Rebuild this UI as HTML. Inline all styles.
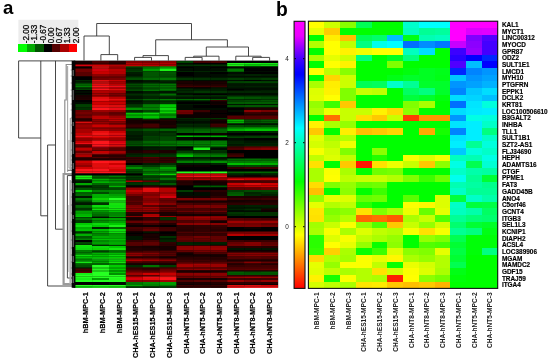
<!DOCTYPE html>
<html><head><meta charset="utf-8"><title>Figure</title>
<style>html,body{margin:0;padding:0;background:#fff}body{width:550px;height:360px;position:relative;overflow:hidden;font-family:"Liberation Sans",sans-serif}</style>
</head><body>
<svg width="550" height="360" viewBox="0 0 550 360" style="position:absolute;left:0;top:0">
<rect width="550" height="360" fill="#fff"/>
<defs><filter id="bl" x="-2%" y="-2%" width="104%" height="104%"><feGaussianBlur stdDeviation="0.35 0.6"/></filter></defs>
<g filter="url(#bl)">
<rect x="73.4" y="60.6" width="204.8" height="227.2" fill="#000"/>
<rect x="75.20" y="61.00" width="16.94" height="2.05" fill="#190000"/>
<rect x="75.20" y="63.00" width="16.94" height="1.55" fill="#130000"/>
<rect x="75.20" y="64.50" width="16.94" height="2.05" fill="#d70608"/>
<rect x="75.20" y="66.50" width="16.94" height="1.05" fill="#150000"/>
<rect x="75.20" y="67.50" width="16.94" height="1.05" fill="#0a0000"/>
<rect x="75.20" y="68.50" width="16.94" height="2.55" fill="#720000"/>
<rect x="75.20" y="71.00" width="16.94" height="1.05" fill="#720000"/>
<rect x="75.20" y="72.00" width="16.94" height="2.05" fill="#590000"/>
<rect x="75.20" y="74.00" width="16.94" height="2.55" fill="#580000"/>
<rect x="75.20" y="76.50" width="16.94" height="1.05" fill="#000100"/>
<rect x="75.20" y="77.50" width="16.94" height="2.55" fill="#000400"/>
<rect x="75.20" y="80.00" width="16.94" height="1.55" fill="#002b00"/>
<rect x="75.20" y="81.50" width="16.94" height="1.05" fill="#001200"/>
<rect x="75.20" y="82.50" width="16.94" height="1.05" fill="#003a00"/>
<rect x="75.20" y="83.50" width="16.94" height="2.05" fill="#006300"/>
<rect x="75.20" y="85.50" width="16.94" height="2.05" fill="#007d00"/>
<rect x="75.20" y="87.50" width="16.94" height="1.05" fill="#003500"/>
<rect x="75.20" y="88.50" width="16.94" height="1.55" fill="#004000"/>
<rect x="75.20" y="90.00" width="16.94" height="1.05" fill="#000000"/>
<rect x="75.20" y="91.00" width="16.94" height="2.55" fill="#000900"/>
<rect x="75.20" y="93.50" width="16.94" height="2.05" fill="#000800"/>
<rect x="75.20" y="95.50" width="16.94" height="1.05" fill="#290000"/>
<rect x="75.20" y="96.50" width="16.94" height="2.55" fill="#1a0000"/>
<rect x="75.20" y="99.00" width="16.94" height="1.05" fill="#230000"/>
<rect x="75.20" y="100.00" width="16.94" height="1.55" fill="#000200"/>
<rect x="75.20" y="101.50" width="16.94" height="2.55" fill="#000b00"/>
<rect x="75.20" y="104.00" width="16.94" height="1.05" fill="#003e00"/>
<rect x="75.20" y="105.00" width="16.94" height="2.55" fill="#004000"/>
<rect x="75.20" y="107.50" width="16.94" height="2.55" fill="#003000"/>
<rect x="75.20" y="110.00" width="16.94" height="2.05" fill="#660000"/>
<rect x="75.20" y="112.00" width="16.94" height="1.05" fill="#740000"/>
<rect x="75.20" y="113.00" width="16.94" height="1.55" fill="#740000"/>
<rect x="75.20" y="114.50" width="16.94" height="1.05" fill="#870000"/>
<rect x="75.20" y="115.50" width="16.94" height="2.55" fill="#710000"/>
<rect x="75.20" y="118.00" width="16.94" height="1.55" fill="#320000"/>
<rect x="75.20" y="119.50" width="16.94" height="2.05" fill="#290000"/>
<rect x="75.20" y="121.50" width="16.94" height="2.05" fill="#d80709"/>
<rect x="75.20" y="123.50" width="16.94" height="1.55" fill="#890000"/>
<rect x="75.20" y="125.00" width="16.94" height="2.55" fill="#990000"/>
<rect x="75.20" y="127.50" width="16.94" height="1.05" fill="#c80000"/>
<rect x="75.20" y="128.50" width="16.94" height="2.55" fill="#a90000"/>
<rect x="75.20" y="131.00" width="16.94" height="2.05" fill="#a70000"/>
<rect x="75.20" y="133.00" width="16.94" height="2.55" fill="#c80000"/>
<rect x="75.20" y="135.50" width="16.94" height="1.55" fill="#ef1115"/>
<rect x="75.20" y="137.00" width="16.94" height="1.05" fill="#b60000"/>
<rect x="75.20" y="138.00" width="16.94" height="2.55" fill="#900000"/>
<rect x="75.20" y="140.50" width="16.94" height="2.55" fill="#c40000"/>
<rect x="75.20" y="143.00" width="16.94" height="1.55" fill="#eb1013"/>
<rect x="75.20" y="144.50" width="16.94" height="2.05" fill="#590000"/>
<rect x="75.20" y="146.50" width="16.94" height="1.05" fill="#6b0000"/>
<rect x="75.20" y="147.50" width="16.94" height="2.55" fill="#bb0000"/>
<rect x="75.20" y="150.00" width="16.94" height="1.05" fill="#9b0000"/>
<rect x="75.20" y="151.00" width="16.94" height="2.55" fill="#620000"/>
<rect x="75.20" y="153.50" width="16.94" height="1.05" fill="#e70e11"/>
<rect x="75.20" y="154.50" width="16.94" height="2.55" fill="#ad0000"/>
<rect x="75.20" y="157.00" width="16.94" height="1.55" fill="#3e0000"/>
<rect x="75.20" y="158.50" width="16.94" height="2.05" fill="#210000"/>
<rect x="75.20" y="160.50" width="16.94" height="2.55" fill="#ca0101"/>
<rect x="75.20" y="163.00" width="16.94" height="2.05" fill="#ab0000"/>
<rect x="75.20" y="165.00" width="16.94" height="2.05" fill="#900000"/>
<rect x="75.20" y="167.00" width="16.94" height="2.05" fill="#ce0203"/>
<rect x="75.20" y="169.00" width="16.94" height="2.55" fill="#fc171c"/>
<rect x="75.20" y="171.50" width="16.94" height="2.05" fill="#ff181e"/>
<rect x="75.20" y="173.50" width="16.94" height="2.05" fill="#000400"/>
<rect x="75.20" y="175.50" width="16.94" height="2.05" fill="#1aed16"/>
<rect x="75.20" y="177.50" width="16.94" height="1.55" fill="#16e713"/>
<rect x="75.20" y="179.00" width="16.94" height="1.55" fill="#006300"/>
<rect x="75.20" y="180.50" width="16.94" height="1.55" fill="#001500"/>
<rect x="75.20" y="182.00" width="16.94" height="1.05" fill="#001200"/>
<rect x="75.20" y="183.00" width="16.94" height="2.55" fill="#00a800"/>
<rect x="75.20" y="185.50" width="16.94" height="2.05" fill="#001400"/>
<rect x="75.20" y="187.50" width="16.94" height="2.55" fill="#005300"/>
<rect x="75.20" y="190.00" width="16.94" height="2.05" fill="#04ce03"/>
<rect x="75.20" y="192.00" width="16.94" height="2.05" fill="#005d00"/>
<rect x="75.20" y="194.00" width="16.94" height="2.05" fill="#006700"/>
<rect x="75.20" y="196.00" width="16.94" height="2.05" fill="#001600"/>
<rect x="75.20" y="198.00" width="16.94" height="2.55" fill="#007c00"/>
<rect x="75.20" y="200.50" width="16.94" height="1.05" fill="#007700"/>
<rect x="75.20" y="201.50" width="16.94" height="1.05" fill="#004d00"/>
<rect x="75.20" y="202.50" width="16.94" height="2.55" fill="#001900"/>
<rect x="75.20" y="205.00" width="16.94" height="2.05" fill="#006b00"/>
<rect x="75.20" y="207.00" width="16.94" height="1.55" fill="#005f00"/>
<rect x="75.20" y="208.50" width="16.94" height="2.05" fill="#003500"/>
<rect x="75.20" y="210.50" width="16.94" height="1.55" fill="#00a200"/>
<rect x="75.20" y="212.00" width="16.94" height="2.05" fill="#009b00"/>
<rect x="75.20" y="214.00" width="16.94" height="2.05" fill="#00b500"/>
<rect x="75.20" y="216.00" width="16.94" height="1.05" fill="#00c300"/>
<rect x="75.20" y="217.00" width="16.94" height="1.05" fill="#004500"/>
<rect x="75.20" y="218.00" width="16.94" height="2.55" fill="#006b00"/>
<rect x="75.20" y="220.50" width="16.94" height="2.55" fill="#003800"/>
<rect x="75.20" y="223.00" width="16.94" height="2.05" fill="#03cd03"/>
<rect x="75.20" y="225.00" width="16.94" height="2.05" fill="#11e00e"/>
<rect x="75.20" y="227.00" width="16.94" height="2.05" fill="#00b000"/>
<rect x="75.20" y="229.00" width="16.94" height="2.55" fill="#00c200"/>
<rect x="75.20" y="231.50" width="16.94" height="2.05" fill="#002d00"/>
<rect x="75.20" y="233.50" width="16.94" height="2.55" fill="#00af00"/>
<rect x="75.20" y="236.00" width="16.94" height="2.05" fill="#005600"/>
<rect x="75.20" y="238.00" width="16.94" height="1.05" fill="#006800"/>
<rect x="75.20" y="239.00" width="16.94" height="1.05" fill="#007f00"/>
<rect x="75.20" y="240.00" width="16.94" height="2.05" fill="#000200"/>
<rect x="75.20" y="242.00" width="16.94" height="2.05" fill="#004400"/>
<rect x="75.20" y="244.00" width="16.94" height="1.05" fill="#003300"/>
<rect x="75.20" y="245.00" width="16.94" height="1.05" fill="#13e411"/>
<rect x="75.20" y="246.00" width="16.94" height="2.05" fill="#11e00e"/>
<rect x="75.20" y="248.00" width="16.94" height="2.55" fill="#0ad608"/>
<rect x="75.20" y="250.50" width="16.94" height="2.05" fill="#007b00"/>
<rect x="75.20" y="252.50" width="16.94" height="2.05" fill="#007f00"/>
<rect x="75.20" y="254.50" width="16.94" height="2.05" fill="#0bd90a"/>
<rect x="75.20" y="256.50" width="16.94" height="2.05" fill="#00be00"/>
<rect x="75.20" y="258.50" width="16.94" height="1.05" fill="#00c600"/>
<rect x="75.20" y="259.50" width="16.94" height="2.05" fill="#008500"/>
<rect x="75.20" y="261.50" width="16.94" height="2.05" fill="#15e612"/>
<rect x="75.20" y="263.50" width="16.94" height="1.55" fill="#005d00"/>
<rect x="75.20" y="265.00" width="16.94" height="2.55" fill="#005300"/>
<rect x="75.20" y="267.50" width="16.94" height="1.05" fill="#002c00"/>
<rect x="75.20" y="268.50" width="16.94" height="2.05" fill="#440000"/>
<rect x="75.20" y="270.50" width="16.94" height="1.05" fill="#400000"/>
<rect x="75.20" y="271.50" width="16.94" height="1.55" fill="#5b0000"/>
<rect x="75.20" y="273.00" width="16.94" height="2.05" fill="#19ec16"/>
<rect x="75.20" y="275.00" width="16.94" height="1.55" fill="#26ff21"/>
<rect x="75.20" y="276.50" width="16.94" height="1.55" fill="#22f91d"/>
<rect x="75.20" y="278.00" width="16.94" height="2.05" fill="#19ed16"/>
<rect x="75.20" y="280.00" width="16.94" height="2.05" fill="#26ff21"/>
<rect x="75.20" y="282.00" width="16.94" height="2.05" fill="#000500"/>
<rect x="75.20" y="284.00" width="16.94" height="1.05" fill="#070000"/>
<rect x="75.20" y="285.00" width="16.94" height="1.55" fill="#26ff21"/>
<rect x="75.20" y="286.50" width="16.94" height="1.35" fill="#0ddb0b"/>
<rect x="92.09" y="61.00" width="16.94" height="2.05" fill="#450000"/>
<rect x="92.09" y="63.00" width="16.94" height="1.55" fill="#380000"/>
<rect x="92.09" y="64.50" width="16.94" height="2.05" fill="#d20405"/>
<rect x="92.09" y="66.50" width="16.94" height="1.05" fill="#fa161b"/>
<rect x="92.09" y="67.50" width="16.94" height="1.05" fill="#ee1115"/>
<rect x="92.09" y="68.50" width="16.94" height="2.55" fill="#d50607"/>
<rect x="92.09" y="71.00" width="16.94" height="1.05" fill="#bf0000"/>
<rect x="92.09" y="72.00" width="16.94" height="2.05" fill="#c80000"/>
<rect x="92.09" y="74.00" width="16.94" height="2.55" fill="#8e0000"/>
<rect x="92.09" y="76.50" width="16.94" height="1.05" fill="#920000"/>
<rect x="92.09" y="77.50" width="16.94" height="2.55" fill="#700000"/>
<rect x="92.09" y="80.00" width="16.94" height="1.55" fill="#dc090b"/>
<rect x="92.09" y="81.50" width="16.94" height="1.05" fill="#e10b0d"/>
<rect x="92.09" y="82.50" width="16.94" height="1.05" fill="#e90e12"/>
<rect x="92.09" y="83.50" width="16.94" height="2.05" fill="#e20c0e"/>
<rect x="92.09" y="85.50" width="16.94" height="2.05" fill="#ff181e"/>
<rect x="92.09" y="87.50" width="16.94" height="1.05" fill="#e40d0f"/>
<rect x="92.09" y="88.50" width="16.94" height="1.55" fill="#fc171c"/>
<rect x="92.09" y="90.00" width="16.94" height="1.05" fill="#a30000"/>
<rect x="92.09" y="91.00" width="16.94" height="2.55" fill="#b00000"/>
<rect x="92.09" y="93.50" width="16.94" height="2.05" fill="#a50000"/>
<rect x="92.09" y="95.50" width="16.94" height="1.05" fill="#a10000"/>
<rect x="92.09" y="96.50" width="16.94" height="2.55" fill="#dd090b"/>
<rect x="92.09" y="99.00" width="16.94" height="1.05" fill="#ee1115"/>
<rect x="92.09" y="100.00" width="16.94" height="1.55" fill="#e70e11"/>
<rect x="92.09" y="101.50" width="16.94" height="2.55" fill="#cd0202"/>
<rect x="92.09" y="104.00" width="16.94" height="1.05" fill="#bf0000"/>
<rect x="92.09" y="105.00" width="16.94" height="2.55" fill="#e40d0f"/>
<rect x="92.09" y="107.50" width="16.94" height="2.55" fill="#ff181e"/>
<rect x="92.09" y="110.00" width="16.94" height="2.05" fill="#9d0000"/>
<rect x="92.09" y="112.00" width="16.94" height="1.05" fill="#780000"/>
<rect x="92.09" y="113.00" width="16.94" height="1.55" fill="#740000"/>
<rect x="92.09" y="114.50" width="16.94" height="1.05" fill="#a90000"/>
<rect x="92.09" y="115.50" width="16.94" height="2.55" fill="#ba0000"/>
<rect x="92.09" y="118.00" width="16.94" height="1.55" fill="#be0000"/>
<rect x="92.09" y="119.50" width="16.94" height="2.05" fill="#8c0000"/>
<rect x="92.09" y="121.50" width="16.94" height="2.05" fill="#970000"/>
<rect x="92.09" y="123.50" width="16.94" height="1.55" fill="#a70000"/>
<rect x="92.09" y="125.00" width="16.94" height="2.55" fill="#cc0102"/>
<rect x="92.09" y="127.50" width="16.94" height="1.05" fill="#b00000"/>
<rect x="92.09" y="128.50" width="16.94" height="2.55" fill="#970000"/>
<rect x="92.09" y="131.00" width="16.94" height="2.05" fill="#e70e11"/>
<rect x="92.09" y="133.00" width="16.94" height="2.55" fill="#f01216"/>
<rect x="92.09" y="135.50" width="16.94" height="1.55" fill="#e50d10"/>
<rect x="92.09" y="137.00" width="16.94" height="1.05" fill="#d00304"/>
<rect x="92.09" y="138.00" width="16.94" height="2.55" fill="#a40000"/>
<rect x="92.09" y="140.50" width="16.94" height="2.55" fill="#fa161b"/>
<rect x="92.09" y="143.00" width="16.94" height="1.55" fill="#ff181e"/>
<rect x="92.09" y="144.50" width="16.94" height="2.05" fill="#f7151a"/>
<rect x="92.09" y="146.50" width="16.94" height="1.05" fill="#fe181e"/>
<rect x="92.09" y="147.50" width="16.94" height="2.55" fill="#770000"/>
<rect x="92.09" y="150.00" width="16.94" height="1.05" fill="#5c0000"/>
<rect x="92.09" y="151.00" width="16.94" height="2.55" fill="#c50000"/>
<rect x="92.09" y="153.50" width="16.94" height="1.05" fill="#e90f12"/>
<rect x="92.09" y="154.50" width="16.94" height="2.55" fill="#2b0000"/>
<rect x="92.09" y="157.00" width="16.94" height="1.55" fill="#540000"/>
<rect x="92.09" y="158.50" width="16.94" height="2.05" fill="#1e0000"/>
<rect x="92.09" y="160.50" width="16.94" height="2.55" fill="#ff181e"/>
<rect x="92.09" y="163.00" width="16.94" height="2.05" fill="#df0a0d"/>
<rect x="92.09" y="165.00" width="16.94" height="2.05" fill="#e10b0d"/>
<rect x="92.09" y="167.00" width="16.94" height="2.05" fill="#d70708"/>
<rect x="92.09" y="169.00" width="16.94" height="2.55" fill="#fc171c"/>
<rect x="92.09" y="171.50" width="16.94" height="2.05" fill="#ff181e"/>
<rect x="92.09" y="173.50" width="16.94" height="2.05" fill="#040000"/>
<rect x="92.09" y="175.50" width="16.94" height="2.05" fill="#006300"/>
<rect x="92.09" y="177.50" width="16.94" height="1.55" fill="#006500"/>
<rect x="92.09" y="179.00" width="16.94" height="1.55" fill="#00ad00"/>
<rect x="92.09" y="180.50" width="16.94" height="1.55" fill="#009e00"/>
<rect x="92.09" y="182.00" width="16.94" height="1.05" fill="#00b100"/>
<rect x="92.09" y="183.00" width="16.94" height="2.55" fill="#006500"/>
<rect x="92.09" y="185.50" width="16.94" height="2.05" fill="#003b00"/>
<rect x="92.09" y="187.50" width="16.94" height="2.55" fill="#004200"/>
<rect x="92.09" y="190.00" width="16.94" height="2.05" fill="#007e00"/>
<rect x="92.09" y="192.00" width="16.94" height="2.05" fill="#004c00"/>
<rect x="92.09" y="194.00" width="16.94" height="2.05" fill="#00b200"/>
<rect x="92.09" y="196.00" width="16.94" height="2.05" fill="#00ad00"/>
<rect x="92.09" y="198.00" width="16.94" height="2.55" fill="#07d206"/>
<rect x="92.09" y="200.50" width="16.94" height="1.05" fill="#14e511"/>
<rect x="92.09" y="201.50" width="16.94" height="1.05" fill="#12e20f"/>
<rect x="92.09" y="202.50" width="16.94" height="2.55" fill="#003100"/>
<rect x="92.09" y="205.00" width="16.94" height="2.05" fill="#0ddb0b"/>
<rect x="92.09" y="207.00" width="16.94" height="1.55" fill="#00b700"/>
<rect x="92.09" y="208.50" width="16.94" height="2.05" fill="#0fde0d"/>
<rect x="92.09" y="210.50" width="16.94" height="1.55" fill="#009800"/>
<rect x="92.09" y="212.00" width="16.94" height="2.05" fill="#007800"/>
<rect x="92.09" y="214.00" width="16.94" height="2.05" fill="#006900"/>
<rect x="92.09" y="216.00" width="16.94" height="1.05" fill="#004800"/>
<rect x="92.09" y="217.00" width="16.94" height="1.05" fill="#001100"/>
<rect x="92.09" y="218.00" width="16.94" height="2.55" fill="#009500"/>
<rect x="92.09" y="220.50" width="16.94" height="2.55" fill="#008b00"/>
<rect x="92.09" y="223.00" width="16.94" height="2.05" fill="#0bd809"/>
<rect x="92.09" y="225.00" width="16.94" height="2.05" fill="#01ca01"/>
<rect x="92.09" y="227.00" width="16.94" height="2.05" fill="#002500"/>
<rect x="92.09" y="229.00" width="16.94" height="2.55" fill="#00bf00"/>
<rect x="92.09" y="231.50" width="16.94" height="2.05" fill="#00a500"/>
<rect x="92.09" y="233.50" width="16.94" height="2.55" fill="#008300"/>
<rect x="92.09" y="236.00" width="16.94" height="2.05" fill="#00ac00"/>
<rect x="92.09" y="238.00" width="16.94" height="1.05" fill="#008f00"/>
<rect x="92.09" y="239.00" width="16.94" height="1.05" fill="#00c000"/>
<rect x="92.09" y="240.00" width="16.94" height="2.05" fill="#008700"/>
<rect x="92.09" y="242.00" width="16.94" height="2.05" fill="#009e00"/>
<rect x="92.09" y="244.00" width="16.94" height="1.05" fill="#006f00"/>
<rect x="92.09" y="245.00" width="16.94" height="1.05" fill="#002a00"/>
<rect x="92.09" y="246.00" width="16.94" height="2.05" fill="#09d608"/>
<rect x="92.09" y="248.00" width="16.94" height="2.55" fill="#07d206"/>
<rect x="92.09" y="250.50" width="16.94" height="2.05" fill="#004100"/>
<rect x="92.09" y="252.50" width="16.94" height="2.05" fill="#00b200"/>
<rect x="92.09" y="254.50" width="16.94" height="2.05" fill="#00be00"/>
<rect x="92.09" y="256.50" width="16.94" height="2.05" fill="#00c200"/>
<rect x="92.09" y="258.50" width="16.94" height="1.05" fill="#23fa1e"/>
<rect x="92.09" y="259.50" width="16.94" height="2.05" fill="#009d00"/>
<rect x="92.09" y="261.50" width="16.94" height="2.05" fill="#00a300"/>
<rect x="92.09" y="263.50" width="16.94" height="1.55" fill="#006400"/>
<rect x="92.09" y="265.00" width="16.94" height="2.55" fill="#26ff21"/>
<rect x="92.09" y="267.50" width="16.94" height="1.05" fill="#26ff21"/>
<rect x="92.09" y="268.50" width="16.94" height="2.05" fill="#21f81c"/>
<rect x="92.09" y="270.50" width="16.94" height="1.05" fill="#26ff21"/>
<rect x="92.09" y="271.50" width="16.94" height="1.55" fill="#26ff21"/>
<rect x="92.09" y="273.00" width="16.94" height="2.05" fill="#26ff21"/>
<rect x="92.09" y="275.00" width="16.94" height="1.55" fill="#26ff21"/>
<rect x="92.09" y="276.50" width="16.94" height="1.55" fill="#26ff21"/>
<rect x="92.09" y="278.00" width="16.94" height="2.05" fill="#00a200"/>
<rect x="92.09" y="280.00" width="16.94" height="2.05" fill="#26ff21"/>
<rect x="92.09" y="282.00" width="16.94" height="2.05" fill="#060000"/>
<rect x="92.09" y="284.00" width="16.94" height="1.05" fill="#000000"/>
<rect x="92.09" y="285.00" width="16.94" height="1.55" fill="#26ff21"/>
<rect x="92.09" y="286.50" width="16.94" height="1.35" fill="#18ea14"/>
<rect x="108.98" y="61.00" width="16.94" height="2.05" fill="#2c0000"/>
<rect x="108.98" y="63.00" width="16.94" height="1.55" fill="#250000"/>
<rect x="108.98" y="64.50" width="16.94" height="2.05" fill="#b20000"/>
<rect x="108.98" y="66.50" width="16.94" height="1.05" fill="#ce0203"/>
<rect x="108.98" y="67.50" width="16.94" height="1.05" fill="#a70000"/>
<rect x="108.98" y="68.50" width="16.94" height="2.55" fill="#b90000"/>
<rect x="108.98" y="71.00" width="16.94" height="1.05" fill="#ad0000"/>
<rect x="108.98" y="72.00" width="16.94" height="2.05" fill="#b30000"/>
<rect x="108.98" y="74.00" width="16.94" height="2.55" fill="#830000"/>
<rect x="108.98" y="76.50" width="16.94" height="1.05" fill="#890000"/>
<rect x="108.98" y="77.50" width="16.94" height="2.55" fill="#770000"/>
<rect x="108.98" y="80.00" width="16.94" height="1.55" fill="#c50000"/>
<rect x="108.98" y="81.50" width="16.94" height="1.05" fill="#b80000"/>
<rect x="108.98" y="82.50" width="16.94" height="1.05" fill="#db080a"/>
<rect x="108.98" y="83.50" width="16.94" height="2.05" fill="#bd0000"/>
<rect x="108.98" y="85.50" width="16.94" height="2.05" fill="#ed1114"/>
<rect x="108.98" y="87.50" width="16.94" height="1.05" fill="#d00304"/>
<rect x="108.98" y="88.50" width="16.94" height="1.55" fill="#d90809"/>
<rect x="108.98" y="90.00" width="16.94" height="1.05" fill="#aa0000"/>
<rect x="108.98" y="91.00" width="16.94" height="2.55" fill="#a10000"/>
<rect x="108.98" y="93.50" width="16.94" height="2.05" fill="#7a0000"/>
<rect x="108.98" y="95.50" width="16.94" height="1.05" fill="#880000"/>
<rect x="108.98" y="96.50" width="16.94" height="2.55" fill="#b80000"/>
<rect x="108.98" y="99.00" width="16.94" height="1.05" fill="#e00b0d"/>
<rect x="108.98" y="100.00" width="16.94" height="1.55" fill="#c80000"/>
<rect x="108.98" y="101.50" width="16.94" height="2.55" fill="#c60000"/>
<rect x="108.98" y="104.00" width="16.94" height="1.05" fill="#a20000"/>
<rect x="108.98" y="105.00" width="16.94" height="2.55" fill="#da080a"/>
<rect x="108.98" y="107.50" width="16.94" height="2.55" fill="#ea0f12"/>
<rect x="108.98" y="110.00" width="16.94" height="2.05" fill="#940000"/>
<rect x="108.98" y="112.00" width="16.94" height="1.05" fill="#5e0000"/>
<rect x="108.98" y="113.00" width="16.94" height="1.55" fill="#5a0000"/>
<rect x="108.98" y="114.50" width="16.94" height="1.05" fill="#930000"/>
<rect x="108.98" y="115.50" width="16.94" height="2.55" fill="#9a0000"/>
<rect x="108.98" y="118.00" width="16.94" height="1.55" fill="#b70000"/>
<rect x="108.98" y="119.50" width="16.94" height="2.05" fill="#bc0000"/>
<rect x="108.98" y="121.50" width="16.94" height="2.05" fill="#850000"/>
<rect x="108.98" y="123.50" width="16.94" height="1.55" fill="#810000"/>
<rect x="108.98" y="125.00" width="16.94" height="2.55" fill="#bf0000"/>
<rect x="108.98" y="127.50" width="16.94" height="1.05" fill="#b30000"/>
<rect x="108.98" y="128.50" width="16.94" height="2.55" fill="#890000"/>
<rect x="108.98" y="131.00" width="16.94" height="2.05" fill="#c80000"/>
<rect x="108.98" y="133.00" width="16.94" height="2.55" fill="#db080a"/>
<rect x="108.98" y="135.50" width="16.94" height="1.55" fill="#db080a"/>
<rect x="108.98" y="137.00" width="16.94" height="1.05" fill="#b00000"/>
<rect x="108.98" y="138.00" width="16.94" height="2.55" fill="#9c0000"/>
<rect x="108.98" y="140.50" width="16.94" height="2.55" fill="#d60607"/>
<rect x="108.98" y="143.00" width="16.94" height="1.55" fill="#e30c0f"/>
<rect x="108.98" y="144.50" width="16.94" height="2.05" fill="#d80709"/>
<rect x="108.98" y="146.50" width="16.94" height="1.05" fill="#e50d10"/>
<rect x="108.98" y="147.50" width="16.94" height="2.55" fill="#550000"/>
<rect x="108.98" y="150.00" width="16.94" height="1.05" fill="#560000"/>
<rect x="108.98" y="151.00" width="16.94" height="2.55" fill="#a10000"/>
<rect x="108.98" y="153.50" width="16.94" height="1.05" fill="#b00000"/>
<rect x="108.98" y="154.50" width="16.94" height="2.55" fill="#290000"/>
<rect x="108.98" y="157.00" width="16.94" height="1.55" fill="#3d0000"/>
<rect x="108.98" y="158.50" width="16.94" height="2.05" fill="#210000"/>
<rect x="108.98" y="160.50" width="16.94" height="2.55" fill="#f41418"/>
<rect x="108.98" y="163.00" width="16.94" height="2.05" fill="#cc0202"/>
<rect x="108.98" y="165.00" width="16.94" height="2.05" fill="#ed1014"/>
<rect x="108.98" y="167.00" width="16.94" height="2.05" fill="#dc090b"/>
<rect x="108.98" y="169.00" width="16.94" height="2.55" fill="#d40506"/>
<rect x="108.98" y="171.50" width="16.94" height="2.05" fill="#ff181e"/>
<rect x="108.98" y="173.50" width="16.94" height="2.05" fill="#000000"/>
<rect x="108.98" y="175.50" width="16.94" height="2.05" fill="#007d00"/>
<rect x="108.98" y="177.50" width="16.94" height="1.55" fill="#005100"/>
<rect x="108.98" y="179.00" width="16.94" height="1.55" fill="#008c00"/>
<rect x="108.98" y="180.50" width="16.94" height="1.55" fill="#008600"/>
<rect x="108.98" y="182.00" width="16.94" height="1.05" fill="#009d00"/>
<rect x="108.98" y="183.00" width="16.94" height="2.55" fill="#006f00"/>
<rect x="108.98" y="185.50" width="16.94" height="2.05" fill="#00b300"/>
<rect x="108.98" y="187.50" width="16.94" height="2.55" fill="#004700"/>
<rect x="108.98" y="190.00" width="16.94" height="2.05" fill="#008600"/>
<rect x="108.98" y="192.00" width="16.94" height="2.05" fill="#007b00"/>
<rect x="108.98" y="194.00" width="16.94" height="2.05" fill="#009e00"/>
<rect x="108.98" y="196.00" width="16.94" height="2.05" fill="#00b000"/>
<rect x="108.98" y="198.00" width="16.94" height="2.55" fill="#26fe20"/>
<rect x="108.98" y="200.50" width="16.94" height="1.05" fill="#15e612"/>
<rect x="108.98" y="201.50" width="16.94" height="1.05" fill="#26ff21"/>
<rect x="108.98" y="202.50" width="16.94" height="2.55" fill="#12e210"/>
<rect x="108.98" y="205.00" width="16.94" height="2.05" fill="#11e10f"/>
<rect x="108.98" y="207.00" width="16.94" height="1.55" fill="#14e411"/>
<rect x="108.98" y="208.50" width="16.94" height="2.05" fill="#12e10f"/>
<rect x="108.98" y="210.50" width="16.94" height="1.55" fill="#00c000"/>
<rect x="108.98" y="212.00" width="16.94" height="2.05" fill="#008400"/>
<rect x="108.98" y="214.00" width="16.94" height="2.05" fill="#008600"/>
<rect x="108.98" y="216.00" width="16.94" height="1.05" fill="#009500"/>
<rect x="108.98" y="217.00" width="16.94" height="1.05" fill="#003200"/>
<rect x="108.98" y="218.00" width="16.94" height="2.55" fill="#00a200"/>
<rect x="108.98" y="220.50" width="16.94" height="2.55" fill="#00a300"/>
<rect x="108.98" y="223.00" width="16.94" height="2.05" fill="#01ca01"/>
<rect x="108.98" y="225.00" width="16.94" height="2.05" fill="#1cf118"/>
<rect x="108.98" y="227.00" width="16.94" height="2.05" fill="#006500"/>
<rect x="108.98" y="229.00" width="16.94" height="2.55" fill="#11e10f"/>
<rect x="108.98" y="231.50" width="16.94" height="2.05" fill="#0cd90a"/>
<rect x="108.98" y="233.50" width="16.94" height="2.55" fill="#009c00"/>
<rect x="108.98" y="236.00" width="16.94" height="2.05" fill="#00a500"/>
<rect x="108.98" y="238.00" width="16.94" height="1.05" fill="#009300"/>
<rect x="108.98" y="239.00" width="16.94" height="1.05" fill="#00be00"/>
<rect x="108.98" y="240.00" width="16.94" height="2.05" fill="#009c00"/>
<rect x="108.98" y="242.00" width="16.94" height="2.05" fill="#00ab00"/>
<rect x="108.98" y="244.00" width="16.94" height="1.05" fill="#009b00"/>
<rect x="108.98" y="245.00" width="16.94" height="1.05" fill="#003900"/>
<rect x="108.98" y="246.00" width="16.94" height="2.05" fill="#00c900"/>
<rect x="108.98" y="248.00" width="16.94" height="2.55" fill="#14e511"/>
<rect x="108.98" y="250.50" width="16.94" height="2.05" fill="#006d00"/>
<rect x="108.98" y="252.50" width="16.94" height="2.05" fill="#00bc00"/>
<rect x="108.98" y="254.50" width="16.94" height="2.05" fill="#0ad608"/>
<rect x="108.98" y="256.50" width="16.94" height="2.05" fill="#06d105"/>
<rect x="108.98" y="258.50" width="16.94" height="1.05" fill="#23fb1e"/>
<rect x="108.98" y="259.50" width="16.94" height="2.05" fill="#04ce03"/>
<rect x="108.98" y="261.50" width="16.94" height="2.05" fill="#12e20f"/>
<rect x="108.98" y="263.50" width="16.94" height="1.55" fill="#007d00"/>
<rect x="108.98" y="265.00" width="16.94" height="2.55" fill="#03cd03"/>
<rect x="108.98" y="267.50" width="16.94" height="1.05" fill="#0dda0b"/>
<rect x="108.98" y="268.50" width="16.94" height="2.05" fill="#02cb01"/>
<rect x="108.98" y="270.50" width="16.94" height="1.05" fill="#00ab00"/>
<rect x="108.98" y="271.50" width="16.94" height="1.55" fill="#00c400"/>
<rect x="108.98" y="273.00" width="16.94" height="2.05" fill="#008f00"/>
<rect x="108.98" y="275.00" width="16.94" height="1.55" fill="#26ff21"/>
<rect x="108.98" y="276.50" width="16.94" height="1.55" fill="#26ff21"/>
<rect x="108.98" y="278.00" width="16.94" height="2.05" fill="#21f81c"/>
<rect x="108.98" y="280.00" width="16.94" height="2.05" fill="#26ff21"/>
<rect x="108.98" y="282.00" width="16.94" height="2.05" fill="#000800"/>
<rect x="108.98" y="284.00" width="16.94" height="1.05" fill="#000800"/>
<rect x="108.98" y="285.00" width="16.94" height="1.55" fill="#26ff21"/>
<rect x="108.98" y="286.50" width="16.94" height="1.35" fill="#10de0d"/>
<rect x="125.88" y="61.00" width="16.94" height="2.05" fill="#800000"/>
<rect x="125.88" y="63.00" width="16.94" height="1.55" fill="#b20000"/>
<rect x="125.88" y="64.50" width="16.94" height="2.05" fill="#bf0000"/>
<rect x="125.88" y="66.50" width="16.94" height="1.05" fill="#007400"/>
<rect x="125.88" y="67.50" width="16.94" height="1.05" fill="#003300"/>
<rect x="125.88" y="68.50" width="16.94" height="2.55" fill="#003100"/>
<rect x="125.88" y="71.00" width="16.94" height="1.05" fill="#003c00"/>
<rect x="125.88" y="72.00" width="16.94" height="2.05" fill="#001f00"/>
<rect x="125.88" y="74.00" width="16.94" height="2.55" fill="#001600"/>
<rect x="125.88" y="76.50" width="16.94" height="1.05" fill="#004500"/>
<rect x="125.88" y="77.50" width="16.94" height="2.55" fill="#004e00"/>
<rect x="125.88" y="80.00" width="16.94" height="1.55" fill="#000f00"/>
<rect x="125.88" y="81.50" width="16.94" height="1.05" fill="#001700"/>
<rect x="125.88" y="82.50" width="16.94" height="1.05" fill="#002200"/>
<rect x="125.88" y="83.50" width="16.94" height="2.05" fill="#004d00"/>
<rect x="125.88" y="85.50" width="16.94" height="2.05" fill="#004900"/>
<rect x="125.88" y="87.50" width="16.94" height="1.05" fill="#003f00"/>
<rect x="125.88" y="88.50" width="16.94" height="1.55" fill="#003d00"/>
<rect x="125.88" y="90.00" width="16.94" height="1.05" fill="#004600"/>
<rect x="125.88" y="91.00" width="16.94" height="2.55" fill="#000b00"/>
<rect x="125.88" y="93.50" width="16.94" height="2.05" fill="#002f00"/>
<rect x="125.88" y="95.50" width="16.94" height="1.05" fill="#002900"/>
<rect x="125.88" y="96.50" width="16.94" height="2.55" fill="#001800"/>
<rect x="125.88" y="99.00" width="16.94" height="1.05" fill="#004300"/>
<rect x="125.88" y="100.00" width="16.94" height="1.55" fill="#001500"/>
<rect x="125.88" y="101.50" width="16.94" height="2.55" fill="#001800"/>
<rect x="125.88" y="104.00" width="16.94" height="1.05" fill="#003100"/>
<rect x="125.88" y="105.00" width="16.94" height="2.55" fill="#003900"/>
<rect x="125.88" y="107.50" width="16.94" height="2.55" fill="#009200"/>
<rect x="125.88" y="110.00" width="16.94" height="2.05" fill="#002b00"/>
<rect x="125.88" y="112.00" width="16.94" height="1.05" fill="#005900"/>
<rect x="125.88" y="113.00" width="16.94" height="1.55" fill="#00c600"/>
<rect x="125.88" y="114.50" width="16.94" height="1.05" fill="#01ca01"/>
<rect x="125.88" y="115.50" width="16.94" height="2.55" fill="#00ac00"/>
<rect x="125.88" y="118.00" width="16.94" height="1.55" fill="#002700"/>
<rect x="125.88" y="119.50" width="16.94" height="2.05" fill="#170000"/>
<rect x="125.88" y="121.50" width="16.94" height="2.05" fill="#180000"/>
<rect x="125.88" y="123.50" width="16.94" height="1.55" fill="#2a0000"/>
<rect x="125.88" y="125.00" width="16.94" height="2.55" fill="#350000"/>
<rect x="125.88" y="127.50" width="16.94" height="1.05" fill="#270000"/>
<rect x="125.88" y="128.50" width="16.94" height="2.55" fill="#003e00"/>
<rect x="125.88" y="131.00" width="16.94" height="2.05" fill="#002000"/>
<rect x="125.88" y="133.00" width="16.94" height="2.55" fill="#002200"/>
<rect x="125.88" y="135.50" width="16.94" height="1.55" fill="#001700"/>
<rect x="125.88" y="137.00" width="16.94" height="1.05" fill="#001a00"/>
<rect x="125.88" y="138.00" width="16.94" height="2.55" fill="#001200"/>
<rect x="125.88" y="140.50" width="16.94" height="2.55" fill="#004400"/>
<rect x="125.88" y="143.00" width="16.94" height="1.55" fill="#004900"/>
<rect x="125.88" y="144.50" width="16.94" height="2.05" fill="#005300"/>
<rect x="125.88" y="146.50" width="16.94" height="1.05" fill="#000f00"/>
<rect x="125.88" y="147.50" width="16.94" height="2.55" fill="#001000"/>
<rect x="125.88" y="150.00" width="16.94" height="1.05" fill="#150000"/>
<rect x="125.88" y="151.00" width="16.94" height="2.55" fill="#1d0000"/>
<rect x="125.88" y="153.50" width="16.94" height="1.05" fill="#002b00"/>
<rect x="125.88" y="154.50" width="16.94" height="2.55" fill="#002600"/>
<rect x="125.88" y="157.00" width="16.94" height="1.55" fill="#340000"/>
<rect x="125.88" y="158.50" width="16.94" height="2.05" fill="#340000"/>
<rect x="125.88" y="160.50" width="16.94" height="2.55" fill="#320000"/>
<rect x="125.88" y="163.00" width="16.94" height="2.05" fill="#000000"/>
<rect x="125.88" y="165.00" width="16.94" height="2.05" fill="#005100"/>
<rect x="125.88" y="167.00" width="16.94" height="2.05" fill="#008e00"/>
<rect x="125.88" y="169.00" width="16.94" height="2.55" fill="#004a00"/>
<rect x="125.88" y="171.50" width="16.94" height="2.05" fill="#004300"/>
<rect x="125.88" y="173.50" width="16.94" height="2.05" fill="#050000"/>
<rect x="125.88" y="175.50" width="16.94" height="2.05" fill="#003f00"/>
<rect x="125.88" y="177.50" width="16.94" height="1.55" fill="#003500"/>
<rect x="125.88" y="179.00" width="16.94" height="1.55" fill="#002f00"/>
<rect x="125.88" y="180.50" width="16.94" height="1.55" fill="#a30000"/>
<rect x="125.88" y="182.00" width="16.94" height="1.05" fill="#002900"/>
<rect x="125.88" y="183.00" width="16.94" height="2.55" fill="#003000"/>
<rect x="125.88" y="185.50" width="16.94" height="2.05" fill="#080000"/>
<rect x="125.88" y="187.50" width="16.94" height="2.55" fill="#960000"/>
<rect x="125.88" y="190.00" width="16.94" height="2.05" fill="#c40000"/>
<rect x="125.88" y="192.00" width="16.94" height="2.05" fill="#a00000"/>
<rect x="125.88" y="194.00" width="16.94" height="2.05" fill="#730000"/>
<rect x="125.88" y="196.00" width="16.94" height="2.05" fill="#470000"/>
<rect x="125.88" y="198.00" width="16.94" height="2.55" fill="#480000"/>
<rect x="125.88" y="200.50" width="16.94" height="1.05" fill="#780000"/>
<rect x="125.88" y="201.50" width="16.94" height="1.05" fill="#780000"/>
<rect x="125.88" y="202.50" width="16.94" height="2.55" fill="#4d0000"/>
<rect x="125.88" y="205.00" width="16.94" height="2.05" fill="#7d0000"/>
<rect x="125.88" y="207.00" width="16.94" height="1.55" fill="#8d0000"/>
<rect x="125.88" y="208.50" width="16.94" height="2.05" fill="#890000"/>
<rect x="125.88" y="210.50" width="16.94" height="1.55" fill="#850000"/>
<rect x="125.88" y="212.00" width="16.94" height="2.05" fill="#2c0000"/>
<rect x="125.88" y="214.00" width="16.94" height="2.05" fill="#230000"/>
<rect x="125.88" y="216.00" width="16.94" height="1.05" fill="#850000"/>
<rect x="125.88" y="217.00" width="16.94" height="1.05" fill="#1d0000"/>
<rect x="125.88" y="218.00" width="16.94" height="2.55" fill="#180000"/>
<rect x="125.88" y="220.50" width="16.94" height="2.55" fill="#660000"/>
<rect x="125.88" y="223.00" width="16.94" height="2.05" fill="#210000"/>
<rect x="125.88" y="225.00" width="16.94" height="2.05" fill="#0a0000"/>
<rect x="125.88" y="227.00" width="16.94" height="2.05" fill="#470000"/>
<rect x="125.88" y="229.00" width="16.94" height="2.55" fill="#3e0000"/>
<rect x="125.88" y="231.50" width="16.94" height="2.05" fill="#080000"/>
<rect x="125.88" y="233.50" width="16.94" height="2.55" fill="#070000"/>
<rect x="125.88" y="236.00" width="16.94" height="2.05" fill="#001600"/>
<rect x="125.88" y="238.00" width="16.94" height="1.05" fill="#001500"/>
<rect x="125.88" y="239.00" width="16.94" height="1.05" fill="#001500"/>
<rect x="125.88" y="240.00" width="16.94" height="2.05" fill="#310000"/>
<rect x="125.88" y="242.00" width="16.94" height="2.05" fill="#550000"/>
<rect x="125.88" y="244.00" width="16.94" height="1.05" fill="#520000"/>
<rect x="125.88" y="245.00" width="16.94" height="1.05" fill="#510000"/>
<rect x="125.88" y="246.00" width="16.94" height="2.05" fill="#1c0000"/>
<rect x="125.88" y="248.00" width="16.94" height="2.55" fill="#210000"/>
<rect x="125.88" y="250.50" width="16.94" height="2.05" fill="#3c0000"/>
<rect x="125.88" y="252.50" width="16.94" height="2.05" fill="#8e0000"/>
<rect x="125.88" y="254.50" width="16.94" height="2.05" fill="#8d0000"/>
<rect x="125.88" y="256.50" width="16.94" height="2.05" fill="#280000"/>
<rect x="125.88" y="258.50" width="16.94" height="1.05" fill="#a10000"/>
<rect x="125.88" y="259.50" width="16.94" height="2.05" fill="#b10000"/>
<rect x="125.88" y="261.50" width="16.94" height="2.05" fill="#460000"/>
<rect x="125.88" y="263.50" width="16.94" height="1.55" fill="#130000"/>
<rect x="125.88" y="265.00" width="16.94" height="2.55" fill="#002a00"/>
<rect x="125.88" y="267.50" width="16.94" height="1.05" fill="#4b0000"/>
<rect x="125.88" y="268.50" width="16.94" height="2.05" fill="#3c0000"/>
<rect x="125.88" y="270.50" width="16.94" height="1.05" fill="#810000"/>
<rect x="125.88" y="271.50" width="16.94" height="1.55" fill="#7e0000"/>
<rect x="125.88" y="273.00" width="16.94" height="2.05" fill="#9f0000"/>
<rect x="125.88" y="275.00" width="16.94" height="1.55" fill="#560000"/>
<rect x="125.88" y="276.50" width="16.94" height="1.55" fill="#c90000"/>
<rect x="125.88" y="278.00" width="16.94" height="2.05" fill="#d70608"/>
<rect x="125.88" y="280.00" width="16.94" height="2.05" fill="#860000"/>
<rect x="125.88" y="282.00" width="16.94" height="2.05" fill="#007400"/>
<rect x="125.88" y="284.00" width="16.94" height="1.05" fill="#007700"/>
<rect x="125.88" y="285.00" width="16.94" height="1.55" fill="#00a500"/>
<rect x="125.88" y="286.50" width="16.94" height="1.35" fill="#003900"/>
<rect x="142.77" y="61.00" width="16.94" height="2.05" fill="#7a0000"/>
<rect x="142.77" y="63.00" width="16.94" height="1.55" fill="#a50000"/>
<rect x="142.77" y="64.50" width="16.94" height="2.05" fill="#b90000"/>
<rect x="142.77" y="66.50" width="16.94" height="1.05" fill="#008900"/>
<rect x="142.77" y="67.50" width="16.94" height="1.05" fill="#009600"/>
<rect x="142.77" y="68.50" width="16.94" height="2.55" fill="#009d00"/>
<rect x="142.77" y="71.00" width="16.94" height="1.05" fill="#004a00"/>
<rect x="142.77" y="72.00" width="16.94" height="2.05" fill="#005500"/>
<rect x="142.77" y="74.00" width="16.94" height="2.55" fill="#005400"/>
<rect x="142.77" y="76.50" width="16.94" height="1.05" fill="#007300"/>
<rect x="142.77" y="77.50" width="16.94" height="2.55" fill="#006700"/>
<rect x="142.77" y="80.00" width="16.94" height="1.55" fill="#001e00"/>
<rect x="142.77" y="81.50" width="16.94" height="1.05" fill="#002200"/>
<rect x="142.77" y="82.50" width="16.94" height="1.05" fill="#003000"/>
<rect x="142.77" y="83.50" width="16.94" height="2.05" fill="#006900"/>
<rect x="142.77" y="85.50" width="16.94" height="2.05" fill="#006900"/>
<rect x="142.77" y="87.50" width="16.94" height="1.05" fill="#006600"/>
<rect x="142.77" y="88.50" width="16.94" height="1.55" fill="#005600"/>
<rect x="142.77" y="90.00" width="16.94" height="1.05" fill="#006e00"/>
<rect x="142.77" y="91.00" width="16.94" height="2.55" fill="#001f00"/>
<rect x="142.77" y="93.50" width="16.94" height="2.05" fill="#003e00"/>
<rect x="142.77" y="95.50" width="16.94" height="1.05" fill="#004800"/>
<rect x="142.77" y="96.50" width="16.94" height="2.55" fill="#002600"/>
<rect x="142.77" y="99.00" width="16.94" height="1.05" fill="#006300"/>
<rect x="142.77" y="100.00" width="16.94" height="1.55" fill="#003000"/>
<rect x="142.77" y="101.50" width="16.94" height="2.55" fill="#002c00"/>
<rect x="142.77" y="104.00" width="16.94" height="1.05" fill="#006d00"/>
<rect x="142.77" y="105.00" width="16.94" height="2.55" fill="#007b00"/>
<rect x="142.77" y="107.50" width="16.94" height="2.55" fill="#008100"/>
<rect x="142.77" y="110.00" width="16.94" height="2.05" fill="#004400"/>
<rect x="142.77" y="112.00" width="16.94" height="1.05" fill="#008400"/>
<rect x="142.77" y="113.00" width="16.94" height="1.55" fill="#08d407"/>
<rect x="142.77" y="114.50" width="16.94" height="1.05" fill="#01ca01"/>
<rect x="142.77" y="115.50" width="16.94" height="2.55" fill="#00c400"/>
<rect x="142.77" y="118.00" width="16.94" height="1.55" fill="#008000"/>
<rect x="142.77" y="119.50" width="16.94" height="2.05" fill="#1a0000"/>
<rect x="142.77" y="121.50" width="16.94" height="2.05" fill="#0e0000"/>
<rect x="142.77" y="123.50" width="16.94" height="1.55" fill="#440000"/>
<rect x="142.77" y="125.00" width="16.94" height="2.55" fill="#440000"/>
<rect x="142.77" y="127.50" width="16.94" height="1.05" fill="#3d0000"/>
<rect x="142.77" y="128.50" width="16.94" height="2.55" fill="#005300"/>
<rect x="142.77" y="131.00" width="16.94" height="2.05" fill="#003000"/>
<rect x="142.77" y="133.00" width="16.94" height="2.55" fill="#002e00"/>
<rect x="142.77" y="135.50" width="16.94" height="1.55" fill="#004200"/>
<rect x="142.77" y="137.00" width="16.94" height="1.05" fill="#003e00"/>
<rect x="142.77" y="138.00" width="16.94" height="2.55" fill="#003c00"/>
<rect x="142.77" y="140.50" width="16.94" height="2.55" fill="#006500"/>
<rect x="142.77" y="143.00" width="16.94" height="1.55" fill="#005400"/>
<rect x="142.77" y="144.50" width="16.94" height="2.05" fill="#006900"/>
<rect x="142.77" y="146.50" width="16.94" height="1.05" fill="#001f00"/>
<rect x="142.77" y="147.50" width="16.94" height="2.55" fill="#001f00"/>
<rect x="142.77" y="150.00" width="16.94" height="1.05" fill="#270000"/>
<rect x="142.77" y="151.00" width="16.94" height="2.55" fill="#2e0000"/>
<rect x="142.77" y="153.50" width="16.94" height="1.05" fill="#003100"/>
<rect x="142.77" y="154.50" width="16.94" height="2.55" fill="#003100"/>
<rect x="142.77" y="157.00" width="16.94" height="1.55" fill="#530000"/>
<rect x="142.77" y="158.50" width="16.94" height="2.05" fill="#410000"/>
<rect x="142.77" y="160.50" width="16.94" height="2.55" fill="#400000"/>
<rect x="142.77" y="163.00" width="16.94" height="2.05" fill="#001e00"/>
<rect x="142.77" y="165.00" width="16.94" height="2.05" fill="#003800"/>
<rect x="142.77" y="167.00" width="16.94" height="2.05" fill="#006b00"/>
<rect x="142.77" y="169.00" width="16.94" height="2.55" fill="#007e00"/>
<rect x="142.77" y="171.50" width="16.94" height="2.05" fill="#006800"/>
<rect x="142.77" y="173.50" width="16.94" height="2.05" fill="#00a400"/>
<rect x="142.77" y="175.50" width="16.94" height="2.05" fill="#003a00"/>
<rect x="142.77" y="177.50" width="16.94" height="1.55" fill="#005000"/>
<rect x="142.77" y="179.00" width="16.94" height="1.55" fill="#004400"/>
<rect x="142.77" y="180.50" width="16.94" height="1.55" fill="#610000"/>
<rect x="142.77" y="182.00" width="16.94" height="1.05" fill="#003100"/>
<rect x="142.77" y="183.00" width="16.94" height="2.55" fill="#003d00"/>
<rect x="142.77" y="185.50" width="16.94" height="2.05" fill="#300000"/>
<rect x="142.77" y="187.50" width="16.94" height="2.55" fill="#e20b0e"/>
<rect x="142.77" y="190.00" width="16.94" height="2.05" fill="#e10b0e"/>
<rect x="142.77" y="192.00" width="16.94" height="2.05" fill="#890000"/>
<rect x="142.77" y="194.00" width="16.94" height="2.05" fill="#7c0000"/>
<rect x="142.77" y="196.00" width="16.94" height="2.05" fill="#970000"/>
<rect x="142.77" y="198.00" width="16.94" height="2.55" fill="#7f0000"/>
<rect x="142.77" y="200.50" width="16.94" height="1.05" fill="#aa0000"/>
<rect x="142.77" y="201.50" width="16.94" height="1.05" fill="#aa0000"/>
<rect x="142.77" y="202.50" width="16.94" height="2.55" fill="#ae0000"/>
<rect x="142.77" y="205.00" width="16.94" height="2.05" fill="#560000"/>
<rect x="142.77" y="207.00" width="16.94" height="1.55" fill="#9f0000"/>
<rect x="142.77" y="208.50" width="16.94" height="2.05" fill="#960000"/>
<rect x="142.77" y="210.50" width="16.94" height="1.55" fill="#880000"/>
<rect x="142.77" y="212.00" width="16.94" height="2.05" fill="#310000"/>
<rect x="142.77" y="214.00" width="16.94" height="2.05" fill="#a90000"/>
<rect x="142.77" y="216.00" width="16.94" height="1.05" fill="#ba0000"/>
<rect x="142.77" y="217.00" width="16.94" height="1.05" fill="#2e0000"/>
<rect x="142.77" y="218.00" width="16.94" height="2.55" fill="#330000"/>
<rect x="142.77" y="220.50" width="16.94" height="2.55" fill="#710000"/>
<rect x="142.77" y="223.00" width="16.94" height="2.05" fill="#3d0000"/>
<rect x="142.77" y="225.00" width="16.94" height="2.05" fill="#100000"/>
<rect x="142.77" y="227.00" width="16.94" height="2.05" fill="#540000"/>
<rect x="142.77" y="229.00" width="16.94" height="2.55" fill="#680000"/>
<rect x="142.77" y="231.50" width="16.94" height="2.05" fill="#001800"/>
<rect x="142.77" y="233.50" width="16.94" height="2.55" fill="#1d0000"/>
<rect x="142.77" y="236.00" width="16.94" height="2.05" fill="#180000"/>
<rect x="142.77" y="238.00" width="16.94" height="1.05" fill="#200000"/>
<rect x="142.77" y="239.00" width="16.94" height="1.05" fill="#1d0000"/>
<rect x="142.77" y="240.00" width="16.94" height="2.05" fill="#430000"/>
<rect x="142.77" y="242.00" width="16.94" height="2.05" fill="#5f0000"/>
<rect x="142.77" y="244.00" width="16.94" height="1.05" fill="#5f0000"/>
<rect x="142.77" y="245.00" width="16.94" height="1.05" fill="#490000"/>
<rect x="142.77" y="246.00" width="16.94" height="2.05" fill="#130000"/>
<rect x="142.77" y="248.00" width="16.94" height="2.55" fill="#1c0000"/>
<rect x="142.77" y="250.50" width="16.94" height="2.05" fill="#4b0000"/>
<rect x="142.77" y="252.50" width="16.94" height="2.05" fill="#820000"/>
<rect x="142.77" y="254.50" width="16.94" height="2.05" fill="#6a0000"/>
<rect x="142.77" y="256.50" width="16.94" height="2.05" fill="#2f0000"/>
<rect x="142.77" y="258.50" width="16.94" height="1.05" fill="#940000"/>
<rect x="142.77" y="259.50" width="16.94" height="2.05" fill="#9f0000"/>
<rect x="142.77" y="261.50" width="16.94" height="2.05" fill="#3c0000"/>
<rect x="142.77" y="263.50" width="16.94" height="1.55" fill="#1d0000"/>
<rect x="142.77" y="265.00" width="16.94" height="2.55" fill="#006f00"/>
<rect x="142.77" y="267.50" width="16.94" height="1.05" fill="#440000"/>
<rect x="142.77" y="268.50" width="16.94" height="2.05" fill="#310000"/>
<rect x="142.77" y="270.50" width="16.94" height="1.05" fill="#750000"/>
<rect x="142.77" y="271.50" width="16.94" height="1.55" fill="#710000"/>
<rect x="142.77" y="273.00" width="16.94" height="2.05" fill="#ce0203"/>
<rect x="142.77" y="275.00" width="16.94" height="1.55" fill="#540000"/>
<rect x="142.77" y="276.50" width="16.94" height="1.55" fill="#ec1013"/>
<rect x="142.77" y="278.00" width="16.94" height="2.05" fill="#e60d10"/>
<rect x="142.77" y="280.00" width="16.94" height="2.05" fill="#860000"/>
<rect x="142.77" y="282.00" width="16.94" height="2.05" fill="#008b00"/>
<rect x="142.77" y="284.00" width="16.94" height="1.05" fill="#008000"/>
<rect x="142.77" y="285.00" width="16.94" height="1.55" fill="#007d00"/>
<rect x="142.77" y="286.50" width="16.94" height="1.35" fill="#002a00"/>
<rect x="159.66" y="61.00" width="16.94" height="2.05" fill="#8d0000"/>
<rect x="159.66" y="63.00" width="16.94" height="1.55" fill="#b00000"/>
<rect x="159.66" y="64.50" width="16.94" height="2.05" fill="#a60000"/>
<rect x="159.66" y="66.50" width="16.94" height="1.05" fill="#00c300"/>
<rect x="159.66" y="67.50" width="16.94" height="1.05" fill="#00bf00"/>
<rect x="159.66" y="68.50" width="16.94" height="2.55" fill="#1cf118"/>
<rect x="159.66" y="71.00" width="16.94" height="1.05" fill="#004800"/>
<rect x="159.66" y="72.00" width="16.94" height="2.05" fill="#005700"/>
<rect x="159.66" y="74.00" width="16.94" height="2.55" fill="#005000"/>
<rect x="159.66" y="76.50" width="16.94" height="1.05" fill="#006500"/>
<rect x="159.66" y="77.50" width="16.94" height="2.55" fill="#007a00"/>
<rect x="159.66" y="80.00" width="16.94" height="1.55" fill="#003300"/>
<rect x="159.66" y="81.50" width="16.94" height="1.05" fill="#002800"/>
<rect x="159.66" y="82.50" width="16.94" height="1.05" fill="#002200"/>
<rect x="159.66" y="83.50" width="16.94" height="2.05" fill="#007500"/>
<rect x="159.66" y="85.50" width="16.94" height="2.05" fill="#007200"/>
<rect x="159.66" y="87.50" width="16.94" height="1.05" fill="#007900"/>
<rect x="159.66" y="88.50" width="16.94" height="1.55" fill="#007400"/>
<rect x="159.66" y="90.00" width="16.94" height="1.05" fill="#006200"/>
<rect x="159.66" y="91.00" width="16.94" height="2.55" fill="#001700"/>
<rect x="159.66" y="93.50" width="16.94" height="2.05" fill="#006d00"/>
<rect x="159.66" y="95.50" width="16.94" height="1.05" fill="#006000"/>
<rect x="159.66" y="96.50" width="16.94" height="2.55" fill="#002400"/>
<rect x="159.66" y="99.00" width="16.94" height="1.05" fill="#007a00"/>
<rect x="159.66" y="100.00" width="16.94" height="1.55" fill="#004100"/>
<rect x="159.66" y="101.50" width="16.94" height="2.55" fill="#003400"/>
<rect x="159.66" y="104.00" width="16.94" height="1.05" fill="#00ac00"/>
<rect x="159.66" y="105.00" width="16.94" height="2.55" fill="#02cc02"/>
<rect x="159.66" y="107.50" width="16.94" height="2.55" fill="#0bd809"/>
<rect x="159.66" y="110.00" width="16.94" height="2.05" fill="#00ae00"/>
<rect x="159.66" y="112.00" width="16.94" height="1.05" fill="#07d206"/>
<rect x="159.66" y="113.00" width="16.94" height="1.55" fill="#009a00"/>
<rect x="159.66" y="114.50" width="16.94" height="1.05" fill="#009d00"/>
<rect x="159.66" y="115.50" width="16.94" height="2.55" fill="#009700"/>
<rect x="159.66" y="118.00" width="16.94" height="1.55" fill="#002a00"/>
<rect x="159.66" y="119.50" width="16.94" height="2.05" fill="#210000"/>
<rect x="159.66" y="121.50" width="16.94" height="2.05" fill="#170000"/>
<rect x="159.66" y="123.50" width="16.94" height="1.55" fill="#190000"/>
<rect x="159.66" y="125.00" width="16.94" height="2.55" fill="#210000"/>
<rect x="159.66" y="127.50" width="16.94" height="1.05" fill="#140000"/>
<rect x="159.66" y="128.50" width="16.94" height="2.55" fill="#006400"/>
<rect x="159.66" y="131.00" width="16.94" height="2.05" fill="#002900"/>
<rect x="159.66" y="133.00" width="16.94" height="2.55" fill="#003900"/>
<rect x="159.66" y="135.50" width="16.94" height="1.55" fill="#004200"/>
<rect x="159.66" y="137.00" width="16.94" height="1.05" fill="#004900"/>
<rect x="159.66" y="138.00" width="16.94" height="2.55" fill="#004800"/>
<rect x="159.66" y="140.50" width="16.94" height="2.55" fill="#007000"/>
<rect x="159.66" y="143.00" width="16.94" height="1.55" fill="#006600"/>
<rect x="159.66" y="144.50" width="16.94" height="2.05" fill="#007600"/>
<rect x="159.66" y="146.50" width="16.94" height="1.05" fill="#002300"/>
<rect x="159.66" y="147.50" width="16.94" height="2.55" fill="#002400"/>
<rect x="159.66" y="150.00" width="16.94" height="1.05" fill="#1e0000"/>
<rect x="159.66" y="151.00" width="16.94" height="2.55" fill="#1b0000"/>
<rect x="159.66" y="153.50" width="16.94" height="1.05" fill="#003a00"/>
<rect x="159.66" y="154.50" width="16.94" height="2.55" fill="#003500"/>
<rect x="159.66" y="157.00" width="16.94" height="1.55" fill="#350000"/>
<rect x="159.66" y="158.50" width="16.94" height="2.05" fill="#350000"/>
<rect x="159.66" y="160.50" width="16.94" height="2.55" fill="#340000"/>
<rect x="159.66" y="163.00" width="16.94" height="2.05" fill="#002d00"/>
<rect x="159.66" y="165.00" width="16.94" height="2.05" fill="#005900"/>
<rect x="159.66" y="167.00" width="16.94" height="2.05" fill="#009f00"/>
<rect x="159.66" y="169.00" width="16.94" height="2.55" fill="#008300"/>
<rect x="159.66" y="171.50" width="16.94" height="2.05" fill="#006b00"/>
<rect x="159.66" y="173.50" width="16.94" height="2.05" fill="#07d306"/>
<rect x="159.66" y="175.50" width="16.94" height="2.05" fill="#004000"/>
<rect x="159.66" y="177.50" width="16.94" height="1.55" fill="#007300"/>
<rect x="159.66" y="179.00" width="16.94" height="1.55" fill="#007100"/>
<rect x="159.66" y="180.50" width="16.94" height="1.55" fill="#002f00"/>
<rect x="159.66" y="182.00" width="16.94" height="1.05" fill="#002c00"/>
<rect x="159.66" y="183.00" width="16.94" height="2.55" fill="#005900"/>
<rect x="159.66" y="185.50" width="16.94" height="2.05" fill="#220000"/>
<rect x="159.66" y="187.50" width="16.94" height="2.55" fill="#b30000"/>
<rect x="159.66" y="190.00" width="16.94" height="2.05" fill="#b30000"/>
<rect x="159.66" y="192.00" width="16.94" height="2.05" fill="#920000"/>
<rect x="159.66" y="194.00" width="16.94" height="2.05" fill="#b40000"/>
<rect x="159.66" y="196.00" width="16.94" height="2.05" fill="#d60608"/>
<rect x="159.66" y="198.00" width="16.94" height="2.55" fill="#630000"/>
<rect x="159.66" y="200.50" width="16.94" height="1.05" fill="#7c0000"/>
<rect x="159.66" y="201.50" width="16.94" height="1.05" fill="#810000"/>
<rect x="159.66" y="202.50" width="16.94" height="2.55" fill="#850000"/>
<rect x="159.66" y="205.00" width="16.94" height="2.05" fill="#3d0000"/>
<rect x="159.66" y="207.00" width="16.94" height="1.55" fill="#700000"/>
<rect x="159.66" y="208.50" width="16.94" height="2.05" fill="#5b0000"/>
<rect x="159.66" y="210.50" width="16.94" height="1.55" fill="#480000"/>
<rect x="159.66" y="212.00" width="16.94" height="2.05" fill="#1a0000"/>
<rect x="159.66" y="214.00" width="16.94" height="2.05" fill="#1f0000"/>
<rect x="159.66" y="216.00" width="16.94" height="1.05" fill="#940000"/>
<rect x="159.66" y="217.00" width="16.94" height="1.05" fill="#002e00"/>
<rect x="159.66" y="218.00" width="16.94" height="2.55" fill="#003300"/>
<rect x="159.66" y="220.50" width="16.94" height="2.55" fill="#4b0000"/>
<rect x="159.66" y="223.00" width="16.94" height="2.05" fill="#230000"/>
<rect x="159.66" y="225.00" width="16.94" height="2.05" fill="#050000"/>
<rect x="159.66" y="227.00" width="16.94" height="2.05" fill="#3e0000"/>
<rect x="159.66" y="229.00" width="16.94" height="2.55" fill="#420000"/>
<rect x="159.66" y="231.50" width="16.94" height="2.05" fill="#040000"/>
<rect x="159.66" y="233.50" width="16.94" height="2.55" fill="#0a0000"/>
<rect x="159.66" y="236.00" width="16.94" height="2.05" fill="#003200"/>
<rect x="159.66" y="238.00" width="16.94" height="1.05" fill="#001400"/>
<rect x="159.66" y="239.00" width="16.94" height="1.05" fill="#001b00"/>
<rect x="159.66" y="240.00" width="16.94" height="2.05" fill="#002600"/>
<rect x="159.66" y="242.00" width="16.94" height="2.05" fill="#310000"/>
<rect x="159.66" y="244.00" width="16.94" height="1.05" fill="#2b0000"/>
<rect x="159.66" y="245.00" width="16.94" height="1.05" fill="#2f0000"/>
<rect x="159.66" y="246.00" width="16.94" height="2.05" fill="#120000"/>
<rect x="159.66" y="248.00" width="16.94" height="2.55" fill="#140000"/>
<rect x="159.66" y="250.50" width="16.94" height="2.05" fill="#4b0000"/>
<rect x="159.66" y="252.50" width="16.94" height="2.05" fill="#590000"/>
<rect x="159.66" y="254.50" width="16.94" height="2.05" fill="#580000"/>
<rect x="159.66" y="256.50" width="16.94" height="2.05" fill="#140000"/>
<rect x="159.66" y="258.50" width="16.94" height="1.05" fill="#730000"/>
<rect x="159.66" y="259.50" width="16.94" height="2.05" fill="#8c0000"/>
<rect x="159.66" y="261.50" width="16.94" height="2.05" fill="#380000"/>
<rect x="159.66" y="263.50" width="16.94" height="1.55" fill="#180000"/>
<rect x="159.66" y="265.00" width="16.94" height="2.55" fill="#003c00"/>
<rect x="159.66" y="267.50" width="16.94" height="1.05" fill="#5d0000"/>
<rect x="159.66" y="268.50" width="16.94" height="2.05" fill="#620000"/>
<rect x="159.66" y="270.50" width="16.94" height="1.05" fill="#a40000"/>
<rect x="159.66" y="271.50" width="16.94" height="1.55" fill="#970000"/>
<rect x="159.66" y="273.00" width="16.94" height="2.05" fill="#c70000"/>
<rect x="159.66" y="275.00" width="16.94" height="1.55" fill="#a90000"/>
<rect x="159.66" y="276.50" width="16.94" height="1.55" fill="#f61519"/>
<rect x="159.66" y="278.00" width="16.94" height="2.05" fill="#fd181d"/>
<rect x="159.66" y="280.00" width="16.94" height="2.05" fill="#a10000"/>
<rect x="159.66" y="282.00" width="16.94" height="2.05" fill="#009b00"/>
<rect x="159.66" y="284.00" width="16.94" height="1.05" fill="#009a00"/>
<rect x="159.66" y="285.00" width="16.94" height="1.55" fill="#007400"/>
<rect x="159.66" y="286.50" width="16.94" height="1.35" fill="#003800"/>
<rect x="176.55" y="61.00" width="16.94" height="2.05" fill="#004300"/>
<rect x="176.55" y="63.00" width="16.94" height="1.55" fill="#000800"/>
<rect x="176.55" y="64.50" width="16.94" height="2.05" fill="#003000"/>
<rect x="176.55" y="66.50" width="16.94" height="1.05" fill="#000800"/>
<rect x="176.55" y="67.50" width="16.94" height="1.05" fill="#000900"/>
<rect x="176.55" y="68.50" width="16.94" height="2.55" fill="#000a00"/>
<rect x="176.55" y="71.00" width="16.94" height="1.05" fill="#002800"/>
<rect x="176.55" y="72.00" width="16.94" height="2.05" fill="#000000"/>
<rect x="176.55" y="74.00" width="16.94" height="2.55" fill="#000100"/>
<rect x="176.55" y="76.50" width="16.94" height="1.05" fill="#001200"/>
<rect x="176.55" y="77.50" width="16.94" height="2.55" fill="#003600"/>
<rect x="176.55" y="80.00" width="16.94" height="1.55" fill="#000c00"/>
<rect x="176.55" y="81.50" width="16.94" height="1.05" fill="#340000"/>
<rect x="176.55" y="82.50" width="16.94" height="1.05" fill="#1b0000"/>
<rect x="176.55" y="83.50" width="16.94" height="2.05" fill="#250000"/>
<rect x="176.55" y="85.50" width="16.94" height="2.05" fill="#3f0000"/>
<rect x="176.55" y="87.50" width="16.94" height="1.05" fill="#000800"/>
<rect x="176.55" y="88.50" width="16.94" height="1.55" fill="#002800"/>
<rect x="176.55" y="90.00" width="16.94" height="1.05" fill="#001d00"/>
<rect x="176.55" y="91.00" width="16.94" height="2.55" fill="#002b00"/>
<rect x="176.55" y="93.50" width="16.94" height="2.05" fill="#000a00"/>
<rect x="176.55" y="95.50" width="16.94" height="1.05" fill="#005f00"/>
<rect x="176.55" y="96.50" width="16.94" height="2.55" fill="#001600"/>
<rect x="176.55" y="99.00" width="16.94" height="1.05" fill="#006800"/>
<rect x="176.55" y="100.00" width="16.94" height="1.55" fill="#002800"/>
<rect x="176.55" y="101.50" width="16.94" height="2.55" fill="#000400"/>
<rect x="176.55" y="104.00" width="16.94" height="1.05" fill="#001700"/>
<rect x="176.55" y="105.00" width="16.94" height="2.55" fill="#000700"/>
<rect x="176.55" y="107.50" width="16.94" height="2.55" fill="#000c00"/>
<rect x="176.55" y="110.00" width="16.94" height="2.05" fill="#730000"/>
<rect x="176.55" y="112.00" width="16.94" height="1.05" fill="#660000"/>
<rect x="176.55" y="113.00" width="16.94" height="1.55" fill="#6d0000"/>
<rect x="176.55" y="114.50" width="16.94" height="1.05" fill="#0e0000"/>
<rect x="176.55" y="115.50" width="16.94" height="2.55" fill="#0a0000"/>
<rect x="176.55" y="118.00" width="16.94" height="1.55" fill="#002700"/>
<rect x="176.55" y="119.50" width="16.94" height="2.05" fill="#001f00"/>
<rect x="176.55" y="121.50" width="16.94" height="2.05" fill="#000800"/>
<rect x="176.55" y="123.50" width="16.94" height="1.55" fill="#002b00"/>
<rect x="176.55" y="125.00" width="16.94" height="2.55" fill="#002000"/>
<rect x="176.55" y="127.50" width="16.94" height="1.05" fill="#005f00"/>
<rect x="176.55" y="128.50" width="16.94" height="2.55" fill="#005c00"/>
<rect x="176.55" y="131.00" width="16.94" height="2.05" fill="#006100"/>
<rect x="176.55" y="133.00" width="16.94" height="2.55" fill="#010000"/>
<rect x="176.55" y="135.50" width="16.94" height="1.55" fill="#00bb00"/>
<rect x="176.55" y="137.00" width="16.94" height="1.05" fill="#000800"/>
<rect x="176.55" y="138.00" width="16.94" height="2.55" fill="#000e00"/>
<rect x="176.55" y="140.50" width="16.94" height="2.55" fill="#007500"/>
<rect x="176.55" y="143.00" width="16.94" height="1.55" fill="#007b00"/>
<rect x="176.55" y="144.50" width="16.94" height="2.05" fill="#007f00"/>
<rect x="176.55" y="146.50" width="16.94" height="1.05" fill="#000a00"/>
<rect x="176.55" y="147.50" width="16.94" height="2.55" fill="#000700"/>
<rect x="176.55" y="150.00" width="16.94" height="1.05" fill="#002300"/>
<rect x="176.55" y="151.00" width="16.94" height="2.55" fill="#004000"/>
<rect x="176.55" y="153.50" width="16.94" height="1.05" fill="#00c300"/>
<rect x="176.55" y="154.50" width="16.94" height="2.55" fill="#00c000"/>
<rect x="176.55" y="157.00" width="16.94" height="1.55" fill="#001b00"/>
<rect x="176.55" y="158.50" width="16.94" height="2.05" fill="#003300"/>
<rect x="176.55" y="160.50" width="16.94" height="2.55" fill="#007e00"/>
<rect x="176.55" y="163.00" width="16.94" height="2.05" fill="#001400"/>
<rect x="176.55" y="165.00" width="16.94" height="2.05" fill="#070000"/>
<rect x="176.55" y="167.00" width="16.94" height="2.05" fill="#030000"/>
<rect x="176.55" y="169.00" width="16.94" height="2.55" fill="#000500"/>
<rect x="176.55" y="171.50" width="16.94" height="2.05" fill="#24fc1f"/>
<rect x="176.55" y="173.50" width="16.94" height="2.05" fill="#c60000"/>
<rect x="176.55" y="175.50" width="16.94" height="2.05" fill="#e90f12"/>
<rect x="176.55" y="177.50" width="16.94" height="1.55" fill="#8e0000"/>
<rect x="176.55" y="179.00" width="16.94" height="1.55" fill="#9b0000"/>
<rect x="176.55" y="180.50" width="16.94" height="1.55" fill="#250000"/>
<rect x="176.55" y="182.00" width="16.94" height="1.05" fill="#220000"/>
<rect x="176.55" y="183.00" width="16.94" height="2.55" fill="#270000"/>
<rect x="176.55" y="185.50" width="16.94" height="2.05" fill="#000500"/>
<rect x="176.55" y="187.50" width="16.94" height="2.55" fill="#000000"/>
<rect x="176.55" y="190.00" width="16.94" height="2.05" fill="#003e00"/>
<rect x="176.55" y="192.00" width="16.94" height="2.05" fill="#000700"/>
<rect x="176.55" y="194.00" width="16.94" height="2.05" fill="#000b00"/>
<rect x="176.55" y="196.00" width="16.94" height="2.05" fill="#170000"/>
<rect x="176.55" y="198.00" width="16.94" height="2.55" fill="#7f0000"/>
<rect x="176.55" y="200.50" width="16.94" height="1.05" fill="#370000"/>
<rect x="176.55" y="201.50" width="16.94" height="1.05" fill="#0e0000"/>
<rect x="176.55" y="202.50" width="16.94" height="2.55" fill="#4b0000"/>
<rect x="176.55" y="205.00" width="16.94" height="2.05" fill="#720000"/>
<rect x="176.55" y="207.00" width="16.94" height="1.55" fill="#790000"/>
<rect x="176.55" y="208.50" width="16.94" height="2.05" fill="#460000"/>
<rect x="176.55" y="210.50" width="16.94" height="1.55" fill="#6a0000"/>
<rect x="176.55" y="212.00" width="16.94" height="2.05" fill="#300000"/>
<rect x="176.55" y="214.00" width="16.94" height="2.05" fill="#120000"/>
<rect x="176.55" y="216.00" width="16.94" height="1.05" fill="#750000"/>
<rect x="176.55" y="217.00" width="16.94" height="1.05" fill="#8f0000"/>
<rect x="176.55" y="218.00" width="16.94" height="2.55" fill="#820000"/>
<rect x="176.55" y="220.50" width="16.94" height="2.55" fill="#4f0000"/>
<rect x="176.55" y="223.00" width="16.94" height="2.05" fill="#8b0000"/>
<rect x="176.55" y="225.00" width="16.94" height="2.05" fill="#2f0000"/>
<rect x="176.55" y="227.00" width="16.94" height="2.05" fill="#2b0000"/>
<rect x="176.55" y="229.00" width="16.94" height="2.55" fill="#280000"/>
<rect x="176.55" y="231.50" width="16.94" height="2.05" fill="#4e0000"/>
<rect x="176.55" y="233.50" width="16.94" height="2.55" fill="#380000"/>
<rect x="176.55" y="236.00" width="16.94" height="2.05" fill="#5c0000"/>
<rect x="176.55" y="238.00" width="16.94" height="1.05" fill="#660000"/>
<rect x="176.55" y="239.00" width="16.94" height="1.05" fill="#650000"/>
<rect x="176.55" y="240.00" width="16.94" height="2.05" fill="#520000"/>
<rect x="176.55" y="242.00" width="16.94" height="2.05" fill="#002200"/>
<rect x="176.55" y="244.00" width="16.94" height="1.05" fill="#002500"/>
<rect x="176.55" y="245.00" width="16.94" height="1.05" fill="#2e0000"/>
<rect x="176.55" y="246.00" width="16.94" height="2.05" fill="#8c0000"/>
<rect x="176.55" y="248.00" width="16.94" height="2.55" fill="#900000"/>
<rect x="176.55" y="250.50" width="16.94" height="2.05" fill="#650000"/>
<rect x="176.55" y="252.50" width="16.94" height="2.05" fill="#140000"/>
<rect x="176.55" y="254.50" width="16.94" height="2.05" fill="#150000"/>
<rect x="176.55" y="256.50" width="16.94" height="2.05" fill="#2c0000"/>
<rect x="176.55" y="258.50" width="16.94" height="1.05" fill="#440000"/>
<rect x="176.55" y="259.50" width="16.94" height="2.05" fill="#410000"/>
<rect x="176.55" y="261.50" width="16.94" height="2.05" fill="#550000"/>
<rect x="176.55" y="263.50" width="16.94" height="1.55" fill="#9f0000"/>
<rect x="176.55" y="265.00" width="16.94" height="2.55" fill="#a50000"/>
<rect x="176.55" y="267.50" width="16.94" height="1.05" fill="#710000"/>
<rect x="176.55" y="268.50" width="16.94" height="2.05" fill="#850000"/>
<rect x="176.55" y="270.50" width="16.94" height="1.05" fill="#080000"/>
<rect x="176.55" y="271.50" width="16.94" height="1.55" fill="#310000"/>
<rect x="176.55" y="273.00" width="16.94" height="2.05" fill="#8b0000"/>
<rect x="176.55" y="275.00" width="16.94" height="1.55" fill="#7d0000"/>
<rect x="176.55" y="276.50" width="16.94" height="1.55" fill="#6b0000"/>
<rect x="176.55" y="278.00" width="16.94" height="2.05" fill="#1d0000"/>
<rect x="176.55" y="280.00" width="16.94" height="2.05" fill="#4f0000"/>
<rect x="176.55" y="282.00" width="16.94" height="2.05" fill="#1f0000"/>
<rect x="176.55" y="284.00" width="16.94" height="1.05" fill="#100000"/>
<rect x="176.55" y="285.00" width="16.94" height="1.55" fill="#3b0000"/>
<rect x="176.55" y="286.50" width="16.94" height="1.35" fill="#300000"/>
<rect x="193.44" y="61.00" width="16.94" height="2.05" fill="#430000"/>
<rect x="193.44" y="63.00" width="16.94" height="1.55" fill="#020000"/>
<rect x="193.44" y="64.50" width="16.94" height="2.05" fill="#003800"/>
<rect x="193.44" y="66.50" width="16.94" height="1.05" fill="#000400"/>
<rect x="193.44" y="67.50" width="16.94" height="1.05" fill="#000e00"/>
<rect x="193.44" y="68.50" width="16.94" height="2.55" fill="#000800"/>
<rect x="193.44" y="71.00" width="16.94" height="1.05" fill="#002500"/>
<rect x="193.44" y="72.00" width="16.94" height="2.05" fill="#000800"/>
<rect x="193.44" y="74.00" width="16.94" height="2.55" fill="#000800"/>
<rect x="193.44" y="76.50" width="16.94" height="1.05" fill="#000e00"/>
<rect x="193.44" y="77.50" width="16.94" height="2.55" fill="#003200"/>
<rect x="193.44" y="80.00" width="16.94" height="1.55" fill="#000700"/>
<rect x="193.44" y="81.50" width="16.94" height="1.05" fill="#2d0000"/>
<rect x="193.44" y="82.50" width="16.94" height="1.05" fill="#1a0000"/>
<rect x="193.44" y="83.50" width="16.94" height="2.05" fill="#1c0000"/>
<rect x="193.44" y="85.50" width="16.94" height="2.05" fill="#400000"/>
<rect x="193.44" y="87.50" width="16.94" height="1.05" fill="#000500"/>
<rect x="193.44" y="88.50" width="16.94" height="1.55" fill="#001d00"/>
<rect x="193.44" y="90.00" width="16.94" height="1.05" fill="#002200"/>
<rect x="193.44" y="91.00" width="16.94" height="2.55" fill="#003800"/>
<rect x="193.44" y="93.50" width="16.94" height="2.05" fill="#000500"/>
<rect x="193.44" y="95.50" width="16.94" height="1.05" fill="#005100"/>
<rect x="193.44" y="96.50" width="16.94" height="2.55" fill="#001700"/>
<rect x="193.44" y="99.00" width="16.94" height="1.05" fill="#007000"/>
<rect x="193.44" y="100.00" width="16.94" height="1.55" fill="#002d00"/>
<rect x="193.44" y="101.50" width="16.94" height="2.55" fill="#000500"/>
<rect x="193.44" y="104.00" width="16.94" height="1.05" fill="#001200"/>
<rect x="193.44" y="105.00" width="16.94" height="2.55" fill="#000300"/>
<rect x="193.44" y="107.50" width="16.94" height="2.55" fill="#000900"/>
<rect x="193.44" y="110.00" width="16.94" height="2.05" fill="#3a0000"/>
<rect x="193.44" y="112.00" width="16.94" height="1.05" fill="#140000"/>
<rect x="193.44" y="113.00" width="16.94" height="1.55" fill="#0d0000"/>
<rect x="193.44" y="114.50" width="16.94" height="1.05" fill="#0b0000"/>
<rect x="193.44" y="115.50" width="16.94" height="2.55" fill="#110000"/>
<rect x="193.44" y="118.00" width="16.94" height="1.55" fill="#002d00"/>
<rect x="193.44" y="119.50" width="16.94" height="2.05" fill="#001f00"/>
<rect x="193.44" y="121.50" width="16.94" height="2.05" fill="#000900"/>
<rect x="193.44" y="123.50" width="16.94" height="1.55" fill="#002600"/>
<rect x="193.44" y="125.00" width="16.94" height="2.55" fill="#002000"/>
<rect x="193.44" y="127.50" width="16.94" height="1.05" fill="#005a00"/>
<rect x="193.44" y="128.50" width="16.94" height="2.55" fill="#005f00"/>
<rect x="193.44" y="131.00" width="16.94" height="2.05" fill="#006c00"/>
<rect x="193.44" y="133.00" width="16.94" height="2.55" fill="#000200"/>
<rect x="193.44" y="135.50" width="16.94" height="1.55" fill="#00a700"/>
<rect x="193.44" y="137.00" width="16.94" height="1.05" fill="#000d00"/>
<rect x="193.44" y="138.00" width="16.94" height="2.55" fill="#000100"/>
<rect x="193.44" y="140.50" width="16.94" height="2.55" fill="#007500"/>
<rect x="193.44" y="143.00" width="16.94" height="1.55" fill="#007c00"/>
<rect x="193.44" y="144.50" width="16.94" height="2.05" fill="#007900"/>
<rect x="193.44" y="146.50" width="16.94" height="1.05" fill="#006d00"/>
<rect x="193.44" y="147.50" width="16.94" height="2.55" fill="#1cf118"/>
<rect x="193.44" y="150.00" width="16.94" height="1.05" fill="#002900"/>
<rect x="193.44" y="151.00" width="16.94" height="2.55" fill="#003300"/>
<rect x="193.44" y="153.50" width="16.94" height="1.05" fill="#009000"/>
<rect x="193.44" y="154.50" width="16.94" height="2.55" fill="#008000"/>
<rect x="193.44" y="157.00" width="16.94" height="1.55" fill="#001d00"/>
<rect x="193.44" y="158.50" width="16.94" height="2.05" fill="#003700"/>
<rect x="193.44" y="160.50" width="16.94" height="2.55" fill="#007a00"/>
<rect x="193.44" y="163.00" width="16.94" height="2.05" fill="#001800"/>
<rect x="193.44" y="165.00" width="16.94" height="2.05" fill="#070000"/>
<rect x="193.44" y="167.00" width="16.94" height="2.05" fill="#060000"/>
<rect x="193.44" y="169.00" width="16.94" height="2.55" fill="#010000"/>
<rect x="193.44" y="171.50" width="16.94" height="2.05" fill="#22f81d"/>
<rect x="193.44" y="173.50" width="16.94" height="2.05" fill="#cd0202"/>
<rect x="193.44" y="175.50" width="16.94" height="2.05" fill="#f11216"/>
<rect x="193.44" y="177.50" width="16.94" height="1.55" fill="#840000"/>
<rect x="193.44" y="179.00" width="16.94" height="1.55" fill="#a90000"/>
<rect x="193.44" y="180.50" width="16.94" height="1.55" fill="#0a0000"/>
<rect x="193.44" y="182.00" width="16.94" height="1.05" fill="#080000"/>
<rect x="193.44" y="183.00" width="16.94" height="2.55" fill="#160000"/>
<rect x="193.44" y="185.50" width="16.94" height="2.05" fill="#005b00"/>
<rect x="193.44" y="187.50" width="16.94" height="2.55" fill="#010000"/>
<rect x="193.44" y="190.00" width="16.94" height="2.05" fill="#290000"/>
<rect x="193.44" y="192.00" width="16.94" height="2.05" fill="#000a00"/>
<rect x="193.44" y="194.00" width="16.94" height="2.05" fill="#000a00"/>
<rect x="193.44" y="196.00" width="16.94" height="2.05" fill="#170000"/>
<rect x="193.44" y="198.00" width="16.94" height="2.55" fill="#710000"/>
<rect x="193.44" y="200.50" width="16.94" height="1.05" fill="#380000"/>
<rect x="193.44" y="201.50" width="16.94" height="1.05" fill="#170000"/>
<rect x="193.44" y="202.50" width="16.94" height="2.55" fill="#430000"/>
<rect x="193.44" y="205.00" width="16.94" height="2.05" fill="#810000"/>
<rect x="193.44" y="207.00" width="16.94" height="1.55" fill="#7a0000"/>
<rect x="193.44" y="208.50" width="16.94" height="2.05" fill="#4d0000"/>
<rect x="193.44" y="210.50" width="16.94" height="1.55" fill="#6d0000"/>
<rect x="193.44" y="212.00" width="16.94" height="2.05" fill="#3e0000"/>
<rect x="193.44" y="214.00" width="16.94" height="2.05" fill="#130000"/>
<rect x="193.44" y="216.00" width="16.94" height="1.05" fill="#7f0000"/>
<rect x="193.44" y="217.00" width="16.94" height="1.05" fill="#a30000"/>
<rect x="193.44" y="218.00" width="16.94" height="2.55" fill="#8c0000"/>
<rect x="193.44" y="220.50" width="16.94" height="2.55" fill="#5a0000"/>
<rect x="193.44" y="223.00" width="16.94" height="2.05" fill="#8f0000"/>
<rect x="193.44" y="225.00" width="16.94" height="2.05" fill="#320000"/>
<rect x="193.44" y="227.00" width="16.94" height="2.05" fill="#2f0000"/>
<rect x="193.44" y="229.00" width="16.94" height="2.55" fill="#330000"/>
<rect x="193.44" y="231.50" width="16.94" height="2.05" fill="#4b0000"/>
<rect x="193.44" y="233.50" width="16.94" height="2.55" fill="#340000"/>
<rect x="193.44" y="236.00" width="16.94" height="2.05" fill="#720000"/>
<rect x="193.44" y="238.00" width="16.94" height="1.05" fill="#580000"/>
<rect x="193.44" y="239.00" width="16.94" height="1.05" fill="#650000"/>
<rect x="193.44" y="240.00" width="16.94" height="2.05" fill="#540000"/>
<rect x="193.44" y="242.00" width="16.94" height="2.05" fill="#001d00"/>
<rect x="193.44" y="244.00" width="16.94" height="1.05" fill="#002200"/>
<rect x="193.44" y="245.00" width="16.94" height="1.05" fill="#2f0000"/>
<rect x="193.44" y="246.00" width="16.94" height="2.05" fill="#940000"/>
<rect x="193.44" y="248.00" width="16.94" height="2.55" fill="#900000"/>
<rect x="193.44" y="250.50" width="16.94" height="2.05" fill="#770000"/>
<rect x="193.44" y="252.50" width="16.94" height="2.05" fill="#460000"/>
<rect x="193.44" y="254.50" width="16.94" height="2.05" fill="#150000"/>
<rect x="193.44" y="256.50" width="16.94" height="2.05" fill="#2f0000"/>
<rect x="193.44" y="258.50" width="16.94" height="1.05" fill="#380000"/>
<rect x="193.44" y="259.50" width="16.94" height="2.05" fill="#3f0000"/>
<rect x="193.44" y="261.50" width="16.94" height="2.05" fill="#4b0000"/>
<rect x="193.44" y="263.50" width="16.94" height="1.55" fill="#a50000"/>
<rect x="193.44" y="265.00" width="16.94" height="2.55" fill="#930000"/>
<rect x="193.44" y="267.50" width="16.94" height="1.05" fill="#6a0000"/>
<rect x="193.44" y="268.50" width="16.94" height="2.05" fill="#8d0000"/>
<rect x="193.44" y="270.50" width="16.94" height="1.05" fill="#070000"/>
<rect x="193.44" y="271.50" width="16.94" height="1.55" fill="#2e0000"/>
<rect x="193.44" y="273.00" width="16.94" height="2.05" fill="#8e0000"/>
<rect x="193.44" y="275.00" width="16.94" height="1.55" fill="#7f0000"/>
<rect x="193.44" y="276.50" width="16.94" height="1.55" fill="#6e0000"/>
<rect x="193.44" y="278.00" width="16.94" height="2.05" fill="#1f0000"/>
<rect x="193.44" y="280.00" width="16.94" height="2.05" fill="#5c0000"/>
<rect x="193.44" y="282.00" width="16.94" height="2.05" fill="#1c0000"/>
<rect x="193.44" y="284.00" width="16.94" height="1.05" fill="#150000"/>
<rect x="193.44" y="285.00" width="16.94" height="1.55" fill="#340000"/>
<rect x="193.44" y="286.50" width="16.94" height="1.35" fill="#360000"/>
<rect x="210.33" y="61.00" width="16.94" height="2.05" fill="#470000"/>
<rect x="210.33" y="63.00" width="16.94" height="1.55" fill="#000600"/>
<rect x="210.33" y="64.50" width="16.94" height="2.05" fill="#003500"/>
<rect x="210.33" y="66.50" width="16.94" height="1.05" fill="#000100"/>
<rect x="210.33" y="67.50" width="16.94" height="1.05" fill="#000600"/>
<rect x="210.33" y="68.50" width="16.94" height="2.55" fill="#000d00"/>
<rect x="210.33" y="71.00" width="16.94" height="1.05" fill="#002400"/>
<rect x="210.33" y="72.00" width="16.94" height="2.05" fill="#000000"/>
<rect x="210.33" y="74.00" width="16.94" height="2.55" fill="#000b00"/>
<rect x="210.33" y="76.50" width="16.94" height="1.05" fill="#000b00"/>
<rect x="210.33" y="77.50" width="16.94" height="2.55" fill="#002d00"/>
<rect x="210.33" y="80.00" width="16.94" height="1.55" fill="#000b00"/>
<rect x="210.33" y="81.50" width="16.94" height="1.05" fill="#2e0000"/>
<rect x="210.33" y="82.50" width="16.94" height="1.05" fill="#1e0000"/>
<rect x="210.33" y="83.50" width="16.94" height="2.05" fill="#200000"/>
<rect x="210.33" y="85.50" width="16.94" height="2.05" fill="#3b0000"/>
<rect x="210.33" y="87.50" width="16.94" height="1.05" fill="#000f00"/>
<rect x="210.33" y="88.50" width="16.94" height="1.55" fill="#001d00"/>
<rect x="210.33" y="90.00" width="16.94" height="1.05" fill="#001c00"/>
<rect x="210.33" y="91.00" width="16.94" height="2.55" fill="#003200"/>
<rect x="210.33" y="93.50" width="16.94" height="2.05" fill="#000000"/>
<rect x="210.33" y="95.50" width="16.94" height="1.05" fill="#005c00"/>
<rect x="210.33" y="96.50" width="16.94" height="2.55" fill="#001200"/>
<rect x="210.33" y="99.00" width="16.94" height="1.05" fill="#005d00"/>
<rect x="210.33" y="100.00" width="16.94" height="1.55" fill="#350000"/>
<rect x="210.33" y="101.50" width="16.94" height="2.55" fill="#0c0000"/>
<rect x="210.33" y="104.00" width="16.94" height="1.05" fill="#120000"/>
<rect x="210.33" y="105.00" width="16.94" height="2.55" fill="#000300"/>
<rect x="210.33" y="107.50" width="16.94" height="2.55" fill="#000b00"/>
<rect x="210.33" y="110.00" width="16.94" height="2.05" fill="#0d0000"/>
<rect x="210.33" y="112.00" width="16.94" height="1.05" fill="#070000"/>
<rect x="210.33" y="113.00" width="16.94" height="1.55" fill="#020000"/>
<rect x="210.33" y="114.50" width="16.94" height="1.05" fill="#0e0000"/>
<rect x="210.33" y="115.50" width="16.94" height="2.55" fill="#0e0000"/>
<rect x="210.33" y="118.00" width="16.94" height="1.55" fill="#003600"/>
<rect x="210.33" y="119.50" width="16.94" height="2.05" fill="#180000"/>
<rect x="210.33" y="121.50" width="16.94" height="2.05" fill="#0f0000"/>
<rect x="210.33" y="123.50" width="16.94" height="1.55" fill="#400000"/>
<rect x="210.33" y="125.00" width="16.94" height="2.55" fill="#3b0000"/>
<rect x="210.33" y="127.50" width="16.94" height="1.05" fill="#005200"/>
<rect x="210.33" y="128.50" width="16.94" height="2.55" fill="#006300"/>
<rect x="210.33" y="131.00" width="16.94" height="2.05" fill="#005b00"/>
<rect x="210.33" y="133.00" width="16.94" height="2.55" fill="#070000"/>
<rect x="210.33" y="135.50" width="16.94" height="1.55" fill="#00b100"/>
<rect x="210.33" y="137.00" width="16.94" height="1.05" fill="#001300"/>
<rect x="210.33" y="138.00" width="16.94" height="2.55" fill="#000600"/>
<rect x="210.33" y="140.50" width="16.94" height="2.55" fill="#007600"/>
<rect x="210.33" y="143.00" width="16.94" height="1.55" fill="#007c00"/>
<rect x="210.33" y="144.50" width="16.94" height="2.05" fill="#009300"/>
<rect x="210.33" y="146.50" width="16.94" height="1.05" fill="#006800"/>
<rect x="210.33" y="147.50" width="16.94" height="2.55" fill="#001100"/>
<rect x="210.33" y="150.00" width="16.94" height="1.05" fill="#003000"/>
<rect x="210.33" y="151.00" width="16.94" height="2.55" fill="#002d00"/>
<rect x="210.33" y="153.50" width="16.94" height="1.05" fill="#008600"/>
<rect x="210.33" y="154.50" width="16.94" height="2.55" fill="#007b00"/>
<rect x="210.33" y="157.00" width="16.94" height="1.55" fill="#001800"/>
<rect x="210.33" y="158.50" width="16.94" height="2.05" fill="#002600"/>
<rect x="210.33" y="160.50" width="16.94" height="2.55" fill="#008e00"/>
<rect x="210.33" y="163.00" width="16.94" height="2.05" fill="#002000"/>
<rect x="210.33" y="165.00" width="16.94" height="2.05" fill="#000100"/>
<rect x="210.33" y="167.00" width="16.94" height="2.05" fill="#060000"/>
<rect x="210.33" y="169.00" width="16.94" height="2.55" fill="#020000"/>
<rect x="210.33" y="171.50" width="16.94" height="2.05" fill="#26ff21"/>
<rect x="210.33" y="173.50" width="16.94" height="2.05" fill="#c10000"/>
<rect x="210.33" y="175.50" width="16.94" height="2.05" fill="#ee1115"/>
<rect x="210.33" y="177.50" width="16.94" height="1.55" fill="#8f0000"/>
<rect x="210.33" y="179.00" width="16.94" height="1.55" fill="#9c0000"/>
<rect x="210.33" y="180.50" width="16.94" height="1.55" fill="#210000"/>
<rect x="210.33" y="182.00" width="16.94" height="1.05" fill="#170000"/>
<rect x="210.33" y="183.00" width="16.94" height="2.55" fill="#170000"/>
<rect x="210.33" y="185.50" width="16.94" height="2.05" fill="#005c00"/>
<rect x="210.33" y="187.50" width="16.94" height="2.55" fill="#060000"/>
<rect x="210.33" y="190.00" width="16.94" height="2.05" fill="#2b0000"/>
<rect x="210.33" y="192.00" width="16.94" height="2.05" fill="#1d0000"/>
<rect x="210.33" y="194.00" width="16.94" height="2.05" fill="#1c0000"/>
<rect x="210.33" y="196.00" width="16.94" height="2.05" fill="#2d0000"/>
<rect x="210.33" y="198.00" width="16.94" height="2.55" fill="#760000"/>
<rect x="210.33" y="200.50" width="16.94" height="1.05" fill="#390000"/>
<rect x="210.33" y="201.50" width="16.94" height="1.05" fill="#0e0000"/>
<rect x="210.33" y="202.50" width="16.94" height="2.55" fill="#4b0000"/>
<rect x="210.33" y="205.00" width="16.94" height="2.05" fill="#770000"/>
<rect x="210.33" y="207.00" width="16.94" height="1.55" fill="#7e0000"/>
<rect x="210.33" y="208.50" width="16.94" height="2.05" fill="#420000"/>
<rect x="210.33" y="210.50" width="16.94" height="1.55" fill="#6a0000"/>
<rect x="210.33" y="212.00" width="16.94" height="2.05" fill="#320000"/>
<rect x="210.33" y="214.00" width="16.94" height="2.05" fill="#150000"/>
<rect x="210.33" y="216.00" width="16.94" height="1.05" fill="#840000"/>
<rect x="210.33" y="217.00" width="16.94" height="1.05" fill="#960000"/>
<rect x="210.33" y="218.00" width="16.94" height="2.55" fill="#840000"/>
<rect x="210.33" y="220.50" width="16.94" height="2.55" fill="#190000"/>
<rect x="210.33" y="223.00" width="16.94" height="2.05" fill="#880000"/>
<rect x="210.33" y="225.00" width="16.94" height="2.05" fill="#380000"/>
<rect x="210.33" y="227.00" width="16.94" height="2.05" fill="#2e0000"/>
<rect x="210.33" y="229.00" width="16.94" height="2.55" fill="#280000"/>
<rect x="210.33" y="231.50" width="16.94" height="2.05" fill="#520000"/>
<rect x="210.33" y="233.50" width="16.94" height="2.55" fill="#350000"/>
<rect x="210.33" y="236.00" width="16.94" height="2.05" fill="#600000"/>
<rect x="210.33" y="238.00" width="16.94" height="1.05" fill="#620000"/>
<rect x="210.33" y="239.00" width="16.94" height="1.05" fill="#5c0000"/>
<rect x="210.33" y="240.00" width="16.94" height="2.05" fill="#5f0000"/>
<rect x="210.33" y="242.00" width="16.94" height="2.05" fill="#002400"/>
<rect x="210.33" y="244.00" width="16.94" height="1.05" fill="#001e00"/>
<rect x="210.33" y="245.00" width="16.94" height="1.05" fill="#2f0000"/>
<rect x="210.33" y="246.00" width="16.94" height="2.05" fill="#920000"/>
<rect x="210.33" y="248.00" width="16.94" height="2.55" fill="#990000"/>
<rect x="210.33" y="250.50" width="16.94" height="2.05" fill="#730000"/>
<rect x="210.33" y="252.50" width="16.94" height="2.05" fill="#4d0000"/>
<rect x="210.33" y="254.50" width="16.94" height="2.05" fill="#120000"/>
<rect x="210.33" y="256.50" width="16.94" height="2.05" fill="#2b0000"/>
<rect x="210.33" y="258.50" width="16.94" height="1.05" fill="#3b0000"/>
<rect x="210.33" y="259.50" width="16.94" height="2.05" fill="#380000"/>
<rect x="210.33" y="261.50" width="16.94" height="2.05" fill="#580000"/>
<rect x="210.33" y="263.50" width="16.94" height="1.55" fill="#990000"/>
<rect x="210.33" y="265.00" width="16.94" height="2.55" fill="#9a0000"/>
<rect x="210.33" y="267.50" width="16.94" height="1.05" fill="#640000"/>
<rect x="210.33" y="268.50" width="16.94" height="2.05" fill="#860000"/>
<rect x="210.33" y="270.50" width="16.94" height="1.05" fill="#0e0000"/>
<rect x="210.33" y="271.50" width="16.94" height="1.55" fill="#370000"/>
<rect x="210.33" y="273.00" width="16.94" height="2.05" fill="#890000"/>
<rect x="210.33" y="275.00" width="16.94" height="1.55" fill="#850000"/>
<rect x="210.33" y="276.50" width="16.94" height="1.55" fill="#730000"/>
<rect x="210.33" y="278.00" width="16.94" height="2.05" fill="#170000"/>
<rect x="210.33" y="280.00" width="16.94" height="2.05" fill="#520000"/>
<rect x="210.33" y="282.00" width="16.94" height="2.05" fill="#200000"/>
<rect x="210.33" y="284.00" width="16.94" height="1.05" fill="#140000"/>
<rect x="210.33" y="285.00" width="16.94" height="1.55" fill="#360000"/>
<rect x="210.33" y="286.50" width="16.94" height="1.35" fill="#280000"/>
<rect x="227.22" y="61.00" width="16.94" height="2.05" fill="#000000"/>
<rect x="227.22" y="63.00" width="16.94" height="1.55" fill="#22f91d"/>
<rect x="227.22" y="64.50" width="16.94" height="2.05" fill="#1bef17"/>
<rect x="227.22" y="66.50" width="16.94" height="1.05" fill="#000000"/>
<rect x="227.22" y="67.50" width="16.94" height="1.05" fill="#000f00"/>
<rect x="227.22" y="68.50" width="16.94" height="2.55" fill="#007800"/>
<rect x="227.22" y="71.00" width="16.94" height="1.05" fill="#005d00"/>
<rect x="227.22" y="72.00" width="16.94" height="2.05" fill="#000800"/>
<rect x="227.22" y="74.00" width="16.94" height="2.55" fill="#001c00"/>
<rect x="227.22" y="76.50" width="16.94" height="1.05" fill="#000400"/>
<rect x="227.22" y="77.50" width="16.94" height="2.55" fill="#003d00"/>
<rect x="227.22" y="80.00" width="16.94" height="1.55" fill="#000c00"/>
<rect x="227.22" y="81.50" width="16.94" height="1.05" fill="#007900"/>
<rect x="227.22" y="82.50" width="16.94" height="1.05" fill="#004300"/>
<rect x="227.22" y="83.50" width="16.94" height="2.05" fill="#001800"/>
<rect x="227.22" y="85.50" width="16.94" height="2.05" fill="#001f00"/>
<rect x="227.22" y="87.50" width="16.94" height="1.05" fill="#001600"/>
<rect x="227.22" y="88.50" width="16.94" height="1.55" fill="#000400"/>
<rect x="227.22" y="90.00" width="16.94" height="1.05" fill="#001100"/>
<rect x="227.22" y="91.00" width="16.94" height="2.55" fill="#002500"/>
<rect x="227.22" y="93.50" width="16.94" height="2.05" fill="#000e00"/>
<rect x="227.22" y="95.50" width="16.94" height="1.05" fill="#003d00"/>
<rect x="227.22" y="96.50" width="16.94" height="2.55" fill="#005b00"/>
<rect x="227.22" y="99.00" width="16.94" height="1.05" fill="#002d00"/>
<rect x="227.22" y="100.00" width="16.94" height="1.55" fill="#004300"/>
<rect x="227.22" y="101.50" width="16.94" height="2.55" fill="#005a00"/>
<rect x="227.22" y="104.00" width="16.94" height="1.05" fill="#001600"/>
<rect x="227.22" y="105.00" width="16.94" height="2.55" fill="#005100"/>
<rect x="227.22" y="107.50" width="16.94" height="2.55" fill="#000100"/>
<rect x="227.22" y="110.00" width="16.94" height="2.05" fill="#000700"/>
<rect x="227.22" y="112.00" width="16.94" height="1.05" fill="#020000"/>
<rect x="227.22" y="113.00" width="16.94" height="1.55" fill="#000300"/>
<rect x="227.22" y="114.50" width="16.94" height="1.05" fill="#000400"/>
<rect x="227.22" y="115.50" width="16.94" height="2.55" fill="#540000"/>
<rect x="227.22" y="118.00" width="16.94" height="1.55" fill="#560000"/>
<rect x="227.22" y="119.50" width="16.94" height="2.05" fill="#00ba00"/>
<rect x="227.22" y="121.50" width="16.94" height="2.05" fill="#00ad00"/>
<rect x="227.22" y="123.50" width="16.94" height="1.55" fill="#001800"/>
<rect x="227.22" y="125.00" width="16.94" height="2.55" fill="#004a00"/>
<rect x="227.22" y="127.50" width="16.94" height="1.05" fill="#00c100"/>
<rect x="227.22" y="128.50" width="16.94" height="2.55" fill="#00b200"/>
<rect x="227.22" y="131.00" width="16.94" height="2.05" fill="#002800"/>
<rect x="227.22" y="133.00" width="16.94" height="2.55" fill="#000100"/>
<rect x="227.22" y="135.50" width="16.94" height="1.55" fill="#003100"/>
<rect x="227.22" y="137.00" width="16.94" height="1.05" fill="#004200"/>
<rect x="227.22" y="138.00" width="16.94" height="2.55" fill="#000800"/>
<rect x="227.22" y="140.50" width="16.94" height="2.55" fill="#002200"/>
<rect x="227.22" y="143.00" width="16.94" height="1.55" fill="#002700"/>
<rect x="227.22" y="144.50" width="16.94" height="2.05" fill="#001e00"/>
<rect x="227.22" y="146.50" width="16.94" height="1.05" fill="#4a0000"/>
<rect x="227.22" y="147.50" width="16.94" height="2.55" fill="#480000"/>
<rect x="227.22" y="150.00" width="16.94" height="1.05" fill="#040000"/>
<rect x="227.22" y="151.00" width="16.94" height="2.55" fill="#040000"/>
<rect x="227.22" y="153.50" width="16.94" height="1.05" fill="#490000"/>
<rect x="227.22" y="154.50" width="16.94" height="2.55" fill="#3f0000"/>
<rect x="227.22" y="157.00" width="16.94" height="1.55" fill="#020000"/>
<rect x="227.22" y="158.50" width="16.94" height="2.05" fill="#006700"/>
<rect x="227.22" y="160.50" width="16.94" height="2.55" fill="#007a00"/>
<rect x="227.22" y="163.00" width="16.94" height="2.05" fill="#00bf00"/>
<rect x="227.22" y="165.00" width="16.94" height="2.05" fill="#004300"/>
<rect x="227.22" y="167.00" width="16.94" height="2.05" fill="#2f0000"/>
<rect x="227.22" y="169.00" width="16.94" height="2.55" fill="#000000"/>
<rect x="227.22" y="171.50" width="16.94" height="2.05" fill="#006600"/>
<rect x="227.22" y="173.50" width="16.94" height="2.05" fill="#002300"/>
<rect x="227.22" y="175.50" width="16.94" height="2.05" fill="#170000"/>
<rect x="227.22" y="177.50" width="16.94" height="1.55" fill="#b10000"/>
<rect x="227.22" y="179.00" width="16.94" height="1.55" fill="#e10b0d"/>
<rect x="227.22" y="180.50" width="16.94" height="1.55" fill="#430000"/>
<rect x="227.22" y="182.00" width="16.94" height="1.05" fill="#520000"/>
<rect x="227.22" y="183.00" width="16.94" height="2.55" fill="#ca0001"/>
<rect x="227.22" y="185.50" width="16.94" height="2.05" fill="#af0000"/>
<rect x="227.22" y="187.50" width="16.94" height="2.55" fill="#620000"/>
<rect x="227.22" y="190.00" width="16.94" height="2.05" fill="#003e00"/>
<rect x="227.22" y="192.00" width="16.94" height="2.05" fill="#005600"/>
<rect x="227.22" y="194.00" width="16.94" height="2.05" fill="#005f00"/>
<rect x="227.22" y="196.00" width="16.94" height="2.05" fill="#1d0000"/>
<rect x="227.22" y="198.00" width="16.94" height="2.55" fill="#380000"/>
<rect x="227.22" y="200.50" width="16.94" height="1.05" fill="#150000"/>
<rect x="227.22" y="201.50" width="16.94" height="1.05" fill="#290000"/>
<rect x="227.22" y="202.50" width="16.94" height="2.55" fill="#2e0000"/>
<rect x="227.22" y="205.00" width="16.94" height="2.05" fill="#001f00"/>
<rect x="227.22" y="207.00" width="16.94" height="1.55" fill="#001500"/>
<rect x="227.22" y="208.50" width="16.94" height="2.05" fill="#002400"/>
<rect x="227.22" y="210.50" width="16.94" height="1.55" fill="#000c00"/>
<rect x="227.22" y="212.00" width="16.94" height="2.05" fill="#003600"/>
<rect x="227.22" y="214.00" width="16.94" height="2.05" fill="#002c00"/>
<rect x="227.22" y="216.00" width="16.94" height="1.05" fill="#000500"/>
<rect x="227.22" y="217.00" width="16.94" height="1.05" fill="#000600"/>
<rect x="227.22" y="218.00" width="16.94" height="2.55" fill="#510000"/>
<rect x="227.22" y="220.50" width="16.94" height="2.55" fill="#a00000"/>
<rect x="227.22" y="223.00" width="16.94" height="2.05" fill="#6e0000"/>
<rect x="227.22" y="225.00" width="16.94" height="2.05" fill="#740000"/>
<rect x="227.22" y="227.00" width="16.94" height="2.05" fill="#000000"/>
<rect x="227.22" y="229.00" width="16.94" height="2.55" fill="#030000"/>
<rect x="227.22" y="231.50" width="16.94" height="2.05" fill="#700000"/>
<rect x="227.22" y="233.50" width="16.94" height="2.55" fill="#b70000"/>
<rect x="227.22" y="236.00" width="16.94" height="2.05" fill="#000500"/>
<rect x="227.22" y="238.00" width="16.94" height="1.05" fill="#000500"/>
<rect x="227.22" y="239.00" width="16.94" height="1.05" fill="#030000"/>
<rect x="227.22" y="240.00" width="16.94" height="2.05" fill="#3e0000"/>
<rect x="227.22" y="242.00" width="16.94" height="2.05" fill="#650000"/>
<rect x="227.22" y="244.00" width="16.94" height="1.05" fill="#730000"/>
<rect x="227.22" y="245.00" width="16.94" height="1.05" fill="#700000"/>
<rect x="227.22" y="246.00" width="16.94" height="2.05" fill="#2b0000"/>
<rect x="227.22" y="248.00" width="16.94" height="2.55" fill="#001500"/>
<rect x="227.22" y="250.50" width="16.94" height="2.05" fill="#1e0000"/>
<rect x="227.22" y="252.50" width="16.94" height="2.05" fill="#830000"/>
<rect x="227.22" y="254.50" width="16.94" height="2.05" fill="#7f0000"/>
<rect x="227.22" y="256.50" width="16.94" height="2.05" fill="#4d0000"/>
<rect x="227.22" y="258.50" width="16.94" height="1.05" fill="#750000"/>
<rect x="227.22" y="259.50" width="16.94" height="2.05" fill="#1b0000"/>
<rect x="227.22" y="261.50" width="16.94" height="2.05" fill="#530000"/>
<rect x="227.22" y="263.50" width="16.94" height="1.55" fill="#230000"/>
<rect x="227.22" y="265.00" width="16.94" height="2.55" fill="#340000"/>
<rect x="227.22" y="267.50" width="16.94" height="1.05" fill="#790000"/>
<rect x="227.22" y="268.50" width="16.94" height="2.05" fill="#580000"/>
<rect x="227.22" y="270.50" width="16.94" height="1.05" fill="#1a0000"/>
<rect x="227.22" y="271.50" width="16.94" height="1.55" fill="#005d00"/>
<rect x="227.22" y="273.00" width="16.94" height="2.05" fill="#005400"/>
<rect x="227.22" y="275.00" width="16.94" height="1.55" fill="#360000"/>
<rect x="227.22" y="276.50" width="16.94" height="1.55" fill="#960000"/>
<rect x="227.22" y="278.00" width="16.94" height="2.05" fill="#400000"/>
<rect x="227.22" y="280.00" width="16.94" height="2.05" fill="#950000"/>
<rect x="227.22" y="282.00" width="16.94" height="2.05" fill="#2e0000"/>
<rect x="227.22" y="284.00" width="16.94" height="1.05" fill="#150000"/>
<rect x="227.22" y="285.00" width="16.94" height="1.55" fill="#de0a0c"/>
<rect x="227.22" y="286.50" width="16.94" height="1.35" fill="#f01216"/>
<rect x="244.12" y="61.00" width="16.94" height="2.05" fill="#040000"/>
<rect x="244.12" y="63.00" width="16.94" height="1.55" fill="#1ff41a"/>
<rect x="244.12" y="64.50" width="16.94" height="2.05" fill="#02cb02"/>
<rect x="244.12" y="66.50" width="16.94" height="1.05" fill="#000800"/>
<rect x="244.12" y="67.50" width="16.94" height="1.05" fill="#000d00"/>
<rect x="244.12" y="68.50" width="16.94" height="2.55" fill="#010000"/>
<rect x="244.12" y="71.00" width="16.94" height="1.05" fill="#000d00"/>
<rect x="244.12" y="72.00" width="16.94" height="2.05" fill="#000600"/>
<rect x="244.12" y="74.00" width="16.94" height="2.55" fill="#002400"/>
<rect x="244.12" y="76.50" width="16.94" height="1.05" fill="#000500"/>
<rect x="244.12" y="77.50" width="16.94" height="2.55" fill="#003200"/>
<rect x="244.12" y="80.00" width="16.94" height="1.55" fill="#000200"/>
<rect x="244.12" y="81.50" width="16.94" height="1.05" fill="#008500"/>
<rect x="244.12" y="82.50" width="16.94" height="1.05" fill="#004500"/>
<rect x="244.12" y="83.50" width="16.94" height="2.05" fill="#001400"/>
<rect x="244.12" y="85.50" width="16.94" height="2.05" fill="#002100"/>
<rect x="244.12" y="87.50" width="16.94" height="1.05" fill="#001b00"/>
<rect x="244.12" y="88.50" width="16.94" height="1.55" fill="#000b00"/>
<rect x="244.12" y="90.00" width="16.94" height="1.05" fill="#001500"/>
<rect x="244.12" y="91.00" width="16.94" height="2.55" fill="#002700"/>
<rect x="244.12" y="93.50" width="16.94" height="2.05" fill="#000a00"/>
<rect x="244.12" y="95.50" width="16.94" height="1.05" fill="#004000"/>
<rect x="244.12" y="96.50" width="16.94" height="2.55" fill="#005300"/>
<rect x="244.12" y="99.00" width="16.94" height="1.05" fill="#002900"/>
<rect x="244.12" y="100.00" width="16.94" height="1.55" fill="#004c00"/>
<rect x="244.12" y="101.50" width="16.94" height="2.55" fill="#005d00"/>
<rect x="244.12" y="104.00" width="16.94" height="1.05" fill="#001400"/>
<rect x="244.12" y="105.00" width="16.94" height="2.55" fill="#005800"/>
<rect x="244.12" y="107.50" width="16.94" height="2.55" fill="#1b0000"/>
<rect x="244.12" y="110.00" width="16.94" height="2.05" fill="#8c0000"/>
<rect x="244.12" y="112.00" width="16.94" height="1.05" fill="#3c0000"/>
<rect x="244.12" y="113.00" width="16.94" height="1.55" fill="#350000"/>
<rect x="244.12" y="114.50" width="16.94" height="1.05" fill="#2c0000"/>
<rect x="244.12" y="115.50" width="16.94" height="2.55" fill="#530000"/>
<rect x="244.12" y="118.00" width="16.94" height="1.55" fill="#570000"/>
<rect x="244.12" y="119.50" width="16.94" height="2.05" fill="#005300"/>
<rect x="244.12" y="121.50" width="16.94" height="2.05" fill="#005100"/>
<rect x="244.12" y="123.50" width="16.94" height="1.55" fill="#001a00"/>
<rect x="244.12" y="125.00" width="16.94" height="2.55" fill="#003f00"/>
<rect x="244.12" y="127.50" width="16.94" height="1.05" fill="#09d508"/>
<rect x="244.12" y="128.50" width="16.94" height="2.55" fill="#00c600"/>
<rect x="244.12" y="131.00" width="16.94" height="2.05" fill="#002200"/>
<rect x="244.12" y="133.00" width="16.94" height="2.55" fill="#000200"/>
<rect x="244.12" y="135.50" width="16.94" height="1.55" fill="#003c00"/>
<rect x="244.12" y="137.00" width="16.94" height="1.05" fill="#004200"/>
<rect x="244.12" y="138.00" width="16.94" height="2.55" fill="#000500"/>
<rect x="244.12" y="140.50" width="16.94" height="2.55" fill="#001800"/>
<rect x="244.12" y="143.00" width="16.94" height="1.55" fill="#002400"/>
<rect x="244.12" y="144.50" width="16.94" height="2.05" fill="#002800"/>
<rect x="244.12" y="146.50" width="16.94" height="1.05" fill="#730000"/>
<rect x="244.12" y="147.50" width="16.94" height="2.55" fill="#7c0000"/>
<rect x="244.12" y="150.00" width="16.94" height="1.05" fill="#010000"/>
<rect x="244.12" y="151.00" width="16.94" height="2.55" fill="#000300"/>
<rect x="244.12" y="153.50" width="16.94" height="1.05" fill="#030000"/>
<rect x="244.12" y="154.50" width="16.94" height="2.55" fill="#000600"/>
<rect x="244.12" y="157.00" width="16.94" height="1.55" fill="#000500"/>
<rect x="244.12" y="158.50" width="16.94" height="2.05" fill="#006e00"/>
<rect x="244.12" y="160.50" width="16.94" height="2.55" fill="#007c00"/>
<rect x="244.12" y="163.00" width="16.94" height="2.05" fill="#00b900"/>
<rect x="244.12" y="165.00" width="16.94" height="2.05" fill="#004400"/>
<rect x="244.12" y="167.00" width="16.94" height="2.05" fill="#3e0000"/>
<rect x="244.12" y="169.00" width="16.94" height="2.55" fill="#020000"/>
<rect x="244.12" y="171.50" width="16.94" height="2.05" fill="#006900"/>
<rect x="244.12" y="173.50" width="16.94" height="2.05" fill="#001300"/>
<rect x="244.12" y="175.50" width="16.94" height="2.05" fill="#190000"/>
<rect x="244.12" y="177.50" width="16.94" height="1.55" fill="#bc0000"/>
<rect x="244.12" y="179.00" width="16.94" height="1.55" fill="#d20405"/>
<rect x="244.12" y="180.50" width="16.94" height="1.55" fill="#440000"/>
<rect x="244.12" y="182.00" width="16.94" height="1.05" fill="#4f0000"/>
<rect x="244.12" y="183.00" width="16.94" height="2.55" fill="#de0a0c"/>
<rect x="244.12" y="185.50" width="16.94" height="2.05" fill="#c20000"/>
<rect x="244.12" y="187.50" width="16.94" height="2.55" fill="#620000"/>
<rect x="244.12" y="190.00" width="16.94" height="2.05" fill="#004c00"/>
<rect x="244.12" y="192.00" width="16.94" height="2.05" fill="#002800"/>
<rect x="244.12" y="194.00" width="16.94" height="2.05" fill="#002d00"/>
<rect x="244.12" y="196.00" width="16.94" height="2.05" fill="#1f0000"/>
<rect x="244.12" y="198.00" width="16.94" height="2.55" fill="#320000"/>
<rect x="244.12" y="200.50" width="16.94" height="1.05" fill="#160000"/>
<rect x="244.12" y="201.50" width="16.94" height="1.05" fill="#290000"/>
<rect x="244.12" y="202.50" width="16.94" height="2.55" fill="#300000"/>
<rect x="244.12" y="205.00" width="16.94" height="2.05" fill="#002200"/>
<rect x="244.12" y="207.00" width="16.94" height="1.55" fill="#001400"/>
<rect x="244.12" y="208.50" width="16.94" height="2.05" fill="#002d00"/>
<rect x="244.12" y="210.50" width="16.94" height="1.55" fill="#000f00"/>
<rect x="244.12" y="212.00" width="16.94" height="2.05" fill="#003000"/>
<rect x="244.12" y="214.00" width="16.94" height="2.05" fill="#003100"/>
<rect x="244.12" y="216.00" width="16.94" height="1.05" fill="#000000"/>
<rect x="244.12" y="217.00" width="16.94" height="1.05" fill="#000100"/>
<rect x="244.12" y="218.00" width="16.94" height="2.55" fill="#4a0000"/>
<rect x="244.12" y="220.50" width="16.94" height="2.55" fill="#960000"/>
<rect x="244.12" y="223.00" width="16.94" height="2.05" fill="#720000"/>
<rect x="244.12" y="225.00" width="16.94" height="2.05" fill="#7a0000"/>
<rect x="244.12" y="227.00" width="16.94" height="2.05" fill="#0a0000"/>
<rect x="244.12" y="229.00" width="16.94" height="2.55" fill="#050000"/>
<rect x="244.12" y="231.50" width="16.94" height="2.05" fill="#760000"/>
<rect x="244.12" y="233.50" width="16.94" height="2.55" fill="#a40000"/>
<rect x="244.12" y="236.00" width="16.94" height="2.05" fill="#000500"/>
<rect x="244.12" y="238.00" width="16.94" height="1.05" fill="#040000"/>
<rect x="244.12" y="239.00" width="16.94" height="1.05" fill="#050000"/>
<rect x="244.12" y="240.00" width="16.94" height="2.05" fill="#320000"/>
<rect x="244.12" y="242.00" width="16.94" height="2.05" fill="#850000"/>
<rect x="244.12" y="244.00" width="16.94" height="1.05" fill="#800000"/>
<rect x="244.12" y="245.00" width="16.94" height="1.05" fill="#840000"/>
<rect x="244.12" y="246.00" width="16.94" height="2.05" fill="#2c0000"/>
<rect x="244.12" y="248.00" width="16.94" height="2.55" fill="#001200"/>
<rect x="244.12" y="250.50" width="16.94" height="2.05" fill="#230000"/>
<rect x="244.12" y="252.50" width="16.94" height="2.05" fill="#890000"/>
<rect x="244.12" y="254.50" width="16.94" height="2.05" fill="#870000"/>
<rect x="244.12" y="256.50" width="16.94" height="2.05" fill="#580000"/>
<rect x="244.12" y="258.50" width="16.94" height="1.05" fill="#710000"/>
<rect x="244.12" y="259.50" width="16.94" height="2.05" fill="#1e0000"/>
<rect x="244.12" y="261.50" width="16.94" height="2.05" fill="#870000"/>
<rect x="244.12" y="263.50" width="16.94" height="1.55" fill="#310000"/>
<rect x="244.12" y="265.00" width="16.94" height="2.55" fill="#3c0000"/>
<rect x="244.12" y="267.50" width="16.94" height="1.05" fill="#720000"/>
<rect x="244.12" y="268.50" width="16.94" height="2.05" fill="#5d0000"/>
<rect x="244.12" y="270.50" width="16.94" height="1.05" fill="#210000"/>
<rect x="244.12" y="271.50" width="16.94" height="1.55" fill="#005000"/>
<rect x="244.12" y="273.00" width="16.94" height="2.05" fill="#005300"/>
<rect x="244.12" y="275.00" width="16.94" height="1.55" fill="#340000"/>
<rect x="244.12" y="276.50" width="16.94" height="1.55" fill="#a30000"/>
<rect x="244.12" y="278.00" width="16.94" height="2.05" fill="#3d0000"/>
<rect x="244.12" y="280.00" width="16.94" height="2.05" fill="#7a0000"/>
<rect x="244.12" y="282.00" width="16.94" height="2.05" fill="#2d0000"/>
<rect x="244.12" y="284.00" width="16.94" height="1.05" fill="#140000"/>
<rect x="244.12" y="285.00" width="16.94" height="1.55" fill="#d90709"/>
<rect x="244.12" y="286.50" width="16.94" height="1.35" fill="#ff181e"/>
<rect x="261.01" y="61.00" width="16.94" height="2.05" fill="#000000"/>
<rect x="261.01" y="63.00" width="16.94" height="1.55" fill="#16e813"/>
<rect x="261.01" y="64.50" width="16.94" height="2.05" fill="#09d508"/>
<rect x="261.01" y="66.50" width="16.94" height="1.05" fill="#000000"/>
<rect x="261.01" y="67.50" width="16.94" height="1.05" fill="#000700"/>
<rect x="261.01" y="68.50" width="16.94" height="2.55" fill="#010000"/>
<rect x="261.01" y="71.00" width="16.94" height="1.05" fill="#000800"/>
<rect x="261.01" y="72.00" width="16.94" height="2.05" fill="#000000"/>
<rect x="261.01" y="74.00" width="16.94" height="2.55" fill="#001b00"/>
<rect x="261.01" y="76.50" width="16.94" height="1.05" fill="#000400"/>
<rect x="261.01" y="77.50" width="16.94" height="2.55" fill="#003a00"/>
<rect x="261.01" y="80.00" width="16.94" height="1.55" fill="#000e00"/>
<rect x="261.01" y="81.50" width="16.94" height="1.05" fill="#007400"/>
<rect x="261.01" y="82.50" width="16.94" height="1.05" fill="#004400"/>
<rect x="261.01" y="83.50" width="16.94" height="2.05" fill="#001600"/>
<rect x="261.01" y="85.50" width="16.94" height="2.05" fill="#002100"/>
<rect x="261.01" y="87.50" width="16.94" height="1.05" fill="#001500"/>
<rect x="261.01" y="88.50" width="16.94" height="1.55" fill="#000a00"/>
<rect x="261.01" y="90.00" width="16.94" height="1.05" fill="#001d00"/>
<rect x="261.01" y="91.00" width="16.94" height="2.55" fill="#002200"/>
<rect x="261.01" y="93.50" width="16.94" height="2.05" fill="#000d00"/>
<rect x="261.01" y="95.50" width="16.94" height="1.05" fill="#004300"/>
<rect x="261.01" y="96.50" width="16.94" height="2.55" fill="#004b00"/>
<rect x="261.01" y="99.00" width="16.94" height="1.05" fill="#003000"/>
<rect x="261.01" y="100.00" width="16.94" height="1.55" fill="#005500"/>
<rect x="261.01" y="101.50" width="16.94" height="2.55" fill="#005b00"/>
<rect x="261.01" y="104.00" width="16.94" height="1.05" fill="#001300"/>
<rect x="261.01" y="105.00" width="16.94" height="2.55" fill="#005600"/>
<rect x="261.01" y="107.50" width="16.94" height="2.55" fill="#1b0000"/>
<rect x="261.01" y="110.00" width="16.94" height="2.05" fill="#740000"/>
<rect x="261.01" y="112.00" width="16.94" height="1.05" fill="#2f0000"/>
<rect x="261.01" y="113.00" width="16.94" height="1.55" fill="#2e0000"/>
<rect x="261.01" y="114.50" width="16.94" height="1.05" fill="#2c0000"/>
<rect x="261.01" y="115.50" width="16.94" height="2.55" fill="#570000"/>
<rect x="261.01" y="118.00" width="16.94" height="1.55" fill="#5d0000"/>
<rect x="261.01" y="119.50" width="16.94" height="2.05" fill="#006300"/>
<rect x="261.01" y="121.50" width="16.94" height="2.05" fill="#005c00"/>
<rect x="261.01" y="123.50" width="16.94" height="1.55" fill="#001600"/>
<rect x="261.01" y="125.00" width="16.94" height="2.55" fill="#004900"/>
<rect x="261.01" y="127.50" width="16.94" height="1.05" fill="#06d105"/>
<rect x="261.01" y="128.50" width="16.94" height="2.55" fill="#00c400"/>
<rect x="261.01" y="131.00" width="16.94" height="2.05" fill="#002600"/>
<rect x="261.01" y="133.00" width="16.94" height="2.55" fill="#000300"/>
<rect x="261.01" y="135.50" width="16.94" height="1.55" fill="#004300"/>
<rect x="261.01" y="137.00" width="16.94" height="1.05" fill="#003f00"/>
<rect x="261.01" y="138.00" width="16.94" height="2.55" fill="#000100"/>
<rect x="261.01" y="140.50" width="16.94" height="2.55" fill="#001400"/>
<rect x="261.01" y="143.00" width="16.94" height="1.55" fill="#002200"/>
<rect x="261.01" y="144.50" width="16.94" height="2.05" fill="#002400"/>
<rect x="261.01" y="146.50" width="16.94" height="1.05" fill="#810000"/>
<rect x="261.01" y="147.50" width="16.94" height="2.55" fill="#870000"/>
<rect x="261.01" y="150.00" width="16.94" height="1.05" fill="#000000"/>
<rect x="261.01" y="151.00" width="16.94" height="2.55" fill="#060000"/>
<rect x="261.01" y="153.50" width="16.94" height="1.05" fill="#000500"/>
<rect x="261.01" y="154.50" width="16.94" height="2.55" fill="#060000"/>
<rect x="261.01" y="157.00" width="16.94" height="1.55" fill="#030000"/>
<rect x="261.01" y="158.50" width="16.94" height="2.05" fill="#006600"/>
<rect x="261.01" y="160.50" width="16.94" height="2.55" fill="#008300"/>
<rect x="261.01" y="163.00" width="16.94" height="2.05" fill="#00af00"/>
<rect x="261.01" y="165.00" width="16.94" height="2.05" fill="#003f00"/>
<rect x="261.01" y="167.00" width="16.94" height="2.05" fill="#3e0000"/>
<rect x="261.01" y="169.00" width="16.94" height="2.55" fill="#050000"/>
<rect x="261.01" y="171.50" width="16.94" height="2.05" fill="#006200"/>
<rect x="261.01" y="173.50" width="16.94" height="2.05" fill="#002300"/>
<rect x="261.01" y="175.50" width="16.94" height="2.05" fill="#1a0000"/>
<rect x="261.01" y="177.50" width="16.94" height="1.55" fill="#c00000"/>
<rect x="261.01" y="179.00" width="16.94" height="1.55" fill="#cb0102"/>
<rect x="261.01" y="180.50" width="16.94" height="1.55" fill="#4b0000"/>
<rect x="261.01" y="182.00" width="16.94" height="1.05" fill="#4a0000"/>
<rect x="261.01" y="183.00" width="16.94" height="2.55" fill="#cf0304"/>
<rect x="261.01" y="185.50" width="16.94" height="2.05" fill="#d00304"/>
<rect x="261.01" y="187.50" width="16.94" height="2.55" fill="#700000"/>
<rect x="261.01" y="190.00" width="16.94" height="2.05" fill="#004b00"/>
<rect x="261.01" y="192.00" width="16.94" height="2.05" fill="#003000"/>
<rect x="261.01" y="194.00" width="16.94" height="2.05" fill="#002200"/>
<rect x="261.01" y="196.00" width="16.94" height="2.05" fill="#200000"/>
<rect x="261.01" y="198.00" width="16.94" height="2.55" fill="#3a0000"/>
<rect x="261.01" y="200.50" width="16.94" height="1.05" fill="#1b0000"/>
<rect x="261.01" y="201.50" width="16.94" height="1.05" fill="#2e0000"/>
<rect x="261.01" y="202.50" width="16.94" height="2.55" fill="#2a0000"/>
<rect x="261.01" y="205.00" width="16.94" height="2.05" fill="#002100"/>
<rect x="261.01" y="207.00" width="16.94" height="1.55" fill="#001a00"/>
<rect x="261.01" y="208.50" width="16.94" height="2.05" fill="#1e0000"/>
<rect x="261.01" y="210.50" width="16.94" height="1.55" fill="#090000"/>
<rect x="261.01" y="212.00" width="16.94" height="2.05" fill="#003000"/>
<rect x="261.01" y="214.00" width="16.94" height="2.05" fill="#003300"/>
<rect x="261.01" y="216.00" width="16.94" height="1.05" fill="#040000"/>
<rect x="261.01" y="217.00" width="16.94" height="1.05" fill="#050000"/>
<rect x="261.01" y="218.00" width="16.94" height="2.55" fill="#410000"/>
<rect x="261.01" y="220.50" width="16.94" height="2.55" fill="#9c0000"/>
<rect x="261.01" y="223.00" width="16.94" height="2.05" fill="#5e0000"/>
<rect x="261.01" y="225.00" width="16.94" height="2.05" fill="#700000"/>
<rect x="261.01" y="227.00" width="16.94" height="2.05" fill="#060000"/>
<rect x="261.01" y="229.00" width="16.94" height="2.55" fill="#000500"/>
<rect x="261.01" y="231.50" width="16.94" height="2.05" fill="#770000"/>
<rect x="261.01" y="233.50" width="16.94" height="2.55" fill="#a10000"/>
<rect x="261.01" y="236.00" width="16.94" height="2.05" fill="#000200"/>
<rect x="261.01" y="238.00" width="16.94" height="1.05" fill="#000000"/>
<rect x="261.01" y="239.00" width="16.94" height="1.05" fill="#000100"/>
<rect x="261.01" y="240.00" width="16.94" height="2.05" fill="#380000"/>
<rect x="261.01" y="242.00" width="16.94" height="2.05" fill="#5c0000"/>
<rect x="261.01" y="244.00" width="16.94" height="1.05" fill="#5d0000"/>
<rect x="261.01" y="245.00" width="16.94" height="1.05" fill="#680000"/>
<rect x="261.01" y="246.00" width="16.94" height="2.05" fill="#280000"/>
<rect x="261.01" y="248.00" width="16.94" height="2.55" fill="#001200"/>
<rect x="261.01" y="250.50" width="16.94" height="2.05" fill="#1f0000"/>
<rect x="261.01" y="252.50" width="16.94" height="2.05" fill="#880000"/>
<rect x="261.01" y="254.50" width="16.94" height="2.05" fill="#860000"/>
<rect x="261.01" y="256.50" width="16.94" height="2.05" fill="#500000"/>
<rect x="261.01" y="258.50" width="16.94" height="1.05" fill="#6b0000"/>
<rect x="261.01" y="259.50" width="16.94" height="2.05" fill="#1f0000"/>
<rect x="261.01" y="261.50" width="16.94" height="2.05" fill="#650000"/>
<rect x="261.01" y="263.50" width="16.94" height="1.55" fill="#230000"/>
<rect x="261.01" y="265.00" width="16.94" height="2.55" fill="#420000"/>
<rect x="261.01" y="267.50" width="16.94" height="1.05" fill="#6a0000"/>
<rect x="261.01" y="268.50" width="16.94" height="2.05" fill="#620000"/>
<rect x="261.01" y="270.50" width="16.94" height="1.05" fill="#220000"/>
<rect x="261.01" y="271.50" width="16.94" height="1.55" fill="#005900"/>
<rect x="261.01" y="273.00" width="16.94" height="2.05" fill="#005200"/>
<rect x="261.01" y="275.00" width="16.94" height="1.55" fill="#2e0000"/>
<rect x="261.01" y="276.50" width="16.94" height="1.55" fill="#930000"/>
<rect x="261.01" y="278.00" width="16.94" height="2.05" fill="#430000"/>
<rect x="261.01" y="280.00" width="16.94" height="2.05" fill="#940000"/>
<rect x="261.01" y="282.00" width="16.94" height="2.05" fill="#260000"/>
<rect x="261.01" y="284.00" width="16.94" height="1.05" fill="#0e0000"/>
<rect x="261.01" y="285.00" width="16.94" height="1.55" fill="#d40506"/>
<rect x="261.01" y="286.50" width="16.94" height="1.35" fill="#ff181e"/>
</g>
<polyline fill="none" stroke="#333" stroke-width="0.9" points="100.9,60.6 100.9,54.6 117.7,54.6 117.7,60.6"/>
<polyline fill="none" stroke="#333" stroke-width="0.9" points="84.0,60.6 84.0,36.0 109.3,36.0 109.3,54.6"/>
<polyline fill="none" stroke="#333" stroke-width="0.9" points="134.6,60.6 134.6,57.4 151.5,57.4 151.5,60.6"/>
<polyline fill="none" stroke="#333" stroke-width="0.9" points="143.0,57.4 143.0,55.6 168.4,55.6 168.4,60.6"/>
<polyline fill="none" stroke="#333" stroke-width="0.9" points="185.2,60.6 185.2,57.4 202.1,57.4 202.1,60.6"/>
<polyline fill="none" stroke="#333" stroke-width="0.9" points="193.7,57.4 193.7,56.2 219.0,56.2 219.0,60.6"/>
<polyline fill="none" stroke="#333" stroke-width="0.9" points="252.7,60.6 252.7,57.4 269.6,57.4 269.6,60.6"/>
<polyline fill="none" stroke="#333" stroke-width="0.9" points="261.1,57.4 261.1,56.2 235.8,56.2 235.8,60.6"/>
<polyline fill="none" stroke="#333" stroke-width="0.9" points="206.3,56.2 206.3,47.0 248.5,47.0 248.5,56.2"/>
<polyline fill="none" stroke="#333" stroke-width="0.9" points="155.7,55.6 155.7,39.8 227.4,39.8 227.4,47.0"/>
<polyline fill="none" stroke="#333" stroke-width="0.9" points="96.7,36.0 96.7,23.5 191.5,23.5 191.5,39.8"/>
<polyline fill="none" stroke="#333" stroke-width="0.9" points="72.5,60.9 18.6,60.9 18.6,138.0 40.8,138.0"/>
<polyline fill="none" stroke="#333" stroke-width="0.9" points="40.8,60.9 40.8,215.8 47.6,215.8"/>
<polyline fill="none" stroke="#333" stroke-width="0.9" points="55.5,145.0 47.6,145.0 47.6,286.0 73.0,286.0"/>
<polyline fill="none" stroke="#333" stroke-width="0.9" points="55.5,60.9 55.5,229.2 63.3,229.2"/>
<polyline fill="none" stroke="#9a9a9a" stroke-width="2.2" points="72.0,174.0 63.6,174.0 63.6,284.0 73.0,284.0"/>
<polyline fill="none" stroke="#909090" stroke-width="1.2" points="72.0,64.5 66.2,64.5 66.2,100.0 64.8,100.0 64.8,173.5"/>
<polyline fill="none" stroke="#a8a8a8" stroke-width="1.1" points="67.6,66.0 67.6,172.0"/>
<polyline fill="none" stroke="#666" stroke-width="1" points="72.0,170.3 67.6,170.3"/>
<polyline fill="none" stroke="#a0a0a0" stroke-width="1.1" points="70.3,118.0 70.3,170.0"/>
<polyline fill="none" stroke="#b0b0b0" stroke-width="1" points="69.0,140.0 69.0,168.0 72.0,168.0"/>
<polyline fill="none" stroke="#4a4a4a" stroke-width="1.0" points="72.5,175.6 67.4,175.6 67.4,278.0 72.5,278.0"/>
<line x1="70.2" y1="180.0" x2="70.2" y2="284.0" stroke="#b0b0b0" stroke-width="1.6"/>
<line x1="68.8" y1="205.0" x2="68.8" y2="272.0" stroke="#c0c0c0" stroke-width="1"/>
<line x1="70.6" y1="70.0" x2="72.2" y2="70.0" stroke="#999" stroke-width="0.8"/>
<line x1="70.6" y1="76.0" x2="72.2" y2="76.0" stroke="#999" stroke-width="0.8"/>
<line x1="70.6" y1="83.0" x2="72.2" y2="83.0" stroke="#999" stroke-width="0.8"/>
<line x1="70.6" y1="90.0" x2="72.2" y2="90.0" stroke="#999" stroke-width="0.8"/>
<line x1="70.6" y1="96.0" x2="72.2" y2="96.0" stroke="#999" stroke-width="0.8"/>
<line x1="70.6" y1="104.0" x2="72.2" y2="104.0" stroke="#999" stroke-width="0.8"/>
<line x1="70.6" y1="110.0" x2="72.2" y2="110.0" stroke="#999" stroke-width="0.8"/>
<line x1="70.6" y1="118.0" x2="72.2" y2="118.0" stroke="#999" stroke-width="0.8"/>
<line x1="70.6" y1="125.0" x2="72.2" y2="125.0" stroke="#999" stroke-width="0.8"/>
<line x1="70.6" y1="133.0" x2="72.2" y2="133.0" stroke="#999" stroke-width="0.8"/>
<line x1="70.6" y1="141.0" x2="72.2" y2="141.0" stroke="#999" stroke-width="0.8"/>
<line x1="70.6" y1="150.0" x2="72.2" y2="150.0" stroke="#999" stroke-width="0.8"/>
<line x1="70.6" y1="156.0" x2="72.2" y2="156.0" stroke="#999" stroke-width="0.8"/>
<line x1="70.6" y1="160.0" x2="72.2" y2="160.0" stroke="#999" stroke-width="0.8"/>
<line x1="70.6" y1="165.0" x2="72.2" y2="165.0" stroke="#999" stroke-width="0.8"/>
<line x1="70.6" y1="182.0" x2="72.2" y2="182.0" stroke="#999" stroke-width="0.8"/>
<line x1="70.6" y1="190.0" x2="72.2" y2="190.0" stroke="#999" stroke-width="0.8"/>
<line x1="70.6" y1="197.0" x2="72.2" y2="197.0" stroke="#999" stroke-width="0.8"/>
<line x1="70.6" y1="205.0" x2="72.2" y2="205.0" stroke="#999" stroke-width="0.8"/>
<line x1="70.6" y1="213.0" x2="72.2" y2="213.0" stroke="#999" stroke-width="0.8"/>
<line x1="70.6" y1="222.0" x2="72.2" y2="222.0" stroke="#999" stroke-width="0.8"/>
<line x1="70.6" y1="231.0" x2="72.2" y2="231.0" stroke="#999" stroke-width="0.8"/>
<line x1="70.6" y1="240.0" x2="72.2" y2="240.0" stroke="#999" stroke-width="0.8"/>
<line x1="70.6" y1="248.0" x2="72.2" y2="248.0" stroke="#999" stroke-width="0.8"/>
<line x1="70.6" y1="255.0" x2="72.2" y2="255.0" stroke="#999" stroke-width="0.8"/>
<line x1="70.6" y1="262.0" x2="72.2" y2="262.0" stroke="#999" stroke-width="0.8"/>
<line x1="70.6" y1="268.0" x2="72.2" y2="268.0" stroke="#999" stroke-width="0.8"/>
<line x1="70.6" y1="274.0" x2="72.2" y2="274.0" stroke="#999" stroke-width="0.8"/>
<rect x="71.7" y="60.6" width="3.6" height="227.2" fill="#050505"/>
<line x1="73.2" y1="70" x2="73.2" y2="283" stroke="#8a8a8a" stroke-width="0.9" stroke-dasharray="6 14 10 22 4 16 12 9"/>
<rect x="18.4" y="19.8" width="59.9" height="24" fill="#ececec"/>
<g shape-rendering="crispEdges">
<rect x="18.40" y="43.7" width="8.44" height="8" fill="#00ff00"/>
<rect x="26.79" y="43.7" width="8.44" height="8" fill="#00aa00"/>
<rect x="35.17" y="43.7" width="8.44" height="8" fill="#005500"/>
<rect x="43.56" y="43.7" width="8.44" height="8" fill="#000000"/>
<rect x="51.94" y="43.7" width="8.44" height="8" fill="#550000"/>
<rect x="60.33" y="43.7" width="8.44" height="8" fill="#aa0000"/>
<rect x="68.71" y="43.7" width="8.44" height="8" fill="#ff0000"/>
</g>
<text transform="translate(29.0,43.3) rotate(-90)" font-family="Liberation Sans, sans-serif" font-size="8.2" fill="#000" stroke="#000" stroke-width="0.25">-2.00</text>
<text transform="translate(37.2,43.3) rotate(-90)" font-family="Liberation Sans, sans-serif" font-size="8.2" fill="#000" stroke="#000" stroke-width="0.25">-1.33</text>
<text transform="translate(45.5,43.3) rotate(-90)" font-family="Liberation Sans, sans-serif" font-size="8.2" fill="#000" stroke="#000" stroke-width="0.25">-0.67</text>
<text transform="translate(53.8,43.3) rotate(-90)" font-family="Liberation Sans, sans-serif" font-size="8.2" fill="#000" stroke="#000" stroke-width="0.25">0.00</text>
<text transform="translate(62.0,43.3) rotate(-90)" font-family="Liberation Sans, sans-serif" font-size="8.2" fill="#000" stroke="#000" stroke-width="0.25">0.67</text>
<text transform="translate(70.2,43.3) rotate(-90)" font-family="Liberation Sans, sans-serif" font-size="8.2" fill="#000" stroke="#000" stroke-width="0.25">1.33</text>
<text transform="translate(78.5,43.3) rotate(-90)" font-family="Liberation Sans, sans-serif" font-size="8.2" fill="#000" stroke="#000" stroke-width="0.25">2.00</text>
<text x="3.0" y="14.3" font-family="Liberation Sans, sans-serif" font-weight="bold" font-size="18.6" fill="#000">a</text>
<text x="276.0" y="15.6" font-family="Liberation Sans, sans-serif" font-weight="bold" font-size="19.3" fill="#000">b</text>
<text transform="translate(88.3,292.3) rotate(-90)" text-anchor="end" font-family="Liberation Sans, sans-serif" font-weight="bold" font-size="7.3" fill="#000" stroke="#000" stroke-width="0.2">hBM-MPC-1</text>
<text transform="translate(105.0,292.3) rotate(-90)" text-anchor="end" font-family="Liberation Sans, sans-serif" font-weight="bold" font-size="7.3" fill="#000" stroke="#000" stroke-width="0.2">hBM-MPC-2</text>
<text transform="translate(121.7,292.3) rotate(-90)" text-anchor="end" font-family="Liberation Sans, sans-serif" font-weight="bold" font-size="7.3" fill="#000" stroke="#000" stroke-width="0.2">hBM-MPC-3</text>
<text transform="translate(138.4,292.3) rotate(-90)" text-anchor="end" font-family="Liberation Sans, sans-serif" font-weight="bold" font-size="7.3" fill="#000" stroke="#000" stroke-width="0.2">CHA-hES15-MPC-1</text>
<text transform="translate(155.1,292.3) rotate(-90)" text-anchor="end" font-family="Liberation Sans, sans-serif" font-weight="bold" font-size="7.3" fill="#000" stroke="#000" stroke-width="0.2">CHA-hES15-MPC-2</text>
<text transform="translate(171.8,292.3) rotate(-90)" text-anchor="end" font-family="Liberation Sans, sans-serif" font-weight="bold" font-size="7.3" fill="#000" stroke="#000" stroke-width="0.2">CHA-hES15-MPC-3</text>
<text transform="translate(188.5,292.3) rotate(-90)" text-anchor="end" font-family="Liberation Sans, sans-serif" font-weight="bold" font-size="7.3" fill="#000" stroke="#000" stroke-width="0.2">CHA-hNT5-MPC-1</text>
<text transform="translate(205.2,292.3) rotate(-90)" text-anchor="end" font-family="Liberation Sans, sans-serif" font-weight="bold" font-size="7.3" fill="#000" stroke="#000" stroke-width="0.2">CHA-hNT5-MPC-2</text>
<text transform="translate(221.9,292.3) rotate(-90)" text-anchor="end" font-family="Liberation Sans, sans-serif" font-weight="bold" font-size="7.3" fill="#000" stroke="#000" stroke-width="0.2">CHA-hNT5-MPC-3</text>
<text transform="translate(238.6,292.3) rotate(-90)" text-anchor="end" font-family="Liberation Sans, sans-serif" font-weight="bold" font-size="7.3" fill="#000" stroke="#000" stroke-width="0.2">CHA-hNT8-MPC-1</text>
<text transform="translate(255.3,292.3) rotate(-90)" text-anchor="end" font-family="Liberation Sans, sans-serif" font-weight="bold" font-size="7.3" fill="#000" stroke="#000" stroke-width="0.2">CHA-hNT8-MPC-2</text>
<text transform="translate(272.0,292.3) rotate(-90)" text-anchor="end" font-family="Liberation Sans, sans-serif" font-weight="bold" font-size="7.3" fill="#000" stroke="#000" stroke-width="0.2">CHA-hNT8-MPC-3</text>
<g shape-rendering="crispEdges">
<rect x="308.40" y="21.20" width="15.83" height="6.73" fill="#ffff00"/>
<rect x="324.17" y="21.20" width="15.83" height="6.73" fill="#ccff00"/>
<rect x="339.95" y="21.20" width="15.83" height="6.73" fill="#88ff00"/>
<rect x="355.72" y="21.20" width="15.83" height="6.73" fill="#00ff55"/>
<rect x="371.50" y="21.20" width="15.83" height="6.73" fill="#00ff00"/>
<rect x="387.27" y="21.20" width="15.83" height="6.73" fill="#00ff00"/>
<rect x="403.05" y="21.20" width="15.83" height="6.73" fill="#00ffcc"/>
<rect x="418.82" y="21.20" width="15.83" height="6.73" fill="#00ffff"/>
<rect x="434.60" y="21.20" width="15.83" height="6.73" fill="#00ffff"/>
<rect x="450.38" y="21.20" width="15.83" height="6.73" fill="#ff00ff"/>
<rect x="466.15" y="21.20" width="15.83" height="6.73" fill="#ff00ff"/>
<rect x="481.92" y="21.20" width="15.83" height="6.73" fill="#ff00ff"/>
<rect x="308.40" y="27.88" width="15.83" height="6.73" fill="#e6ff00"/>
<rect x="324.17" y="27.88" width="15.83" height="6.73" fill="#ffcc00"/>
<rect x="339.95" y="27.88" width="15.83" height="6.73" fill="#00ff00"/>
<rect x="355.72" y="27.88" width="15.83" height="6.73" fill="#00ff00"/>
<rect x="371.50" y="27.88" width="15.83" height="6.73" fill="#00ff00"/>
<rect x="387.27" y="27.88" width="15.83" height="6.73" fill="#00ff00"/>
<rect x="403.05" y="27.88" width="15.83" height="6.73" fill="#00ffbf"/>
<rect x="418.82" y="27.88" width="15.83" height="6.73" fill="#00ff95"/>
<rect x="434.60" y="27.88" width="15.83" height="6.73" fill="#00ff9d"/>
<rect x="450.38" y="27.88" width="15.83" height="6.73" fill="#ff00ff"/>
<rect x="466.15" y="27.88" width="15.83" height="6.73" fill="#dd00ff"/>
<rect x="481.92" y="27.88" width="15.83" height="6.73" fill="#e100ff"/>
<rect x="308.40" y="34.56" width="15.83" height="6.73" fill="#00ff00"/>
<rect x="324.17" y="34.56" width="15.83" height="6.73" fill="#ffee00"/>
<rect x="339.95" y="34.56" width="15.83" height="6.73" fill="#ffbf00"/>
<rect x="355.72" y="34.56" width="15.83" height="6.73" fill="#00ff55"/>
<rect x="371.50" y="34.56" width="15.83" height="6.73" fill="#00ff6a"/>
<rect x="387.27" y="34.56" width="15.83" height="6.73" fill="#00bfff"/>
<rect x="403.05" y="34.56" width="15.83" height="6.73" fill="#00ff15"/>
<rect x="418.82" y="34.56" width="15.83" height="6.73" fill="#00ffb3"/>
<rect x="434.60" y="34.56" width="15.83" height="6.73" fill="#00ffbf"/>
<rect x="450.38" y="34.56" width="15.83" height="6.73" fill="#ff00ff"/>
<rect x="466.15" y="34.56" width="15.83" height="6.73" fill="#8000ff"/>
<rect x="481.92" y="34.56" width="15.83" height="6.73" fill="#5100ff"/>
<rect x="308.40" y="41.24" width="15.83" height="6.73" fill="#b3ff00"/>
<rect x="324.17" y="41.24" width="15.83" height="6.73" fill="#ffff00"/>
<rect x="339.95" y="41.24" width="15.83" height="6.73" fill="#bfff00"/>
<rect x="355.72" y="41.24" width="15.83" height="6.73" fill="#00ff80"/>
<rect x="371.50" y="41.24" width="15.83" height="6.73" fill="#00ffea"/>
<rect x="387.27" y="41.24" width="15.83" height="6.73" fill="#00ffff"/>
<rect x="403.05" y="41.24" width="15.83" height="6.73" fill="#006fff"/>
<rect x="418.82" y="41.24" width="15.83" height="6.73" fill="#008cff"/>
<rect x="434.60" y="41.24" width="15.83" height="6.73" fill="#0077ff"/>
<rect x="450.38" y="41.24" width="15.83" height="6.73" fill="#c800ff"/>
<rect x="466.15" y="41.24" width="15.83" height="6.73" fill="#8c00ff"/>
<rect x="481.92" y="41.24" width="15.83" height="6.73" fill="#4400ff"/>
<rect x="308.40" y="47.92" width="15.83" height="6.73" fill="#00ff00"/>
<rect x="324.17" y="47.92" width="15.83" height="6.73" fill="#ffff00"/>
<rect x="339.95" y="47.92" width="15.83" height="6.73" fill="#fff200"/>
<rect x="355.72" y="47.92" width="15.83" height="6.73" fill="#f2ff00"/>
<rect x="371.50" y="47.92" width="15.83" height="6.73" fill="#ffff00"/>
<rect x="387.27" y="47.92" width="15.83" height="6.73" fill="#ffff00"/>
<rect x="403.05" y="47.92" width="15.83" height="6.73" fill="#00ffbf"/>
<rect x="418.82" y="47.92" width="15.83" height="6.73" fill="#00ddff"/>
<rect x="434.60" y="47.92" width="15.83" height="6.73" fill="#00ff00"/>
<rect x="450.38" y="47.92" width="15.83" height="6.73" fill="#3c00ff"/>
<rect x="466.15" y="47.92" width="15.83" height="6.73" fill="#9500ff"/>
<rect x="481.92" y="47.92" width="15.83" height="6.73" fill="#4400ff"/>
<rect x="308.40" y="54.60" width="15.83" height="6.73" fill="#aaff00"/>
<rect x="324.17" y="54.60" width="15.83" height="6.73" fill="#e6ff00"/>
<rect x="339.95" y="54.60" width="15.83" height="6.73" fill="#ccff00"/>
<rect x="355.72" y="54.60" width="15.83" height="6.73" fill="#00ff80"/>
<rect x="371.50" y="54.60" width="15.83" height="6.73" fill="#00ff00"/>
<rect x="387.27" y="54.60" width="15.83" height="6.73" fill="#00ff22"/>
<rect x="403.05" y="54.60" width="15.83" height="6.73" fill="#00ff80"/>
<rect x="418.82" y="54.60" width="15.83" height="6.73" fill="#00ff00"/>
<rect x="434.60" y="54.60" width="15.83" height="6.73" fill="#00ff00"/>
<rect x="450.38" y="54.60" width="15.83" height="6.73" fill="#2a00ff"/>
<rect x="466.15" y="54.60" width="15.83" height="6.73" fill="#0000ff"/>
<rect x="481.92" y="54.60" width="15.83" height="6.73" fill="#0026ff"/>
<rect x="308.40" y="61.28" width="15.83" height="6.73" fill="#00ff00"/>
<rect x="324.17" y="61.28" width="15.83" height="6.73" fill="#ffff00"/>
<rect x="339.95" y="61.28" width="15.83" height="6.73" fill="#fff200"/>
<rect x="355.72" y="61.28" width="15.83" height="6.73" fill="#00ff00"/>
<rect x="371.50" y="61.28" width="15.83" height="6.73" fill="#00ff00"/>
<rect x="387.27" y="61.28" width="15.83" height="6.73" fill="#80ff00"/>
<rect x="403.05" y="61.28" width="15.83" height="6.73" fill="#00ff00"/>
<rect x="418.82" y="61.28" width="15.83" height="6.73" fill="#00ff00"/>
<rect x="434.60" y="61.28" width="15.83" height="6.73" fill="#00ff00"/>
<rect x="450.38" y="61.28" width="15.83" height="6.73" fill="#5100ff"/>
<rect x="466.15" y="61.28" width="15.83" height="6.73" fill="#00bfff"/>
<rect x="481.92" y="61.28" width="15.83" height="6.73" fill="#0000ff"/>
<rect x="308.40" y="67.96" width="15.83" height="6.73" fill="#ffff00"/>
<rect x="324.17" y="67.96" width="15.83" height="6.73" fill="#bfff00"/>
<rect x="339.95" y="67.96" width="15.83" height="6.73" fill="#88ff00"/>
<rect x="355.72" y="67.96" width="15.83" height="6.73" fill="#00ff00"/>
<rect x="371.50" y="67.96" width="15.83" height="6.73" fill="#00ff00"/>
<rect x="387.27" y="67.96" width="15.83" height="6.73" fill="#00ff00"/>
<rect x="403.05" y="67.96" width="15.83" height="6.73" fill="#00ff0d"/>
<rect x="418.82" y="67.96" width="15.83" height="6.73" fill="#00ff22"/>
<rect x="434.60" y="67.96" width="15.83" height="6.73" fill="#00ff19"/>
<rect x="450.38" y="67.96" width="15.83" height="6.73" fill="#0026ff"/>
<rect x="466.15" y="67.96" width="15.83" height="6.73" fill="#0084ff"/>
<rect x="481.92" y="67.96" width="15.83" height="6.73" fill="#0095ff"/>
<rect x="308.40" y="74.64" width="15.83" height="6.73" fill="#00ff00"/>
<rect x="324.17" y="74.64" width="15.83" height="6.73" fill="#ffd500"/>
<rect x="339.95" y="74.64" width="15.83" height="6.73" fill="#ccff00"/>
<rect x="355.72" y="74.64" width="15.83" height="6.73" fill="#00ff00"/>
<rect x="371.50" y="74.64" width="15.83" height="6.73" fill="#00ff00"/>
<rect x="387.27" y="74.64" width="15.83" height="6.73" fill="#00ff15"/>
<rect x="403.05" y="74.64" width="15.83" height="6.73" fill="#00ff2a"/>
<rect x="418.82" y="74.64" width="15.83" height="6.73" fill="#00ff22"/>
<rect x="434.60" y="74.64" width="15.83" height="6.73" fill="#00ff15"/>
<rect x="450.38" y="74.64" width="15.83" height="6.73" fill="#00c8ff"/>
<rect x="466.15" y="74.64" width="15.83" height="6.73" fill="#0095ff"/>
<rect x="481.92" y="74.64" width="15.83" height="6.73" fill="#00a2ff"/>
<rect x="308.40" y="81.32" width="15.83" height="6.73" fill="#aaff00"/>
<rect x="324.17" y="81.32" width="15.83" height="6.73" fill="#ffee00"/>
<rect x="339.95" y="81.32" width="15.83" height="6.73" fill="#ccff00"/>
<rect x="355.72" y="81.32" width="15.83" height="6.73" fill="#00ff55"/>
<rect x="371.50" y="81.32" width="15.83" height="6.73" fill="#00ff5e"/>
<rect x="387.27" y="81.32" width="15.83" height="6.73" fill="#00ffcc"/>
<rect x="403.05" y="81.32" width="15.83" height="6.73" fill="#00ff95"/>
<rect x="418.82" y="81.32" width="15.83" height="6.73" fill="#00ff2a"/>
<rect x="434.60" y="81.32" width="15.83" height="6.73" fill="#00ff2a"/>
<rect x="450.38" y="81.32" width="15.83" height="6.73" fill="#0095ff"/>
<rect x="466.15" y="81.32" width="15.83" height="6.73" fill="#00a2ff"/>
<rect x="481.92" y="81.32" width="15.83" height="6.73" fill="#00b2ff"/>
<rect x="308.40" y="88.00" width="15.83" height="6.73" fill="#ddff00"/>
<rect x="324.17" y="88.00" width="15.83" height="6.73" fill="#fff200"/>
<rect x="339.95" y="88.00" width="15.83" height="6.73" fill="#80ff00"/>
<rect x="355.72" y="88.00" width="15.83" height="6.73" fill="#c8ff00"/>
<rect x="371.50" y="88.00" width="15.83" height="6.73" fill="#bfff00"/>
<rect x="387.27" y="88.00" width="15.83" height="6.73" fill="#00ff00"/>
<rect x="403.05" y="88.00" width="15.83" height="6.73" fill="#00ff62"/>
<rect x="418.82" y="88.00" width="15.83" height="6.73" fill="#00ff80"/>
<rect x="434.60" y="88.00" width="15.83" height="6.73" fill="#00ff2a"/>
<rect x="450.38" y="88.00" width="15.83" height="6.73" fill="#0084ff"/>
<rect x="466.15" y="88.00" width="15.83" height="6.73" fill="#00c8ff"/>
<rect x="481.92" y="88.00" width="15.83" height="6.73" fill="#00ddff"/>
<rect x="308.40" y="94.68" width="15.83" height="6.73" fill="#e1ff00"/>
<rect x="324.17" y="94.68" width="15.83" height="6.73" fill="#ffff00"/>
<rect x="339.95" y="94.68" width="15.83" height="6.73" fill="#80ff00"/>
<rect x="355.72" y="94.68" width="15.83" height="6.73" fill="#00ff00"/>
<rect x="371.50" y="94.68" width="15.83" height="6.73" fill="#00ff00"/>
<rect x="387.27" y="94.68" width="15.83" height="6.73" fill="#00ff00"/>
<rect x="403.05" y="94.68" width="15.83" height="6.73" fill="#00ff3c"/>
<rect x="418.82" y="94.68" width="15.83" height="6.73" fill="#00ff2a"/>
<rect x="434.60" y="94.68" width="15.83" height="6.73" fill="#00ff0d"/>
<rect x="450.38" y="94.68" width="15.83" height="6.73" fill="#00ddff"/>
<rect x="466.15" y="94.68" width="15.83" height="6.73" fill="#00d4ff"/>
<rect x="481.92" y="94.68" width="15.83" height="6.73" fill="#00bfff"/>
<rect x="308.40" y="101.36" width="15.83" height="6.73" fill="#95ff00"/>
<rect x="324.17" y="101.36" width="15.83" height="6.73" fill="#3cff00"/>
<rect x="339.95" y="101.36" width="15.83" height="6.73" fill="#ffc800"/>
<rect x="355.72" y="101.36" width="15.83" height="6.73" fill="#00ff00"/>
<rect x="371.50" y="101.36" width="15.83" height="6.73" fill="#00ff00"/>
<rect x="387.27" y="101.36" width="15.83" height="6.73" fill="#00ff00"/>
<rect x="403.05" y="101.36" width="15.83" height="6.73" fill="#80ff00"/>
<rect x="418.82" y="101.36" width="15.83" height="6.73" fill="#aaff00"/>
<rect x="434.60" y="101.36" width="15.83" height="6.73" fill="#00ff00"/>
<rect x="450.38" y="101.36" width="15.83" height="6.73" fill="#006fff"/>
<rect x="466.15" y="101.36" width="15.83" height="6.73" fill="#00e5ff"/>
<rect x="481.92" y="101.36" width="15.83" height="6.73" fill="#00ffdd"/>
<rect x="308.40" y="108.04" width="15.83" height="6.73" fill="#aaff00"/>
<rect x="324.17" y="108.04" width="15.83" height="6.73" fill="#eeff00"/>
<rect x="339.95" y="108.04" width="15.83" height="6.73" fill="#c8ff00"/>
<rect x="355.72" y="108.04" width="15.83" height="6.73" fill="#c8ff00"/>
<rect x="371.50" y="108.04" width="15.83" height="6.73" fill="#fff200"/>
<rect x="387.27" y="108.04" width="15.83" height="6.73" fill="#ffd900"/>
<rect x="403.05" y="108.04" width="15.83" height="6.73" fill="#8cff00"/>
<rect x="418.82" y="108.04" width="15.83" height="6.73" fill="#00ff00"/>
<rect x="434.60" y="108.04" width="15.83" height="6.73" fill="#00ff00"/>
<rect x="450.38" y="108.04" width="15.83" height="6.73" fill="#00ddff"/>
<rect x="466.15" y="108.04" width="15.83" height="6.73" fill="#00eaff"/>
<rect x="481.92" y="108.04" width="15.83" height="6.73" fill="#00eeff"/>
<rect x="308.40" y="114.72" width="15.83" height="6.73" fill="#00ff00"/>
<rect x="324.17" y="114.72" width="15.83" height="6.73" fill="#ff6f00"/>
<rect x="339.95" y="114.72" width="15.83" height="6.73" fill="#c8ff00"/>
<rect x="355.72" y="114.72" width="15.83" height="6.73" fill="#ffdd00"/>
<rect x="371.50" y="114.72" width="15.83" height="6.73" fill="#ffc800"/>
<rect x="387.27" y="114.72" width="15.83" height="6.73" fill="#c8ff00"/>
<rect x="403.05" y="114.72" width="15.83" height="6.73" fill="#ff3c00"/>
<rect x="418.82" y="114.72" width="15.83" height="6.73" fill="#ff9500"/>
<rect x="434.60" y="114.72" width="15.83" height="6.73" fill="#ff9500"/>
<rect x="450.38" y="114.72" width="15.83" height="6.73" fill="#0095ff"/>
<rect x="466.15" y="114.72" width="15.83" height="6.73" fill="#00ffe5"/>
<rect x="481.92" y="114.72" width="15.83" height="6.73" fill="#00ffdd"/>
<rect x="308.40" y="121.40" width="15.83" height="6.73" fill="#fff200"/>
<rect x="324.17" y="121.40" width="15.83" height="6.73" fill="#aaff00"/>
<rect x="339.95" y="121.40" width="15.83" height="6.73" fill="#95ff00"/>
<rect x="355.72" y="121.40" width="15.83" height="6.73" fill="#00ff00"/>
<rect x="371.50" y="121.40" width="15.83" height="6.73" fill="#00ff00"/>
<rect x="387.27" y="121.40" width="15.83" height="6.73" fill="#00ff00"/>
<rect x="403.05" y="121.40" width="15.83" height="6.73" fill="#00ff00"/>
<rect x="418.82" y="121.40" width="15.83" height="6.73" fill="#00ff00"/>
<rect x="434.60" y="121.40" width="15.83" height="6.73" fill="#00ff00"/>
<rect x="450.38" y="121.40" width="15.83" height="6.73" fill="#00e5ff"/>
<rect x="466.15" y="121.40" width="15.83" height="6.73" fill="#00eeff"/>
<rect x="481.92" y="121.40" width="15.83" height="6.73" fill="#00ffc8"/>
<rect x="308.40" y="128.08" width="15.83" height="6.73" fill="#ffc800"/>
<rect x="324.17" y="128.08" width="15.83" height="6.73" fill="#00ff00"/>
<rect x="339.95" y="128.08" width="15.83" height="6.73" fill="#ffee00"/>
<rect x="355.72" y="128.08" width="15.83" height="6.73" fill="#ffbf00"/>
<rect x="371.50" y="128.08" width="15.83" height="6.73" fill="#ffc800"/>
<rect x="387.27" y="128.08" width="15.83" height="6.73" fill="#ffd500"/>
<rect x="403.05" y="128.08" width="15.83" height="6.73" fill="#00ff00"/>
<rect x="418.82" y="128.08" width="15.83" height="6.73" fill="#ffaa00"/>
<rect x="434.60" y="128.08" width="15.83" height="6.73" fill="#15ff00"/>
<rect x="450.38" y="128.08" width="15.83" height="6.73" fill="#0084ff"/>
<rect x="466.15" y="128.08" width="15.83" height="6.73" fill="#00eeff"/>
<rect x="481.92" y="128.08" width="15.83" height="6.73" fill="#00ff80"/>
<rect x="308.40" y="134.76" width="15.83" height="6.73" fill="#e1ff00"/>
<rect x="324.17" y="134.76" width="15.83" height="6.73" fill="#aaff00"/>
<rect x="339.95" y="134.76" width="15.83" height="6.73" fill="#b3ff00"/>
<rect x="355.72" y="134.76" width="15.83" height="6.73" fill="#00ff00"/>
<rect x="371.50" y="134.76" width="15.83" height="6.73" fill="#00ff00"/>
<rect x="387.27" y="134.76" width="15.83" height="6.73" fill="#00ff00"/>
<rect x="403.05" y="134.76" width="15.83" height="6.73" fill="#00ff00"/>
<rect x="418.82" y="134.76" width="15.83" height="6.73" fill="#00ff00"/>
<rect x="434.60" y="134.76" width="15.83" height="6.73" fill="#00ff00"/>
<rect x="450.38" y="134.76" width="15.83" height="6.73" fill="#00e5ff"/>
<rect x="466.15" y="134.76" width="15.83" height="6.73" fill="#00eeff"/>
<rect x="481.92" y="134.76" width="15.83" height="6.73" fill="#00ffc8"/>
<rect x="308.40" y="141.44" width="15.83" height="6.73" fill="#d4ff00"/>
<rect x="324.17" y="141.44" width="15.83" height="6.73" fill="#bfff00"/>
<rect x="339.95" y="141.44" width="15.83" height="6.73" fill="#eeff00"/>
<rect x="355.72" y="141.44" width="15.83" height="6.73" fill="#00ff00"/>
<rect x="371.50" y="141.44" width="15.83" height="6.73" fill="#00ff00"/>
<rect x="387.27" y="141.44" width="15.83" height="6.73" fill="#00ff00"/>
<rect x="403.05" y="141.44" width="15.83" height="6.73" fill="#00ff00"/>
<rect x="418.82" y="141.44" width="15.83" height="6.73" fill="#00ff00"/>
<rect x="434.60" y="141.44" width="15.83" height="6.73" fill="#00ff00"/>
<rect x="450.38" y="141.44" width="15.83" height="6.73" fill="#00eeff"/>
<rect x="466.15" y="141.44" width="15.83" height="6.73" fill="#00ff95"/>
<rect x="481.92" y="141.44" width="15.83" height="6.73" fill="#00ffdd"/>
<rect x="308.40" y="148.12" width="15.83" height="6.73" fill="#f7ff00"/>
<rect x="324.17" y="148.12" width="15.83" height="6.73" fill="#d4ff00"/>
<rect x="339.95" y="148.12" width="15.83" height="6.73" fill="#80ff00"/>
<rect x="355.72" y="148.12" width="15.83" height="6.73" fill="#00ff00"/>
<rect x="371.50" y="148.12" width="15.83" height="6.73" fill="#8cff00"/>
<rect x="387.27" y="148.12" width="15.83" height="6.73" fill="#00ff00"/>
<rect x="403.05" y="148.12" width="15.83" height="6.73" fill="#00ff00"/>
<rect x="418.82" y="148.12" width="15.83" height="6.73" fill="#00ff00"/>
<rect x="434.60" y="148.12" width="15.83" height="6.73" fill="#00ff00"/>
<rect x="450.38" y="148.12" width="15.83" height="6.73" fill="#00c8ff"/>
<rect x="466.15" y="148.12" width="15.83" height="6.73" fill="#00ffdd"/>
<rect x="481.92" y="148.12" width="15.83" height="6.73" fill="#00ffc8"/>
<rect x="308.40" y="154.80" width="15.83" height="6.73" fill="#bfff00"/>
<rect x="324.17" y="154.80" width="15.83" height="6.73" fill="#ddff00"/>
<rect x="339.95" y="154.80" width="15.83" height="6.73" fill="#bfff00"/>
<rect x="355.72" y="154.80" width="15.83" height="6.73" fill="#00ff00"/>
<rect x="371.50" y="154.80" width="15.83" height="6.73" fill="#22ff00"/>
<rect x="387.27" y="154.80" width="15.83" height="6.73" fill="#00ff00"/>
<rect x="403.05" y="154.80" width="15.83" height="6.73" fill="#f7ff00"/>
<rect x="418.82" y="154.80" width="15.83" height="6.73" fill="#ddff00"/>
<rect x="434.60" y="154.80" width="15.83" height="6.73" fill="#f7ff00"/>
<rect x="450.38" y="154.80" width="15.83" height="6.73" fill="#00ffbf"/>
<rect x="466.15" y="154.80" width="15.83" height="6.73" fill="#00ffb3"/>
<rect x="481.92" y="154.80" width="15.83" height="6.73" fill="#00ffe5"/>
<rect x="308.40" y="161.48" width="15.83" height="6.73" fill="#ffe100"/>
<rect x="324.17" y="161.48" width="15.83" height="6.73" fill="#00ff00"/>
<rect x="339.95" y="161.48" width="15.83" height="6.73" fill="#ffc800"/>
<rect x="355.72" y="161.48" width="15.83" height="6.73" fill="#ff1500"/>
<rect x="371.50" y="161.48" width="15.83" height="6.73" fill="#ffe100"/>
<rect x="387.27" y="161.48" width="15.83" height="6.73" fill="#eeff00"/>
<rect x="403.05" y="161.48" width="15.83" height="6.73" fill="#c8ff00"/>
<rect x="418.82" y="161.48" width="15.83" height="6.73" fill="#ffc800"/>
<rect x="434.60" y="161.48" width="15.83" height="6.73" fill="#8cff00"/>
<rect x="450.38" y="161.48" width="15.83" height="6.73" fill="#00ffe5"/>
<rect x="466.15" y="161.48" width="15.83" height="6.73" fill="#00ff51"/>
<rect x="481.92" y="161.48" width="15.83" height="6.73" fill="#00ffd4"/>
<rect x="308.40" y="168.16" width="15.83" height="6.73" fill="#aaff00"/>
<rect x="324.17" y="168.16" width="15.83" height="6.73" fill="#fbff00"/>
<rect x="339.95" y="168.16" width="15.83" height="6.73" fill="#aaff00"/>
<rect x="355.72" y="168.16" width="15.83" height="6.73" fill="#00ff00"/>
<rect x="371.50" y="168.16" width="15.83" height="6.73" fill="#6eff00"/>
<rect x="387.27" y="168.16" width="15.83" height="6.73" fill="#77ff00"/>
<rect x="403.05" y="168.16" width="15.83" height="6.73" fill="#00ff00"/>
<rect x="418.82" y="168.16" width="15.83" height="6.73" fill="#00ff00"/>
<rect x="434.60" y="168.16" width="15.83" height="6.73" fill="#00ff00"/>
<rect x="450.38" y="168.16" width="15.83" height="6.73" fill="#00ffc8"/>
<rect x="466.15" y="168.16" width="15.83" height="6.73" fill="#00ffaa"/>
<rect x="481.92" y="168.16" width="15.83" height="6.73" fill="#00ffa2"/>
<rect x="308.40" y="174.84" width="15.83" height="6.73" fill="#aaff00"/>
<rect x="324.17" y="174.84" width="15.83" height="6.73" fill="#ffff00"/>
<rect x="339.95" y="174.84" width="15.83" height="6.73" fill="#bfff00"/>
<rect x="355.72" y="174.84" width="15.83" height="6.73" fill="#c8ff00"/>
<rect x="371.50" y="174.84" width="15.83" height="6.73" fill="#c8ff00"/>
<rect x="387.27" y="174.84" width="15.83" height="6.73" fill="#b3ff00"/>
<rect x="403.05" y="174.84" width="15.83" height="6.73" fill="#80ff00"/>
<rect x="418.82" y="174.84" width="15.83" height="6.73" fill="#3cff00"/>
<rect x="434.60" y="174.84" width="15.83" height="6.73" fill="#6eff00"/>
<rect x="450.38" y="174.84" width="15.83" height="6.73" fill="#00ffee"/>
<rect x="466.15" y="174.84" width="15.83" height="6.73" fill="#00ff95"/>
<rect x="481.92" y="174.84" width="15.83" height="6.73" fill="#00ff33"/>
<rect x="308.40" y="181.52" width="15.83" height="6.73" fill="#ffdd00"/>
<rect x="324.17" y="181.52" width="15.83" height="6.73" fill="#80ff00"/>
<rect x="339.95" y="181.52" width="15.83" height="6.73" fill="#95ff00"/>
<rect x="355.72" y="181.52" width="15.83" height="6.73" fill="#66ff00"/>
<rect x="371.50" y="181.52" width="15.83" height="6.73" fill="#6eff00"/>
<rect x="387.27" y="181.52" width="15.83" height="6.73" fill="#00ff00"/>
<rect x="403.05" y="181.52" width="15.83" height="6.73" fill="#00ff00"/>
<rect x="418.82" y="181.52" width="15.83" height="6.73" fill="#00ff00"/>
<rect x="434.60" y="181.52" width="15.83" height="6.73" fill="#00ff00"/>
<rect x="450.38" y="181.52" width="15.83" height="6.73" fill="#00ffb3"/>
<rect x="466.15" y="181.52" width="15.83" height="6.73" fill="#00ffa2"/>
<rect x="481.92" y="181.52" width="15.83" height="6.73" fill="#00ff8c"/>
<rect x="308.40" y="188.20" width="15.83" height="6.73" fill="#ffbf00"/>
<rect x="324.17" y="188.20" width="15.83" height="6.73" fill="#00ff00"/>
<rect x="339.95" y="188.20" width="15.83" height="6.73" fill="#8cff00"/>
<rect x="355.72" y="188.20" width="15.83" height="6.73" fill="#00ff00"/>
<rect x="371.50" y="188.20" width="15.83" height="6.73" fill="#3cff00"/>
<rect x="387.27" y="188.20" width="15.83" height="6.73" fill="#00ff00"/>
<rect x="403.05" y="188.20" width="15.83" height="6.73" fill="#00ff00"/>
<rect x="418.82" y="188.20" width="15.83" height="6.73" fill="#00ff00"/>
<rect x="434.60" y="188.20" width="15.83" height="6.73" fill="#00ff00"/>
<rect x="450.38" y="188.20" width="15.83" height="6.73" fill="#00ffc8"/>
<rect x="466.15" y="188.20" width="15.83" height="6.73" fill="#00ff95"/>
<rect x="481.92" y="188.20" width="15.83" height="6.73" fill="#00ff95"/>
<rect x="308.40" y="194.88" width="15.83" height="6.73" fill="#95ff00"/>
<rect x="324.17" y="194.88" width="15.83" height="6.73" fill="#e6ff00"/>
<rect x="339.95" y="194.88" width="15.83" height="6.73" fill="#ddff00"/>
<rect x="355.72" y="194.88" width="15.83" height="6.73" fill="#66ff00"/>
<rect x="371.50" y="194.88" width="15.83" height="6.73" fill="#6eff00"/>
<rect x="387.27" y="194.88" width="15.83" height="6.73" fill="#00ff00"/>
<rect x="403.05" y="194.88" width="15.83" height="6.73" fill="#59ff00"/>
<rect x="418.82" y="194.88" width="15.83" height="6.73" fill="#00ff00"/>
<rect x="434.60" y="194.88" width="15.83" height="6.73" fill="#ddff00"/>
<rect x="450.38" y="194.88" width="15.83" height="6.73" fill="#00ff3c"/>
<rect x="466.15" y="194.88" width="15.83" height="6.73" fill="#00ffc8"/>
<rect x="481.92" y="194.88" width="15.83" height="6.73" fill="#00ffaa"/>
<rect x="308.40" y="201.56" width="15.83" height="6.73" fill="#e6ff00"/>
<rect x="324.17" y="201.56" width="15.83" height="6.73" fill="#b3ff00"/>
<rect x="339.95" y="201.56" width="15.83" height="6.73" fill="#bfff00"/>
<rect x="355.72" y="201.56" width="15.83" height="6.73" fill="#2aff00"/>
<rect x="371.50" y="201.56" width="15.83" height="6.73" fill="#00ff00"/>
<rect x="387.27" y="201.56" width="15.83" height="6.73" fill="#00ff00"/>
<rect x="403.05" y="201.56" width="15.83" height="6.73" fill="#fbff00"/>
<rect x="418.82" y="201.56" width="15.83" height="6.73" fill="#fff700"/>
<rect x="434.60" y="201.56" width="15.83" height="6.73" fill="#ddff00"/>
<rect x="450.38" y="201.56" width="15.83" height="6.73" fill="#00ffc8"/>
<rect x="466.15" y="201.56" width="15.83" height="6.73" fill="#00ff3c"/>
<rect x="481.92" y="201.56" width="15.83" height="6.73" fill="#00ff44"/>
<rect x="308.40" y="208.24" width="15.83" height="6.73" fill="#ffe500"/>
<rect x="324.17" y="208.24" width="15.83" height="6.73" fill="#80ff00"/>
<rect x="339.95" y="208.24" width="15.83" height="6.73" fill="#8cff00"/>
<rect x="355.72" y="208.24" width="15.83" height="6.73" fill="#ffe100"/>
<rect x="371.50" y="208.24" width="15.83" height="6.73" fill="#80ff00"/>
<rect x="387.27" y="208.24" width="15.83" height="6.73" fill="#aaff00"/>
<rect x="403.05" y="208.24" width="15.83" height="6.73" fill="#eeff00"/>
<rect x="418.82" y="208.24" width="15.83" height="6.73" fill="#66ff00"/>
<rect x="434.60" y="208.24" width="15.83" height="6.73" fill="#e6ff00"/>
<rect x="450.38" y="208.24" width="15.83" height="6.73" fill="#00ffbf"/>
<rect x="466.15" y="208.24" width="15.83" height="6.73" fill="#00ffaa"/>
<rect x="481.92" y="208.24" width="15.83" height="6.73" fill="#00ff62"/>
<rect x="308.40" y="214.92" width="15.83" height="6.73" fill="#ffe100"/>
<rect x="324.17" y="214.92" width="15.83" height="6.73" fill="#95ff00"/>
<rect x="339.95" y="214.92" width="15.83" height="6.73" fill="#b3ff00"/>
<rect x="355.72" y="214.92" width="15.83" height="6.73" fill="#ff6600"/>
<rect x="371.50" y="214.92" width="15.83" height="6.73" fill="#ff6f00"/>
<rect x="387.27" y="214.92" width="15.83" height="6.73" fill="#ff5900"/>
<rect x="403.05" y="214.92" width="15.83" height="6.73" fill="#aaff00"/>
<rect x="418.82" y="214.92" width="15.83" height="6.73" fill="#c8ff00"/>
<rect x="434.60" y="214.92" width="15.83" height="6.73" fill="#51ff00"/>
<rect x="450.38" y="214.92" width="15.83" height="6.73" fill="#00ff95"/>
<rect x="466.15" y="214.92" width="15.83" height="6.73" fill="#00ff77"/>
<rect x="481.92" y="214.92" width="15.83" height="6.73" fill="#00ff6f"/>
<rect x="308.40" y="221.60" width="15.83" height="6.73" fill="#a2ff00"/>
<rect x="324.17" y="221.60" width="15.83" height="6.73" fill="#c8ff00"/>
<rect x="339.95" y="221.60" width="15.83" height="6.73" fill="#fbff00"/>
<rect x="355.72" y="221.60" width="15.83" height="6.73" fill="#95ff00"/>
<rect x="371.50" y="221.60" width="15.83" height="6.73" fill="#51ff00"/>
<rect x="387.27" y="221.60" width="15.83" height="6.73" fill="#ffc800"/>
<rect x="403.05" y="221.60" width="15.83" height="6.73" fill="#c8ff00"/>
<rect x="418.82" y="221.60" width="15.83" height="6.73" fill="#95ff00"/>
<rect x="434.60" y="221.60" width="15.83" height="6.73" fill="#d4ff00"/>
<rect x="450.38" y="221.60" width="15.83" height="6.73" fill="#00ff6f"/>
<rect x="466.15" y="221.60" width="15.83" height="6.73" fill="#00ff33"/>
<rect x="481.92" y="221.60" width="15.83" height="6.73" fill="#00ff26"/>
<rect x="308.40" y="228.28" width="15.83" height="6.73" fill="#aaff00"/>
<rect x="324.17" y="228.28" width="15.83" height="6.73" fill="#f7ff00"/>
<rect x="339.95" y="228.28" width="15.83" height="6.73" fill="#aaff00"/>
<rect x="355.72" y="228.28" width="15.83" height="6.73" fill="#ddff00"/>
<rect x="371.50" y="228.28" width="15.83" height="6.73" fill="#bfff00"/>
<rect x="387.27" y="228.28" width="15.83" height="6.73" fill="#b3ff00"/>
<rect x="403.05" y="228.28" width="15.83" height="6.73" fill="#f7ff00"/>
<rect x="418.82" y="228.28" width="15.83" height="6.73" fill="#ffe100"/>
<rect x="434.60" y="228.28" width="15.83" height="6.73" fill="#f7ff00"/>
<rect x="450.38" y="228.28" width="15.83" height="6.73" fill="#00ff95"/>
<rect x="466.15" y="228.28" width="15.83" height="6.73" fill="#00ff80"/>
<rect x="481.92" y="228.28" width="15.83" height="6.73" fill="#00ff15"/>
<rect x="308.40" y="234.96" width="15.83" height="6.73" fill="#2aff00"/>
<rect x="324.17" y="234.96" width="15.83" height="6.73" fill="#ddff00"/>
<rect x="339.95" y="234.96" width="15.83" height="6.73" fill="#f7ff00"/>
<rect x="355.72" y="234.96" width="15.83" height="6.73" fill="#bfff00"/>
<rect x="371.50" y="234.96" width="15.83" height="6.73" fill="#aaff00"/>
<rect x="387.27" y="234.96" width="15.83" height="6.73" fill="#95ff00"/>
<rect x="403.05" y="234.96" width="15.83" height="6.73" fill="#00ff00"/>
<rect x="418.82" y="234.96" width="15.83" height="6.73" fill="#95ff00"/>
<rect x="434.60" y="234.96" width="15.83" height="6.73" fill="#80ff00"/>
<rect x="450.38" y="234.96" width="15.83" height="6.73" fill="#00ff51"/>
<rect x="466.15" y="234.96" width="15.83" height="6.73" fill="#00ff08"/>
<rect x="481.92" y="234.96" width="15.83" height="6.73" fill="#00ff08"/>
<rect x="308.40" y="241.64" width="15.83" height="6.73" fill="#2aff00"/>
<rect x="324.17" y="241.64" width="15.83" height="6.73" fill="#ffff00"/>
<rect x="339.95" y="241.64" width="15.83" height="6.73" fill="#e6ff00"/>
<rect x="355.72" y="241.64" width="15.83" height="6.73" fill="#95ff00"/>
<rect x="371.50" y="241.64" width="15.83" height="6.73" fill="#08ff00"/>
<rect x="387.27" y="241.64" width="15.83" height="6.73" fill="#8cff00"/>
<rect x="403.05" y="241.64" width="15.83" height="6.73" fill="#00ff00"/>
<rect x="418.82" y="241.64" width="15.83" height="6.73" fill="#51ff00"/>
<rect x="434.60" y="241.64" width="15.83" height="6.73" fill="#48ff00"/>
<rect x="450.38" y="241.64" width="15.83" height="6.73" fill="#00ff33"/>
<rect x="466.15" y="241.64" width="15.83" height="6.73" fill="#00ff08"/>
<rect x="481.92" y="241.64" width="15.83" height="6.73" fill="#00ff08"/>
<rect x="308.40" y="248.32" width="15.83" height="6.73" fill="#33ff00"/>
<rect x="324.17" y="248.32" width="15.83" height="6.73" fill="#ffd000"/>
<rect x="339.95" y="248.32" width="15.83" height="6.73" fill="#aaff00"/>
<rect x="355.72" y="248.32" width="15.83" height="6.73" fill="#08ff00"/>
<rect x="371.50" y="248.32" width="15.83" height="6.73" fill="#3cff00"/>
<rect x="387.27" y="248.32" width="15.83" height="6.73" fill="#ddff00"/>
<rect x="403.05" y="248.32" width="15.83" height="6.73" fill="#8cff00"/>
<rect x="418.82" y="248.32" width="15.83" height="6.73" fill="#80ff00"/>
<rect x="434.60" y="248.32" width="15.83" height="6.73" fill="#e6ff00"/>
<rect x="450.38" y="248.32" width="15.83" height="6.73" fill="#00ff44"/>
<rect x="466.15" y="248.32" width="15.83" height="6.73" fill="#00ff08"/>
<rect x="481.92" y="248.32" width="15.83" height="6.73" fill="#00ff80"/>
<rect x="308.40" y="255.00" width="15.83" height="6.73" fill="#ffd900"/>
<rect x="324.17" y="255.00" width="15.83" height="6.73" fill="#b3ff00"/>
<rect x="339.95" y="255.00" width="15.83" height="6.73" fill="#a2ff00"/>
<rect x="355.72" y="255.00" width="15.83" height="6.73" fill="#fbff00"/>
<rect x="371.50" y="255.00" width="15.83" height="6.73" fill="#e6ff00"/>
<rect x="387.27" y="255.00" width="15.83" height="6.73" fill="#fff700"/>
<rect x="403.05" y="255.00" width="15.83" height="6.73" fill="#aaff00"/>
<rect x="418.82" y="255.00" width="15.83" height="6.73" fill="#95ff00"/>
<rect x="434.60" y="255.00" width="15.83" height="6.73" fill="#b3ff00"/>
<rect x="450.38" y="255.00" width="15.83" height="6.73" fill="#00ff33"/>
<rect x="466.15" y="255.00" width="15.83" height="6.73" fill="#00ff00"/>
<rect x="481.92" y="255.00" width="15.83" height="6.73" fill="#00ff00"/>
<rect x="308.40" y="261.68" width="15.83" height="6.73" fill="#e6ff00"/>
<rect x="324.17" y="261.68" width="15.83" height="6.73" fill="#95ff00"/>
<rect x="339.95" y="261.68" width="15.83" height="6.73" fill="#fbff00"/>
<rect x="355.72" y="261.68" width="15.83" height="6.73" fill="#fbff00"/>
<rect x="371.50" y="261.68" width="15.83" height="6.73" fill="#bfff00"/>
<rect x="387.27" y="261.68" width="15.83" height="6.73" fill="#08ff00"/>
<rect x="403.05" y="261.68" width="15.83" height="6.73" fill="#eaff00"/>
<rect x="418.82" y="261.68" width="15.83" height="6.73" fill="#d4ff00"/>
<rect x="434.60" y="261.68" width="15.83" height="6.73" fill="#b3ff00"/>
<rect x="450.38" y="261.68" width="15.83" height="6.73" fill="#00ff51"/>
<rect x="466.15" y="261.68" width="15.83" height="6.73" fill="#00ff00"/>
<rect x="481.92" y="261.68" width="15.83" height="6.73" fill="#00ff00"/>
<rect x="308.40" y="268.36" width="15.83" height="6.73" fill="#e1ff00"/>
<rect x="324.17" y="268.36" width="15.83" height="6.73" fill="#bfff00"/>
<rect x="339.95" y="268.36" width="15.83" height="6.73" fill="#aaff00"/>
<rect x="355.72" y="268.36" width="15.83" height="6.73" fill="#b3ff00"/>
<rect x="371.50" y="268.36" width="15.83" height="6.73" fill="#ffe100"/>
<rect x="387.27" y="268.36" width="15.83" height="6.73" fill="#d4ff00"/>
<rect x="403.05" y="268.36" width="15.83" height="6.73" fill="#fbff00"/>
<rect x="418.82" y="268.36" width="15.83" height="6.73" fill="#ddff00"/>
<rect x="434.60" y="268.36" width="15.83" height="6.73" fill="#aaff00"/>
<rect x="450.38" y="268.36" width="15.83" height="6.73" fill="#00ff15"/>
<rect x="466.15" y="268.36" width="15.83" height="6.73" fill="#00ff00"/>
<rect x="481.92" y="268.36" width="15.83" height="6.73" fill="#00ff00"/>
<rect x="308.40" y="275.04" width="15.83" height="6.73" fill="#fff200"/>
<rect x="324.17" y="275.04" width="15.83" height="6.73" fill="#15ff00"/>
<rect x="339.95" y="275.04" width="15.83" height="6.73" fill="#fbff00"/>
<rect x="355.72" y="275.04" width="15.83" height="6.73" fill="#b3ff00"/>
<rect x="371.50" y="275.04" width="15.83" height="6.73" fill="#aaff00"/>
<rect x="387.27" y="275.04" width="15.83" height="6.73" fill="#ff1e00"/>
<rect x="403.05" y="275.04" width="15.83" height="6.73" fill="#ffff00"/>
<rect x="418.82" y="275.04" width="15.83" height="6.73" fill="#8cff00"/>
<rect x="434.60" y="275.04" width="15.83" height="6.73" fill="#77ff00"/>
<rect x="450.38" y="275.04" width="15.83" height="6.73" fill="#00ff08"/>
<rect x="466.15" y="275.04" width="15.83" height="6.73" fill="#00ff00"/>
<rect x="481.92" y="275.04" width="15.83" height="6.73" fill="#00ff00"/>
<rect x="308.40" y="281.72" width="15.83" height="6.73" fill="#d4ff00"/>
<rect x="324.17" y="281.72" width="15.83" height="6.73" fill="#bfff00"/>
<rect x="339.95" y="281.72" width="15.83" height="6.73" fill="#aaff00"/>
<rect x="355.72" y="281.72" width="15.83" height="6.73" fill="#ffe500"/>
<rect x="371.50" y="281.72" width="15.83" height="6.73" fill="#ffea00"/>
<rect x="387.27" y="281.72" width="15.83" height="6.73" fill="#ffc800"/>
<rect x="403.05" y="281.72" width="15.83" height="6.73" fill="#ffbf00"/>
<rect x="418.82" y="281.72" width="15.83" height="6.73" fill="#ffc800"/>
<rect x="434.60" y="281.72" width="15.83" height="6.73" fill="#ffb300"/>
<rect x="450.38" y="281.72" width="15.83" height="6.73" fill="#00ff00"/>
<rect x="466.15" y="281.72" width="15.83" height="6.73" fill="#00ff00"/>
<rect x="481.92" y="281.72" width="15.83" height="6.73" fill="#00ff00"/>
</g>
<rect x="308.4" y="21.2" width="189.3" height="267.2" fill="none" stroke="#111" stroke-width="1.1"/>
<defs><linearGradient id="cb" x1="0" y1="1" x2="0" y2="0">
<stop offset="0.0000" stop-color="#ff0000"/>
<stop offset="0.0333" stop-color="#ff2a00"/>
<stop offset="0.0667" stop-color="#ff5500"/>
<stop offset="0.1000" stop-color="#ff8000"/>
<stop offset="0.1333" stop-color="#ffaa00"/>
<stop offset="0.1667" stop-color="#ffd500"/>
<stop offset="0.2000" stop-color="#ffff00"/>
<stop offset="0.2333" stop-color="#d4ff00"/>
<stop offset="0.2667" stop-color="#aaff00"/>
<stop offset="0.3000" stop-color="#80ff00"/>
<stop offset="0.3333" stop-color="#55ff00"/>
<stop offset="0.3667" stop-color="#2aff00"/>
<stop offset="0.4000" stop-color="#00ff00"/>
<stop offset="0.4333" stop-color="#00ff2a"/>
<stop offset="0.4667" stop-color="#00ff55"/>
<stop offset="0.5000" stop-color="#00ff80"/>
<stop offset="0.5333" stop-color="#00ffaa"/>
<stop offset="0.5667" stop-color="#00ffd4"/>
<stop offset="0.6000" stop-color="#00ffff"/>
<stop offset="0.6333" stop-color="#00d4ff"/>
<stop offset="0.6667" stop-color="#00aaff"/>
<stop offset="0.7000" stop-color="#0080ff"/>
<stop offset="0.7333" stop-color="#0055ff"/>
<stop offset="0.7667" stop-color="#002bff"/>
<stop offset="0.8000" stop-color="#0000ff"/>
<stop offset="0.8100" stop-color="#0400ff"/>
<stop offset="0.8570" stop-color="#4000ff"/>
<stop offset="0.9000" stop-color="#9000ff"/>
<stop offset="0.9450" stop-color="#ea00ff"/>
<stop offset="1.0000" stop-color="#ff00ff"/>
</linearGradient></defs>
<rect x="294.1" y="21.3" width="10.9" height="267.1" fill="url(#cb)" stroke="#111" stroke-width="1.1"/>
<line x1="294.5" y1="58.7" x2="296.0" y2="58.7" stroke="#000" stroke-width="1"/>
<line x1="303.0" y1="58.7" x2="304.5" y2="58.7" stroke="#000" stroke-width="1"/>
<text x="287.1" y="60.9" text-anchor="middle" font-family="Liberation Sans, sans-serif" font-size="6.4" fill="#222">4</text>
<line x1="294.5" y1="142.7" x2="296.0" y2="142.7" stroke="#000" stroke-width="1"/>
<line x1="303.0" y1="142.7" x2="304.5" y2="142.7" stroke="#000" stroke-width="1"/>
<text x="287.1" y="144.9" text-anchor="middle" font-family="Liberation Sans, sans-serif" font-size="6.4" fill="#222">2</text>
<line x1="294.5" y1="226.7" x2="296.0" y2="226.7" stroke="#000" stroke-width="1"/>
<line x1="303.0" y1="226.7" x2="304.5" y2="226.7" stroke="#000" stroke-width="1"/>
<text x="287.1" y="228.9" text-anchor="middle" font-family="Liberation Sans, sans-serif" font-size="6.4" fill="#222">0</text>
<text x="501.9" y="26.84" font-family="Liberation Sans, sans-serif" font-weight="bold" font-size="6.45" fill="#000" stroke="#000" stroke-width="0.15">KAL1</text>
<text x="501.9" y="33.52" font-family="Liberation Sans, sans-serif" font-weight="bold" font-size="6.45" fill="#000" stroke="#000" stroke-width="0.15">MYCT1</text>
<text x="501.9" y="40.20" font-family="Liberation Sans, sans-serif" font-weight="bold" font-size="6.45" fill="#000" stroke="#000" stroke-width="0.15">LINC00312</text>
<text x="501.9" y="46.88" font-family="Liberation Sans, sans-serif" font-weight="bold" font-size="6.45" fill="#000" stroke="#000" stroke-width="0.15">MYOCD</text>
<text x="501.9" y="53.56" font-family="Liberation Sans, sans-serif" font-weight="bold" font-size="6.45" fill="#000" stroke="#000" stroke-width="0.15">GPR87</text>
<text x="501.9" y="60.24" font-family="Liberation Sans, sans-serif" font-weight="bold" font-size="6.45" fill="#000" stroke="#000" stroke-width="0.15">ODZ2</text>
<text x="501.9" y="66.92" font-family="Liberation Sans, sans-serif" font-weight="bold" font-size="6.45" fill="#000" stroke="#000" stroke-width="0.15">SULT1E1</text>
<text x="501.9" y="73.60" font-family="Liberation Sans, sans-serif" font-weight="bold" font-size="6.45" fill="#000" stroke="#000" stroke-width="0.15">LMCD1</text>
<text x="501.9" y="80.28" font-family="Liberation Sans, sans-serif" font-weight="bold" font-size="6.45" fill="#000" stroke="#000" stroke-width="0.15">MYH10</text>
<text x="501.9" y="86.96" font-family="Liberation Sans, sans-serif" font-weight="bold" font-size="6.45" fill="#000" stroke="#000" stroke-width="0.15">PTGFRN</text>
<text x="501.9" y="93.64" font-family="Liberation Sans, sans-serif" font-weight="bold" font-size="6.45" fill="#000" stroke="#000" stroke-width="0.15">EPPK1</text>
<text x="501.9" y="100.32" font-family="Liberation Sans, sans-serif" font-weight="bold" font-size="6.45" fill="#000" stroke="#000" stroke-width="0.15">DCLK2</text>
<text x="501.9" y="107.00" font-family="Liberation Sans, sans-serif" font-weight="bold" font-size="6.45" fill="#000" stroke="#000" stroke-width="0.15">KRT81</text>
<text x="501.9" y="113.68" font-family="Liberation Sans, sans-serif" font-weight="bold" font-size="6.45" fill="#000" stroke="#000" stroke-width="0.15">LOC100506610</text>
<text x="501.9" y="120.36" font-family="Liberation Sans, sans-serif" font-weight="bold" font-size="6.45" fill="#000" stroke="#000" stroke-width="0.15">B3GALT2</text>
<text x="501.9" y="127.04" font-family="Liberation Sans, sans-serif" font-weight="bold" font-size="6.45" fill="#000" stroke="#000" stroke-width="0.15">INHBA</text>
<text x="501.9" y="133.72" font-family="Liberation Sans, sans-serif" font-weight="bold" font-size="6.45" fill="#000" stroke="#000" stroke-width="0.15">TLL1</text>
<text x="501.9" y="140.40" font-family="Liberation Sans, sans-serif" font-weight="bold" font-size="6.45" fill="#000" stroke="#000" stroke-width="0.15">SULT1B1</text>
<text x="501.9" y="147.08" font-family="Liberation Sans, sans-serif" font-weight="bold" font-size="6.45" fill="#000" stroke="#000" stroke-width="0.15">SZT2-AS1</text>
<text x="501.9" y="153.76" font-family="Liberation Sans, sans-serif" font-weight="bold" font-size="6.45" fill="#000" stroke="#000" stroke-width="0.15">FLJ34690</text>
<text x="501.9" y="160.44" font-family="Liberation Sans, sans-serif" font-weight="bold" font-size="6.45" fill="#000" stroke="#000" stroke-width="0.15">HEPH</text>
<text x="501.9" y="167.12" font-family="Liberation Sans, sans-serif" font-weight="bold" font-size="6.45" fill="#000" stroke="#000" stroke-width="0.15">ADAMTS16</text>
<text x="501.9" y="173.80" font-family="Liberation Sans, sans-serif" font-weight="bold" font-size="6.45" fill="#000" stroke="#000" stroke-width="0.15">CTGF</text>
<text x="501.9" y="180.48" font-family="Liberation Sans, sans-serif" font-weight="bold" font-size="6.45" fill="#000" stroke="#000" stroke-width="0.15">PPME1</text>
<text x="501.9" y="187.16" font-family="Liberation Sans, sans-serif" font-weight="bold" font-size="6.45" fill="#000" stroke="#000" stroke-width="0.15">FAT3</text>
<text x="501.9" y="193.84" font-family="Liberation Sans, sans-serif" font-weight="bold" font-size="6.45" fill="#000" stroke="#000" stroke-width="0.15">GADD45B</text>
<text x="501.9" y="200.52" font-family="Liberation Sans, sans-serif" font-weight="bold" font-size="6.45" fill="#000" stroke="#000" stroke-width="0.15">ANO4</text>
<text x="501.9" y="207.20" font-family="Liberation Sans, sans-serif" font-weight="bold" font-size="6.45" fill="#000" stroke="#000" stroke-width="0.15">C5orf46</text>
<text x="501.9" y="213.88" font-family="Liberation Sans, sans-serif" font-weight="bold" font-size="6.45" fill="#000" stroke="#000" stroke-width="0.15">GCNT4</text>
<text x="501.9" y="220.56" font-family="Liberation Sans, sans-serif" font-weight="bold" font-size="6.45" fill="#000" stroke="#000" stroke-width="0.15">ITGB3</text>
<text x="501.9" y="227.24" font-family="Liberation Sans, sans-serif" font-weight="bold" font-size="6.45" fill="#000" stroke="#000" stroke-width="0.15">SEL1L3</text>
<text x="501.9" y="233.92" font-family="Liberation Sans, sans-serif" font-weight="bold" font-size="6.45" fill="#000" stroke="#000" stroke-width="0.15">KCNIP1</text>
<text x="501.9" y="240.60" font-family="Liberation Sans, sans-serif" font-weight="bold" font-size="6.45" fill="#000" stroke="#000" stroke-width="0.15">DIAPH2</text>
<text x="501.9" y="247.28" font-family="Liberation Sans, sans-serif" font-weight="bold" font-size="6.45" fill="#000" stroke="#000" stroke-width="0.15">ACSL4</text>
<text x="501.9" y="253.96" font-family="Liberation Sans, sans-serif" font-weight="bold" font-size="6.45" fill="#000" stroke="#000" stroke-width="0.15">LOC389906</text>
<text x="501.9" y="260.64" font-family="Liberation Sans, sans-serif" font-weight="bold" font-size="6.45" fill="#000" stroke="#000" stroke-width="0.15">MGAM</text>
<text x="501.9" y="267.32" font-family="Liberation Sans, sans-serif" font-weight="bold" font-size="6.45" fill="#000" stroke="#000" stroke-width="0.15">MAMDC2</text>
<text x="501.9" y="274.00" font-family="Liberation Sans, sans-serif" font-weight="bold" font-size="6.45" fill="#000" stroke="#000" stroke-width="0.15">GDF15</text>
<text x="501.9" y="280.68" font-family="Liberation Sans, sans-serif" font-weight="bold" font-size="6.45" fill="#000" stroke="#000" stroke-width="0.15">TRAJ59</text>
<text x="501.9" y="287.36" font-family="Liberation Sans, sans-serif" font-weight="bold" font-size="6.45" fill="#000" stroke="#000" stroke-width="0.15">ITGA4</text>
<text transform="translate(319.2,292.4) rotate(-90)" text-anchor="end" font-family="Liberation Sans, sans-serif" font-weight="bold" font-size="6.6" fill="#222">hBM-MPC-1</text>
<text transform="translate(334.9,292.4) rotate(-90)" text-anchor="end" font-family="Liberation Sans, sans-serif" font-weight="bold" font-size="6.6" fill="#222">hBM-MPC-2</text>
<text transform="translate(350.7,292.4) rotate(-90)" text-anchor="end" font-family="Liberation Sans, sans-serif" font-weight="bold" font-size="6.6" fill="#222">hBM-MPC-3</text>
<text transform="translate(366.4,292.4) rotate(-90)" text-anchor="end" font-family="Liberation Sans, sans-serif" font-weight="bold" font-size="6.6" fill="#222">CHA-hES15-MPC-1</text>
<text transform="translate(382.2,292.4) rotate(-90)" text-anchor="end" font-family="Liberation Sans, sans-serif" font-weight="bold" font-size="6.6" fill="#222">CHA-hES15-MPC-2</text>
<text transform="translate(397.9,292.4) rotate(-90)" text-anchor="end" font-family="Liberation Sans, sans-serif" font-weight="bold" font-size="6.6" fill="#222">CHA-hES15-MPC-3</text>
<text transform="translate(413.7,292.4) rotate(-90)" text-anchor="end" font-family="Liberation Sans, sans-serif" font-weight="bold" font-size="6.6" fill="#222">CHA-hNT8-MPC-1</text>
<text transform="translate(429.4,292.4) rotate(-90)" text-anchor="end" font-family="Liberation Sans, sans-serif" font-weight="bold" font-size="6.6" fill="#222">CHA-hNT8-MPC-2</text>
<text transform="translate(445.2,292.4) rotate(-90)" text-anchor="end" font-family="Liberation Sans, sans-serif" font-weight="bold" font-size="6.6" fill="#222">CHA-hNT8-MPC-3</text>
<text transform="translate(460.9,292.4) rotate(-90)" text-anchor="end" font-family="Liberation Sans, sans-serif" font-weight="bold" font-size="6.6" fill="#222">CHA-hNT5-MPC-1</text>
<text transform="translate(476.7,292.4) rotate(-90)" text-anchor="end" font-family="Liberation Sans, sans-serif" font-weight="bold" font-size="6.6" fill="#222">CHA-hNT5-MPC-2</text>
<text transform="translate(492.4,292.4) rotate(-90)" text-anchor="end" font-family="Liberation Sans, sans-serif" font-weight="bold" font-size="6.6" fill="#222">CHA-hNT5-MPC-3</text>
</svg>
</body></html>
